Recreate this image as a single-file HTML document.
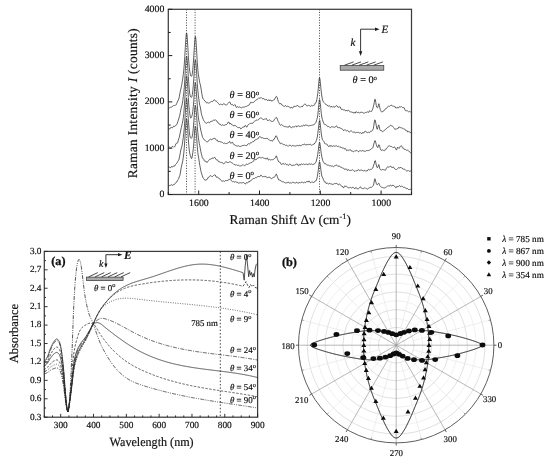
<!DOCTYPE html>
<html lang="en">
<head>
<meta charset="utf-8">
<title>Figure</title>
<style>
html,body{margin:0;padding:0;background:#fff;}
body{width:550px;height:463px;overflow:hidden;font-family:"Liberation Serif", "DejaVu Serif", serif;}
svg{display:block;}
</style>
</head>
<body>
<svg width="550" height="463" viewBox="0 0 550 463" font-family='"Liberation Serif", "DejaVu Serif", serif' fill="#111" text-rendering="geometricPrecision">
<g id="raman">
<rect x="168.3" y="9.3" width="243.2" height="185.2" fill="none" stroke="#3d3d3d" stroke-width="1.25"/>
<path d="M168.3 194.5h4M168.3 171.35h2.4M168.3 148.2h4M168.3 125.05h2.4M168.3 101.9h4M168.3 78.75h2.4M168.3 55.6h4M168.3 32.45h2.4M168.3 9.3h4M168.3 194.5v-2.4M198.7 194.5v-4M229.1 194.5v-2.4M259.5 194.5v-4M289.9 194.5v-2.4M320.3 194.5v-4M350.7 194.5v-2.4M381.1 194.5v-4M411.5 194.5v-2.4" fill="none" stroke="#1e1e1e" stroke-width="1.0" />
<text transform="translate(164.3 196.8) scale(1.0 1)" font-size="9.8" text-anchor="end" stroke="#111" stroke-width="0.18" >0</text>
<text transform="translate(164.3 150.5) scale(1.0 1)" font-size="9.8" text-anchor="end" stroke="#111" stroke-width="0.18" >1000</text>
<text transform="translate(164.3 104.2) scale(1.0 1)" font-size="9.8" text-anchor="end" stroke="#111" stroke-width="0.18" >2000</text>
<text transform="translate(164.3 57.9) scale(1.0 1)" font-size="9.8" text-anchor="end" stroke="#111" stroke-width="0.18" >3000</text>
<text transform="translate(164.3 11.6) scale(1.0 1)" font-size="9.8" text-anchor="end" stroke="#111" stroke-width="0.18" >4000</text>
<text transform="translate(198.9 206.1) scale(1.0 1)" font-size="9.8" text-anchor="middle" stroke="#111" stroke-width="0.18" >1600</text>
<text transform="translate(259.7 206.1) scale(1.0 1)" font-size="9.8" text-anchor="middle" stroke="#111" stroke-width="0.18" >1400</text>
<text transform="translate(320.5 206.1) scale(1.0 1)" font-size="9.8" text-anchor="middle" stroke="#111" stroke-width="0.18" >1200</text>
<text transform="translate(381.3 206.1) scale(1.0 1)" font-size="9.8" text-anchor="middle" stroke="#111" stroke-width="0.18" >1000</text>
<path d="M186.5 9.3V194.5" fill="none" stroke="#3c3c3c" stroke-width="0.9" stroke-dasharray="1.1 1.5" />
<path d="M195.1 9.3V194.5" fill="none" stroke="#3c3c3c" stroke-width="0.9" stroke-dasharray="1.1 1.5" />
<path d="M319.5 9.3V194.5" fill="none" stroke="#3c3c3c" stroke-width="0.9" stroke-dasharray="1.1 1.5" />
<path d="M168.3 186.18 L168.8 185.73 L169.3 185.54 L169.8 185.51 L170.3 185.21 L170.8 185.22 L171.3 184.95 L171.8 184.71 L172.3 185.29 L172.8 185.32 L173.3 184.71 L173.8 184.64 L174.3 184.58 L174.8 184.04 L175.3 183.17 L175.8 182.53 L176.3 182.37 L176.8 181.94 L177.3 180.82 L177.8 179.87 L178.3 179.43 L178.8 178.15 L179.3 176.76 L179.8 175.7 L180.3 173.13 L180.8 170.01 L181.3 167.23 L181.8 164.8 L182.3 163.07 L182.8 160.54 L183.3 157.21 L183.8 153.1 L184.3 147.35 L184.8 140.28 L185.3 131.89 L185.8 123.75 L186.3 118.72 L186.8 119.1 L187.3 123.97 L187.8 131.04 L188.3 138.82 L188.8 145.57 L189.3 150.58 L189.8 153.7 L190.3 155.43 L190.8 156.92 L191.3 158.41 L191.8 158.43 L192.3 156 L192.8 152.7 L193.3 148.74 L193.8 142.73 L194.3 135.71 L194.8 129.61 L195.3 126.34 L195.8 127.4 L196.3 132.58 L196.8 139.85 L197.3 146.82 L197.8 152.38 L198.3 156.03 L198.8 158.82 L199.3 162.22 L199.8 165.29 L200.3 167.91 L200.8 170.47 L201.3 172.63 L201.8 174.24 L202.3 175.65 L202.8 177.01 L203.3 178.36 L203.8 178.82 L204.3 179.24 L204.8 180.12 L205.3 180.25 L205.8 179.8 L206.3 179.82 L206.8 179.84 L207.3 178.82 L207.8 177.82 L208.3 177.76 L208.8 177.53 L209.3 176.61 L209.8 175.91 L210.3 175.72 L210.8 175.67 L211.3 175.93 L211.8 176.57 L212.3 176.64 L212.8 176.09 L213.3 175.65 L213.8 175.35 L214.3 175.02 L214.8 174.85 L215.3 175.04 L215.8 176.06 L216.3 177.27 L216.8 177.36 L217.3 177.05 L217.8 177.19 L218.3 177.74 L218.8 178.56 L219.3 178.8 L219.8 178.8 L220.3 179.34 L220.8 180.03 L221.3 180.67 L221.8 181.15 L222.3 181.31 L222.8 180.96 L223.3 180.82 L223.8 181.28 L224.3 181.59 L224.8 181.15 L225.3 180.56 L225.8 180.65 L226.3 180.69 L226.8 180.33 L227.3 180.5 L227.8 180.74 L228.3 179.96 L228.8 179.33 L229.3 179.48 L229.8 179.41 L230.3 179.52 L230.8 180.14 L231.3 180.68 L231.8 181.16 L232.3 181.6 L232.8 181.6 L233.3 181.47 L233.8 181.63 L234.3 181.97 L234.8 182.13 L235.3 181.77 L235.8 181.74 L236.3 182.21 L236.8 182.02 L237.3 182.07 L237.8 182.76 L238.3 183.12 L238.8 183.24 L239.3 183 L239.8 182.56 L240.3 182.54 L240.8 182.86 L241.3 182.99 L241.8 182.92 L242.3 182.76 L242.8 182.67 L243.3 182.66 L243.8 182.55 L244.3 182.98 L244.8 183.66 L245.3 184.01 L245.8 183.54 L246.3 182.64 L246.8 182.8 L247.3 183.17 L247.8 182.55 L248.3 181.77 L248.8 181.96 L249.3 181.88 L249.8 180.98 L250.3 180.99 L250.8 181 L251.3 180.36 L251.8 179.86 L252.3 179.17 L252.8 178.61 L253.3 178.54 L253.8 178.57 L254.3 178.58 L254.8 178.3 L255.3 177.68 L255.8 177.6 L256.3 177.87 L256.8 177.3 L257.3 176.63 L257.8 176.6 L258.3 176.52 L258.8 176.46 L259.3 176.66 L259.8 176.71 L260.3 176.04 L260.8 175.14 L261.3 175.4 L261.8 176.19 L262.3 176.56 L262.8 176.83 L263.3 176.64 L263.8 176.52 L264.3 176.76 L264.8 176.22 L265.3 176.26 L265.8 176.97 L266.3 176.84 L266.8 177.26 L267.3 177.88 L267.8 177.4 L268.3 177.2 L268.8 177.56 L269.3 177.27 L269.8 177.12 L270.3 177.85 L270.8 178.47 L271.3 178.65 L271.8 178.5 L272.3 178.13 L272.8 177.7 L273.3 177.38 L273.8 177.43 L274.3 177.34 L274.8 176.66 L275.3 175.68 L275.8 174.48 L276.3 174.06 L276.8 174.96 L277.3 176.44 L277.8 177.88 L278.3 179.17 L278.8 180.05 L279.3 180.12 L279.8 179.98 L280.3 180.2 L280.8 180.88 L281.3 181.32 L281.8 181.23 L282.3 181.56 L282.8 182 L283.3 181.88 L283.8 181.97 L284.3 182.42 L284.8 182.52 L285.3 182.72 L285.8 183.17 L286.3 183.1 L286.8 182.54 L287.3 182.41 L287.8 182.68 L288.3 182.38 L288.8 182.27 L289.3 182.98 L289.8 183.28 L290.3 182.96 L290.8 182.84 L291.3 183.06 L291.8 182.89 L292.3 182.44 L292.8 182.25 L293.3 182.46 L293.8 182.67 L294.3 182.78 L294.8 182.93 L295.3 183.06 L295.8 183.03 L296.3 182.5 L296.8 182.17 L297.3 182.55 L297.8 183.09 L298.3 183.35 L298.8 182.76 L299.3 182.03 L299.8 182.56 L300.3 183.12 L300.8 182.62 L301.3 182.24 L301.8 182.25 L302.3 182.28 L302.8 182.41 L303.3 182.62 L303.8 182.85 L304.3 182.5 L304.8 182.08 L305.3 182.43 L305.8 182.54 L306.3 182.05 L306.8 181.45 L307.3 181.41 L307.8 182.05 L308.3 181.83 L308.8 181.03 L309.3 181.2 L309.8 182.11 L310.3 182.66 L310.8 182.62 L311.3 182.35 L311.8 181.77 L312.3 181.78 L312.8 182.49 L313.3 182.6 L313.8 182.44 L314.3 182.2 L314.8 181.35 L315.3 180.94 L315.8 181.11 L316.3 180.4 L316.8 178.83 L317.3 176.79 L317.8 173.74 L318.3 169.98 L318.8 165.46 L319.3 161.77 L319.8 161.97 L320.3 165.31 L320.8 169.21 L321.3 173.05 L321.8 175.92 L322.3 177.11 L322.8 178.07 L323.3 179.26 L323.8 180.47 L324.3 181.74 L324.8 182.05 L325.3 181.8 L325.8 182.68 L326.3 183.7 L326.8 183.22 L327.3 182.9 L327.8 183.55 L328.3 183.98 L328.8 183.79 L329.3 183.32 L329.8 183.43 L330.3 184.01 L330.8 183.83 L331.3 183.66 L331.8 184.43 L332.3 184.66 L332.8 184.2 L333.3 184.12 L333.8 184.14 L334.3 183.7 L334.8 183.52 L335.3 183.62 L335.8 183.55 L336.3 183.52 L336.8 183.43 L337.3 183.7 L337.8 184.5 L338.3 184.91 L338.8 184.33 L339.3 184.01 L339.8 184.37 L340.3 184.61 L340.8 185.1 L341.3 185.85 L341.8 186.54 L342.3 186.65 L342.8 186.71 L343.3 187.61 L343.8 187.74 L344.3 186.47 L344.8 185.78 L345.3 186.41 L345.8 186.57 L346.3 186.24 L346.8 186.76 L347.3 187.1 L347.8 187.18 L348.3 187.79 L348.8 188.01 L349.3 187.71 L349.8 187.6 L350.3 187.43 L350.8 187.45 L351.3 187.92 L351.8 188.11 L352.3 187.49 L352.8 187.22 L353.3 187.61 L353.8 187.68 L354.3 188.29 L354.8 188.96 L355.3 188.37 L355.8 187.51 L356.3 187.72 L356.8 188.51 L357.3 188.69 L357.8 188.78 L358.3 188.87 L358.8 188.52 L359.3 188.1 L359.8 187.38 L360.3 186.72 L360.8 187.21 L361.3 188.08 L361.8 188.45 L362.3 188.54 L362.8 188.5 L363.3 188.62 L363.8 188.58 L364.3 188.14 L364.8 187.76 L365.3 187.84 L365.8 188.4 L366.3 188.6 L366.8 188.77 L367.3 189.15 L367.8 188.9 L368.3 188.47 L368.8 188.07 L369.3 187.64 L369.8 187.77 L370.3 187.53 L370.8 187.18 L371.3 187.37 L371.8 187.1 L372.3 186.59 L372.8 186.06 L373.3 185.48 L373.8 183.94 L374.3 180.92 L374.8 178.7 L375.3 179.53 L375.8 181.89 L376.3 183.45 L376.8 184.56 L377.3 184.89 L377.8 184.22 L378.3 183.55 L378.8 183.17 L379.3 184.29 L379.8 185.57 L380.3 186.27 L380.8 186.78 L381.3 187.07 L381.8 187.44 L382.3 187.59 L382.8 187.51 L383.3 187.73 L383.8 188.04 L384.3 187.99 L384.8 187.91 L385.3 187.55 L385.8 187.01 L386.3 186.94 L386.8 186.81 L387.3 186.34 L387.8 185.83 L388.3 185.7 L388.8 186.25 L389.3 186.27 L389.8 185.48 L390.3 185.17 L390.8 185.33 L391.3 185.67 L391.8 186.08 L392.3 185.73 L392.8 185 L393.3 185.25 L393.8 185.89 L394.3 186.25 L394.8 186.4 L395.3 186.76 L395.8 187.69 L396.3 187.56 L396.8 186.38 L397.3 186.43 L397.8 186.94 L398.3 186.69 L398.8 186.15 L399.3 185.61 L399.8 185.77 L400.3 186.49 L400.8 186.75 L401.3 186.32 L401.8 186.1 L402.3 186.43 L402.8 186.88 L403.3 187.27 L403.8 187.3 L404.3 187.29 L404.8 187.41 L405.3 187.63 L405.8 188.44 L406.3 188.71 L406.8 188.34 L407.3 188.39 L407.8 188.72 L408.3 189.38 L408.8 189.64 L409.3 189.54 L409.8 189.65 L410.3 189.41 L410.8 189.17 L411.3 189.37" fill="none" stroke="#2a2a2a" stroke-width="0.75" stroke-linejoin="round"/>
<path d="M168.3 167.36 L168.8 167.31 L169.3 167.25 L169.8 167.24 L170.3 167.6 L170.8 167.58 L171.3 166.73 L171.8 166.36 L172.3 166.98 L172.8 167.17 L173.3 166.35 L173.8 165.77 L174.3 166.15 L174.8 165.91 L175.3 164.81 L175.8 164.37 L176.3 163.81 L176.8 163.04 L177.3 162.39 L177.8 161.34 L178.3 160.67 L178.8 159.82 L179.3 157.87 L179.8 155.35 L180.3 152.7 L180.8 150.11 L181.3 148.16 L181.8 146.68 L182.3 144.14 L182.8 140.8 L183.3 137.27 L183.8 133.15 L184.3 127.72 L184.8 121.04 L185.3 113.3 L185.8 104.65 L186.3 98.61 L186.8 98.63 L187.3 104.04 L187.8 111.67 L188.3 119.2 L188.8 126.04 L189.3 131.53 L189.8 135.37 L190.3 137.52 L190.8 138.2 L191.3 138.33 L191.8 137.72 L192.3 135.98 L192.8 133.2 L193.3 128.28 L193.8 121.6 L194.3 114.61 L194.8 108.37 L195.3 105.42 L195.8 106.99 L196.3 111.74 L196.8 118.77 L197.3 126.4 L197.8 132.5 L198.3 137.15 L198.8 140.74 L199.3 143.49 L199.8 145.85 L200.3 148.48 L200.8 151.4 L201.3 153.63 L201.8 155.46 L202.3 157.55 L202.8 158.54 L203.3 158.61 L203.8 159.38 L204.3 160.75 L204.8 161.38 L205.3 161.24 L205.8 161.05 L206.3 161.58 L206.8 162.5 L207.3 162.25 L207.8 161.44 L208.3 160.86 L208.8 160.28 L209.3 159.58 L209.8 159.14 L210.3 159.08 L210.8 159.13 L211.3 158.94 L211.8 158.27 L212.3 158.01 L212.8 158.42 L213.3 158.44 L213.8 157.76 L214.3 157.24 L214.8 157.34 L215.3 158.09 L215.8 159.18 L216.3 159.76 L216.8 159.92 L217.3 159.9 L217.8 160.21 L218.3 161.29 L218.8 161.99 L219.3 161.85 L219.8 161.93 L220.3 162.27 L220.8 162.44 L221.3 162.58 L221.8 162.4 L222.3 162.51 L222.8 163.19 L223.3 163.81 L223.8 164 L224.3 163.48 L224.8 162.87 L225.3 162.23 L225.8 161.6 L226.3 161.8 L226.8 162.25 L227.3 162.33 L227.8 162.69 L228.3 162.57 L228.8 162 L229.3 161.91 L229.8 161.85 L230.3 161.84 L230.8 162.15 L231.3 162.5 L231.8 162.75 L232.3 163.13 L232.8 163.42 L233.3 163.81 L233.8 164.37 L234.3 164.5 L234.8 164.64 L235.3 165.1 L235.8 165.01 L236.3 164.7 L236.8 165.2 L237.3 165.48 L237.8 165.27 L238.3 165.2 L238.8 165.37 L239.3 165.85 L239.8 165.79 L240.3 165.78 L240.8 166.04 L241.3 165.89 L241.8 165.57 L242.3 165.12 L242.8 164.77 L243.3 164.73 L243.8 165.25 L244.3 165.76 L244.8 165.73 L245.3 165.31 L245.8 164.55 L246.3 164.11 L246.8 164.3 L247.3 164.52 L247.8 164.32 L248.3 164 L248.8 163.77 L249.3 163.36 L249.8 163.27 L250.3 163.19 L250.8 162.58 L251.3 162.49 L251.8 162.6 L252.3 162.08 L252.8 161.43 L253.3 161.21 L253.8 160.82 L254.3 159.58 L254.8 158.94 L255.3 159.48 L255.8 160.06 L256.3 159.7 L256.8 158.73 L257.3 158.28 L257.8 158.44 L258.3 158.29 L258.8 157.58 L259.3 157.03 L259.8 157.2 L260.3 157.79 L260.8 158.05 L261.3 157.97 L261.8 157.56 L262.3 157.31 L262.8 157.59 L263.3 157.84 L263.8 158.25 L264.3 158.51 L264.8 158.18 L265.3 158.32 L265.8 159.04 L266.3 159.12 L266.8 158.26 L267.3 157.86 L267.8 158.85 L268.3 159.95 L268.8 160.07 L269.3 159.58 L269.8 159.39 L270.3 159.83 L270.8 160.05 L271.3 159.76 L271.8 159.63 L272.3 159.73 L272.8 159.6 L273.3 159.33 L273.8 159.29 L274.3 158.92 L274.8 158.3 L275.3 157.8 L275.8 156.64 L276.3 155.81 L276.8 156.96 L277.3 158.52 L277.8 159.77 L278.3 161.08 L278.8 161.93 L279.3 162.33 L279.8 162.19 L280.3 162.49 L280.8 163.76 L281.3 164.51 L281.8 164.36 L282.3 164.09 L282.8 163.6 L283.3 163.36 L283.8 164.12 L284.3 164.47 L284.8 163.86 L285.3 163.56 L285.8 163.78 L286.3 164.56 L286.8 164.94 L287.3 164.51 L287.8 164.84 L288.3 165.49 L288.8 165.11 L289.3 164.4 L289.8 164.03 L290.3 164.32 L290.8 165 L291.3 165.31 L291.8 165.68 L292.3 165.64 L292.8 165 L293.3 164.99 L293.8 165.38 L294.3 165.38 L294.8 164.88 L295.3 164.61 L295.8 164.85 L296.3 164.33 L296.8 163.7 L297.3 164.24 L297.8 165.28 L298.3 165.62 L298.8 164.72 L299.3 164.49 L299.8 165.25 L300.3 165.02 L300.8 164.24 L301.3 163.79 L301.8 164.09 L302.3 164.68 L302.8 164.37 L303.3 163.86 L303.8 164.19 L304.3 164.56 L304.8 164.33 L305.3 164.31 L305.8 164.41 L306.3 164.12 L306.8 164.01 L307.3 164.62 L307.8 165.02 L308.3 164.41 L308.8 163.7 L309.3 163.7 L309.8 164.15 L310.3 164.31 L310.8 164.3 L311.3 164.06 L311.8 163.92 L312.3 164.38 L312.8 164.5 L313.3 164.23 L313.8 164.28 L314.3 164.21 L314.8 163.47 L315.3 162.82 L315.8 162.4 L316.3 161.07 L316.8 159.01 L317.3 156.89 L317.8 154.26 L318.3 150.38 L318.8 146.01 L319.3 142.74 L319.8 142.53 L320.3 145.85 L320.8 150.13 L321.3 153.75 L321.8 156.63 L322.3 158.96 L322.8 160.79 L323.3 161.78 L323.8 162.54 L324.3 163.42 L324.8 163.74 L325.3 163.56 L325.8 163.76 L326.3 164.58 L326.8 165.1 L327.3 165.11 L327.8 165 L328.3 165.03 L328.8 165.43 L329.3 165.77 L329.8 165.8 L330.3 165.72 L330.8 165.8 L331.3 166.07 L331.8 166.03 L332.3 165.94 L332.8 166.38 L333.3 166.71 L333.8 166.55 L334.3 166.12 L334.8 165.63 L335.3 165.53 L335.8 165.45 L336.3 164.98 L336.8 165.12 L337.3 165.83 L337.8 166.33 L338.3 166.26 L338.8 165.86 L339.3 165.87 L339.8 166.45 L340.3 167.09 L340.8 167.37 L341.3 167.35 L341.8 167.39 L342.3 167.91 L342.8 168.25 L343.3 168.06 L343.8 168.59 L344.3 169.4 L344.8 169.25 L345.3 169.01 L345.8 169.12 L346.3 169.05 L346.8 169.5 L347.3 170.44 L347.8 170.27 L348.3 169.47 L348.8 170.06 L349.3 170.63 L349.8 170.13 L350.3 170.29 L350.8 170.62 L351.3 170.33 L351.8 170.27 L352.3 169.95 L352.8 169.6 L353.3 170.08 L353.8 170.58 L354.3 171.19 L354.8 171.62 L355.3 171.11 L355.8 170.6 L356.3 170.7 L356.8 170.95 L357.3 170.76 L357.8 170.02 L358.3 169.48 L358.8 169.73 L359.3 170.5 L359.8 170.67 L360.3 170.29 L360.8 170.17 L361.3 170.14 L361.8 170.15 L362.3 170.28 L362.8 170.7 L363.3 171.19 L363.8 170.89 L364.3 170.25 L364.8 170.45 L365.3 171.03 L365.8 171.03 L366.3 170.87 L366.8 171.14 L367.3 170.97 L367.8 170.06 L368.3 169.43 L368.8 169.5 L369.3 169.92 L369.8 169.83 L370.3 169.36 L370.8 169.35 L371.3 169.48 L371.8 169.01 L372.3 168.55 L372.8 168.01 L373.3 166.31 L373.8 164.85 L374.3 163.44 L374.8 161 L375.3 160.53 L375.8 162.66 L376.3 165.14 L376.8 166.97 L377.3 167.72 L377.8 167.4 L378.3 165.92 L378.8 164.6 L379.3 166.23 L379.8 168.67 L380.3 169.55 L380.8 169.75 L381.3 169.98 L381.8 169.93 L382.3 169.63 L382.8 169.38 L383.3 169.53 L383.8 169.72 L384.3 169.74 L384.8 170.1 L385.3 170.33 L385.8 169.63 L386.3 168.38 L386.8 167.51 L387.3 167.06 L387.8 166.9 L388.3 167.06 L388.8 167.12 L389.3 166.88 L389.8 166.67 L390.3 166.51 L390.8 166.29 L391.3 166.62 L391.8 167.57 L392.3 167.67 L392.8 167.02 L393.3 166.94 L393.8 167.39 L394.3 168.17 L394.8 168.96 L395.3 169.32 L395.8 169.44 L396.3 169.54 L396.8 169.44 L397.3 169.09 L397.8 168.59 L398.3 167.79 L398.8 167.2 L399.3 167.75 L399.8 168.23 L400.3 167.57 L400.8 167.37 L401.3 167.91 L401.8 167.94 L402.3 168.18 L402.8 168.97 L403.3 169.29 L403.8 169.11 L404.3 169.06 L404.8 169.45 L405.3 169.95 L405.8 170.4 L406.3 170.86 L406.8 170.94 L407.3 170.85 L407.8 170.67 L408.3 170.57 L408.8 171.1 L409.3 171.41 L409.8 171.06 L410.3 170.97 L410.8 171.08 L411.3 171.11" fill="none" stroke="#2a2a2a" stroke-width="0.75" stroke-linejoin="round"/>
<path d="M168.3 147.79 L168.8 147.51 L169.3 147.11 L169.8 147.36 L170.3 147.85 L170.8 147.91 L171.3 147.51 L171.8 146.83 L172.3 146.34 L172.8 146.29 L173.3 146.83 L173.8 147.33 L174.3 147.05 L174.8 146.52 L175.3 145.43 L175.8 143.97 L176.3 143.32 L176.8 143.2 L177.3 143.2 L177.8 142.28 L178.3 140.31 L178.8 138.74 L179.3 137.24 L179.8 135 L180.3 132.29 L180.8 129.89 L181.3 127.67 L181.8 125.5 L182.3 123.47 L182.8 120.95 L183.3 117.78 L183.8 113.39 L184.3 106.93 L184.8 99.47 L185.3 91.18 L185.8 82.44 L186.3 76.5 L186.8 76.21 L187.3 81.06 L187.8 88.75 L188.3 97.36 L188.8 105.18 L189.3 110.46 L189.8 113.78 L190.3 116.81 L190.8 118.16 L191.3 117.37 L191.8 116.26 L192.3 114.64 L192.8 111.32 L193.3 106.55 L193.8 100.23 L194.3 92.56 L194.8 85.84 L195.3 82.71 L195.8 84.75 L196.3 91.08 L196.8 98.61 L197.3 105.27 L197.8 111.44 L198.3 116.87 L198.8 120.38 L199.3 122.54 L199.8 124.72 L200.3 127.47 L200.8 130.13 L201.3 132.36 L201.8 134.35 L202.3 136.32 L202.8 137.7 L203.3 138.36 L203.8 139.23 L204.3 140.06 L204.8 140.28 L205.3 140.55 L205.8 140.94 L206.3 141.42 L206.8 141.86 L207.3 141.79 L207.8 141.83 L208.3 141.36 L208.8 140.35 L209.3 139.98 L209.8 139.67 L210.3 139.26 L210.8 139.27 L211.3 139.47 L211.8 139.75 L212.3 139.46 L212.8 138.58 L213.3 138.38 L213.8 138.85 L214.3 138.51 L214.8 138.05 L215.3 138.82 L215.8 139.7 L216.3 140.11 L216.8 139.97 L217.3 140.04 L217.8 141.01 L218.3 141.85 L218.8 141.49 L219.3 141.2 L219.8 141.76 L220.3 141.86 L220.8 141.87 L221.3 142.03 L221.8 142.05 L222.3 142.37 L222.8 142.8 L223.3 143.21 L223.8 143.48 L224.3 143.22 L224.8 142.88 L225.3 143.27 L225.8 143.82 L226.3 143.7 L226.8 143.28 L227.3 143.15 L227.8 143.11 L228.3 143.01 L228.8 142.48 L229.3 141.52 L229.8 141.5 L230.3 142.5 L230.8 143.37 L231.3 143.14 L231.8 142.45 L232.3 142.28 L232.8 142.64 L233.3 143.81 L233.8 144.62 L234.3 144.67 L234.8 145.08 L235.3 145.48 L235.8 145.58 L236.3 145.86 L236.8 146.06 L237.3 146.05 L237.8 146.11 L238.3 145.86 L238.8 145.76 L239.3 146.3 L239.8 146.52 L240.3 146.36 L240.8 146.55 L241.3 146.32 L241.8 145.66 L242.3 145.56 L242.8 145.51 L243.3 145.43 L243.8 145.52 L244.3 145.3 L244.8 145.25 L245.3 145.47 L245.8 145.46 L246.3 145.64 L246.8 145.62 L247.3 144.81 L247.8 144.02 L248.3 143.66 L248.8 143.91 L249.3 144.26 L249.8 143.79 L250.3 142.87 L250.8 142.67 L251.3 142.79 L251.8 142.45 L252.3 141.89 L252.8 141.48 L253.3 141.64 L253.8 141.55 L254.3 140.71 L254.8 139.95 L255.3 139.76 L255.8 139.76 L256.3 139.52 L256.8 139.08 L257.3 138.77 L257.8 138.89 L258.3 138.53 L258.8 137.34 L259.3 136.71 L259.8 136.83 L260.3 136.87 L260.8 137.08 L261.3 137.74 L261.8 138.01 L262.3 137.78 L262.8 137.82 L263.3 138.19 L263.8 138.52 L264.3 138.5 L264.8 138.5 L265.3 138.53 L265.8 138.63 L266.3 138.56 L266.8 138.01 L267.3 138.16 L267.8 138.96 L268.3 139.33 L268.8 139.62 L269.3 139.94 L269.8 140.09 L270.3 140.63 L270.8 140.71 L271.3 140.36 L271.8 140.82 L272.3 141.32 L272.8 140.45 L273.3 139.47 L273.8 139.73 L274.3 139.17 L274.8 137.96 L275.3 137.1 L275.8 136 L276.3 135.78 L276.8 136.68 L277.3 138.06 L277.8 139.48 L278.3 140.43 L278.8 141.26 L279.3 141.9 L279.8 142.8 L280.3 143.74 L280.8 143.52 L281.3 143.16 L281.8 143.42 L282.3 143.73 L282.8 144.14 L283.3 144.52 L283.8 144.67 L284.3 144.66 L284.8 144.74 L285.3 145.26 L285.8 145.49 L286.3 145.18 L286.8 145.21 L287.3 145.71 L287.8 146.28 L288.3 146.17 L288.8 145.65 L289.3 145.35 L289.8 145.04 L290.3 145.16 L290.8 145.79 L291.3 146.29 L291.8 146.28 L292.3 145.61 L292.8 145.27 L293.3 145.61 L293.8 145.81 L294.3 145.84 L294.8 145.92 L295.3 146.03 L295.8 146.09 L296.3 145.84 L296.8 145.59 L297.3 145.55 L297.8 145.3 L298.3 145.52 L298.8 145.99 L299.3 145.38 L299.8 144.94 L300.3 145.54 L300.8 145.82 L301.3 145.51 L301.8 145.1 L302.3 144.76 L302.8 144.38 L303.3 144.45 L303.8 144.8 L304.3 144.42 L304.8 143.98 L305.3 144.43 L305.8 145.17 L306.3 145.01 L306.8 144.41 L307.3 144.44 L307.8 144.84 L308.3 144.64 L308.8 144.26 L309.3 144.58 L309.8 144.56 L310.3 144.22 L310.8 144.47 L311.3 145.17 L311.8 145.44 L312.3 145.03 L312.8 144.53 L313.3 144.22 L313.8 144.36 L314.3 144.03 L314.8 142.98 L315.3 142.61 L315.8 142.03 L316.3 140.42 L316.8 139.09 L317.3 137.08 L317.8 133.5 L318.3 129.44 L318.8 125.1 L319.3 121.09 L319.8 120.4 L320.3 124.16 L320.8 129.38 L321.3 133.92 L321.8 137.19 L322.3 139.22 L322.8 140.32 L323.3 140.72 L323.8 141.37 L324.3 142.38 L324.8 143.49 L325.3 144.01 L325.8 143.83 L326.3 143.98 L326.8 144.09 L327.3 144.63 L327.8 145.72 L328.3 146.25 L328.8 146.64 L329.3 146.47 L329.8 145.44 L330.3 145.49 L330.8 146.43 L331.3 146.11 L331.8 145.72 L332.3 146.21 L332.8 146.21 L333.3 145.85 L333.8 145.92 L334.3 146.11 L334.8 146.23 L335.3 146.17 L335.8 145.78 L336.3 145.71 L336.8 146.04 L337.3 146.38 L337.8 146.55 L338.3 146.43 L338.8 146.27 L339.3 146.67 L339.8 147.18 L340.3 147.07 L340.8 147.11 L341.3 147.44 L341.8 148 L342.3 148.14 L342.8 147.76 L343.3 147.74 L343.8 148.24 L344.3 149.02 L344.8 148.87 L345.3 148.39 L345.8 149.08 L346.3 150.24 L346.8 150.8 L347.3 150.45 L347.8 149.82 L348.3 150.13 L348.8 150.61 L349.3 150.2 L349.8 149.86 L350.3 149.74 L350.8 150.09 L351.3 150.96 L351.8 151.25 L352.3 151.15 L352.8 151.32 L353.3 151.67 L353.8 151.69 L354.3 151.15 L354.8 150.61 L355.3 150.72 L355.8 151.14 L356.3 150.76 L356.8 150.32 L357.3 150.7 L357.8 151.25 L358.3 151.68 L358.8 151.58 L359.3 150.93 L359.8 150.66 L360.3 150.66 L360.8 150.63 L361.3 151.01 L361.8 151.37 L362.3 150.98 L362.8 150.31 L363.3 150.62 L363.8 151.22 L364.3 151.12 L364.8 151.32 L365.3 151.4 L365.8 150.83 L366.3 150.57 L366.8 150.66 L367.3 150.55 L367.8 150.61 L368.3 150.63 L368.8 150.37 L369.3 150.28 L369.8 150.01 L370.3 149.65 L370.8 149.56 L371.3 149.06 L371.8 148.4 L372.3 148.22 L372.8 147.68 L373.3 146.06 L373.8 144.11 L374.3 142.37 L374.8 140.68 L375.3 140.83 L375.8 142.72 L376.3 144.6 L376.8 146.1 L377.3 147.24 L377.8 147.61 L378.3 146.34 L378.8 144.62 L379.3 145.09 L379.8 146.87 L380.3 148.68 L380.8 149.95 L381.3 150.46 L381.8 150.07 L382.3 149.79 L382.8 150.09 L383.3 150.25 L383.8 150.74 L384.3 150.95 L384.8 150.38 L385.3 149.42 L385.8 148.86 L386.3 148.98 L386.8 148.49 L387.3 147.56 L387.8 146.83 L388.3 146.24 L388.8 145.85 L389.3 145.8 L389.8 145.95 L390.3 146.23 L390.8 146.57 L391.3 146.54 L391.8 146.46 L392.3 147.02 L392.8 147.55 L393.3 147.53 L393.8 147.31 L394.3 146.86 L394.8 147.17 L395.3 148 L395.8 148.82 L396.3 149.97 L396.8 149.57 L397.3 147.77 L397.8 147.1 L398.3 147.74 L398.8 148.4 L399.3 148.21 L399.8 147.27 L400.3 146.42 L400.8 145.9 L401.3 145.61 L401.8 146.31 L402.3 147.67 L402.8 148.1 L403.3 147.91 L403.8 148.62 L404.3 149.5 L404.8 149.41 L405.3 149.41 L405.8 149.95 L406.3 150.28 L406.8 150.2 L407.3 150.1 L407.8 150.33 L408.3 150.62 L408.8 151.03 L409.3 151.74 L409.8 152.15 L410.3 152.48 L410.8 152.94 L411.3 152.75" fill="none" stroke="#2a2a2a" stroke-width="0.75" stroke-linejoin="round"/>
<path d="M168.3 129.27 L168.8 128.92 L169.3 128.86 L169.8 129.01 L170.3 128.18 L170.8 127.39 L171.3 127.34 L171.8 127.57 L172.3 127.78 L172.8 127.59 L173.3 126.68 L173.8 125.98 L174.3 126.33 L174.8 126.46 L175.3 125.76 L175.8 125.16 L176.3 125.03 L176.8 124.6 L177.3 123.2 L177.8 121.54 L178.3 120.33 L178.8 118.71 L179.3 116.86 L179.8 115.16 L180.3 112.63 L180.8 109.95 L181.3 107.55 L181.8 105.68 L182.3 103.69 L182.8 100.5 L183.3 96.76 L183.8 92.75 L184.3 87.16 L184.8 79.37 L185.3 70.49 L185.8 62.29 L186.3 56.85 L186.8 56.31 L187.3 60.8 L187.8 68.59 L188.3 76.73 L188.8 83.81 L189.3 89.97 L189.8 94.14 L190.3 96.11 L190.8 97.03 L191.3 97.51 L191.8 96.98 L192.3 94.67 L192.8 90.81 L193.3 85.42 L193.8 78.56 L194.3 70.31 L194.8 62.88 L195.3 59.97 L195.8 61.86 L196.3 67.52 L196.8 75.79 L197.3 83.68 L197.8 89.99 L198.3 94.93 L198.8 98.78 L199.3 102.54 L199.8 105.33 L200.3 107.11 L200.8 110.04 L201.3 113.33 L201.8 115.4 L202.3 116.73 L202.8 118.1 L203.3 119.56 L203.8 120.69 L204.3 121.26 L204.8 121.73 L205.3 122.59 L205.8 123.16 L206.3 123.31 L206.8 123 L207.3 122.57 L207.8 122.45 L208.3 122.25 L208.8 122.29 L209.3 122.65 L209.8 122.64 L210.3 121.99 L210.8 121.29 L211.3 121.15 L211.8 121.48 L212.3 121.41 L212.8 120.74 L213.3 120.18 L213.8 119.99 L214.3 120.35 L214.8 120.18 L215.3 119.69 L215.8 120.38 L216.3 120.72 L216.8 120.74 L217.3 121.8 L217.8 122.71 L218.3 122.89 L218.8 123.31 L219.3 124.22 L219.8 124.26 L220.3 124.29 L220.8 124.99 L221.3 125.26 L221.8 125.4 L222.3 125.07 L222.8 124.7 L223.3 125.23 L223.8 125.32 L224.3 125.26 L224.8 125.2 L225.3 124.72 L225.8 124.69 L226.3 124.69 L226.8 124.33 L227.3 123.71 L227.8 122.66 L228.3 121.97 L228.8 121.99 L229.3 123.07 L229.8 124.1 L230.3 123.67 L230.8 123.37 L231.3 124.08 L231.8 124.88 L232.3 124.99 L232.8 124.97 L233.3 125.59 L233.8 126.06 L234.3 125.86 L234.8 125.2 L235.3 125.44 L235.8 126.11 L236.3 126.21 L236.8 126.77 L237.3 127.32 L237.8 127.41 L238.3 127.56 L238.8 127.7 L239.3 127.65 L239.8 127.46 L240.3 128.04 L240.8 128.91 L241.3 128.63 L241.8 127.94 L242.3 127.44 L242.8 127.04 L243.3 127 L243.8 127.14 L244.3 127.04 L244.8 126.1 L245.3 125.33 L245.8 125.81 L246.3 126.8 L246.8 127.23 L247.3 126.35 L247.8 125.15 L248.3 124.63 L248.8 124.36 L249.3 124.1 L249.8 123.55 L250.3 123.26 L250.8 123.62 L251.3 123.56 L251.8 123.16 L252.3 123.31 L252.8 123.39 L253.3 122.54 L253.8 121.9 L254.3 121.51 L254.8 120.95 L255.3 120.84 L255.8 120.42 L256.3 119.98 L256.8 120.35 L257.3 120.38 L257.8 119.78 L258.3 119.61 L258.8 119.14 L259.3 118.59 L259.8 118.68 L260.3 118.25 L260.8 117.77 L261.3 117.97 L261.8 118.46 L262.3 118.84 L262.8 119.14 L263.3 119.65 L263.8 119.54 L264.3 119.02 L264.8 119.13 L265.3 119.21 L265.8 118.62 L266.3 118.51 L266.8 119.44 L267.3 120.36 L267.8 120.6 L268.3 120.54 L268.8 120.17 L269.3 119.84 L269.8 120.02 L270.3 120.44 L270.8 121.11 L271.3 121.34 L271.8 121.27 L272.3 121.43 L272.8 121.4 L273.3 121.21 L273.8 120.75 L274.3 119.73 L274.8 118.78 L275.3 118.42 L275.8 117.97 L276.3 117.35 L276.8 117.76 L277.3 119.17 L277.8 120.57 L278.3 121.67 L278.8 122.46 L279.3 123.59 L279.8 124.75 L280.3 125.19 L280.8 125.13 L281.3 124.69 L281.8 124.66 L282.3 125.3 L282.8 125.72 L283.3 125.97 L283.8 126.16 L284.3 126.31 L284.8 126.84 L285.3 126.79 L285.8 126.36 L286.3 126.6 L286.8 127 L287.3 127.15 L287.8 127.06 L288.3 127.24 L288.8 126.93 L289.3 125.9 L289.8 126.04 L290.3 127 L290.8 127.54 L291.3 127.79 L291.8 127.38 L292.3 126.92 L292.8 127.02 L293.3 126.97 L293.8 126.86 L294.3 126.97 L294.8 126.84 L295.3 126.3 L295.8 125.78 L296.3 126.2 L296.8 127.03 L297.3 126.59 L297.8 125.88 L298.3 125.82 L298.8 125.93 L299.3 126.25 L299.8 126.55 L300.3 126.53 L300.8 126.23 L301.3 125.89 L301.8 126.05 L302.3 126.31 L302.8 126.02 L303.3 125.34 L303.8 124.9 L304.3 125.35 L304.8 125.93 L305.3 125.48 L305.8 124.63 L306.3 124.92 L306.8 125.49 L307.3 125.44 L307.8 125.4 L308.3 125.74 L308.8 126.01 L309.3 125.81 L309.8 125.58 L310.3 125.52 L310.8 125.54 L311.3 125.49 L311.8 124.98 L312.3 124.94 L312.8 125.33 L313.3 124.95 L313.8 124.56 L314.3 124.32 L314.8 123.94 L315.3 123.46 L315.8 122.68 L316.3 121.24 L316.8 119.53 L317.3 117.91 L317.8 115.09 L318.3 110.33 L318.8 104.49 L319.3 99.88 L319.8 99.63 L320.3 103.46 L320.8 108.66 L321.3 113.54 L321.8 117.06 L322.3 119.36 L322.8 120.86 L323.3 122.11 L323.8 123.36 L324.3 124.26 L324.8 124.57 L325.3 124.52 L325.8 124.88 L326.3 125.17 L326.8 125.42 L327.3 126.31 L327.8 126.74 L328.3 126.51 L328.8 126.61 L329.3 126.97 L329.8 127.37 L330.3 127.78 L330.8 127.29 L331.3 126.71 L331.8 127 L332.3 126.96 L332.8 126.77 L333.3 126.91 L333.8 127.07 L334.3 127.28 L334.8 127.41 L335.3 127.05 L335.8 126.3 L336.3 125.87 L336.8 126.21 L337.3 127 L337.8 127.81 L338.3 127.89 L338.8 127.38 L339.3 127.53 L339.8 127.9 L340.3 128.09 L340.8 128.41 L341.3 128.58 L341.8 128.64 L342.3 128.92 L342.8 129.62 L343.3 130.43 L343.8 130.58 L344.3 129.93 L344.8 129.65 L345.3 129.94 L345.8 130.42 L346.3 130.84 L346.8 130.8 L347.3 130.63 L347.8 130.56 L348.3 130.91 L348.8 131.71 L349.3 132.02 L349.8 131.72 L350.3 131.31 L350.8 130.82 L351.3 130.84 L351.8 131.32 L352.3 131.78 L352.8 132.32 L353.3 132.2 L353.8 131.82 L354.3 131.93 L354.8 132.33 L355.3 132.91 L355.8 132.89 L356.3 132.49 L356.8 132.38 L357.3 132.41 L357.8 132.34 L358.3 132.38 L358.8 132.74 L359.3 132.95 L359.8 132.89 L360.3 132.82 L360.8 132.67 L361.3 133.11 L361.8 133.69 L362.3 132.89 L362.8 132.41 L363.3 133.07 L363.8 133.03 L364.3 132.07 L364.8 131.34 L365.3 131.32 L365.8 131.54 L366.3 131.79 L366.8 132.26 L367.3 132.82 L367.8 132.67 L368.3 132.16 L368.8 132.25 L369.3 132.6 L369.8 132.41 L370.3 131.56 L370.8 131.06 L371.3 131.37 L371.8 131.13 L372.3 130.36 L372.8 130.03 L373.3 128.71 L373.8 125.57 L374.3 122.04 L374.8 119.8 L375.3 120.53 L375.8 123.04 L376.3 125.66 L376.8 128.43 L377.3 129.3 L377.8 127.66 L378.3 125.71 L378.8 124.88 L379.3 126.82 L379.8 129.38 L380.3 130.51 L380.8 130.43 L381.3 130.46 L381.8 131.35 L382.3 131.77 L382.8 131.4 L383.3 131.22 L383.8 131.01 L384.3 130.39 L384.8 129.94 L385.3 129.57 L385.8 129.18 L386.3 128.92 L386.8 128.28 L387.3 127.67 L387.8 127.33 L388.3 127.06 L388.8 126.86 L389.3 126.49 L389.8 125.72 L390.3 125.28 L390.8 125.66 L391.3 125.84 L391.8 125.8 L392.3 126.02 L392.8 126.47 L393.3 127.18 L393.8 127.66 L394.3 128.49 L394.8 129.38 L395.3 129.19 L395.8 129.01 L396.3 129.08 L396.8 128.69 L397.3 128.48 L397.8 128.77 L398.3 128.12 L398.8 126.96 L399.3 127.07 L399.8 127.35 L400.3 127.47 L400.8 127.77 L401.3 127.81 L401.8 127.97 L402.3 128.02 L402.8 128.36 L403.3 128.88 L403.8 128.93 L404.3 128.99 L404.8 129.1 L405.3 129.65 L405.8 130.64 L406.3 130.86 L406.8 130.41 L407.3 131.02 L407.8 132.09 L408.3 131.73 L408.8 131.49 L409.3 131.93 L409.8 131.95 L410.3 132.28 L410.8 133.03 L411.3 133.27" fill="none" stroke="#2a2a2a" stroke-width="0.75" stroke-linejoin="round"/>
<path d="M168.3 108.34 L168.8 108.46 L169.3 108 L169.8 107.54 L170.3 107.37 L170.8 107.26 L171.3 107.27 L171.8 106.89 L172.3 106.36 L172.8 106.13 L173.3 105.75 L173.8 105.39 L174.3 105.48 L174.8 105.53 L175.3 105.27 L175.8 105.12 L176.3 104.6 L176.8 103.3 L177.3 102.02 L177.8 101.03 L178.3 100.07 L178.8 98.88 L179.3 96.77 L179.8 93.9 L180.3 91.29 L180.8 89.09 L181.3 86.81 L181.8 84.36 L182.3 81.36 L182.8 78.14 L183.3 74.56 L183.8 70.01 L184.3 64.05 L184.8 56.45 L185.3 47.64 L185.8 39.31 L186.3 33.69 L186.8 33.1 L187.3 38.24 L187.8 46.98 L188.3 55.48 L188.8 62.17 L189.3 67.65 L189.8 71.57 L190.3 74.25 L190.8 75.95 L191.3 76.43 L191.8 75.99 L192.3 73.8 L192.8 69.27 L193.3 63.18 L193.8 55.93 L194.3 47.88 L194.8 40.43 L195.3 36.49 L195.8 38.43 L196.3 45.21 L196.8 54.15 L197.3 62.77 L197.8 69.41 L198.3 73.84 L198.8 77.04 L199.3 80.12 L199.8 82.88 L200.3 84.68 L200.8 87.05 L201.3 90.24 L201.8 93.35 L202.3 96.31 L202.8 98.29 L203.3 99.08 L203.8 99.49 L204.3 100.09 L204.8 101.04 L205.3 101.64 L205.8 101.7 L206.3 102.4 L206.8 103.2 L207.3 102.74 L207.8 102.44 L208.3 102.93 L208.8 103.11 L209.3 102.96 L209.8 102.48 L210.3 102.11 L210.8 102.16 L211.3 101.65 L211.8 101.23 L212.3 101.52 L212.8 101.38 L213.3 100.8 L213.8 99.99 L214.3 99.69 L214.8 100.08 L215.3 100.76 L215.8 101.23 L216.3 101.23 L216.8 101.53 L217.3 102.14 L217.8 102.9 L218.3 103.33 L218.8 103.81 L219.3 104.54 L219.8 104.62 L220.3 104.34 L220.8 104.03 L221.3 104.23 L221.8 104.72 L222.3 104.8 L222.8 104.62 L223.3 103.94 L223.8 103.47 L224.3 103.9 L224.8 104.26 L225.3 104.47 L225.8 105.08 L226.3 105.23 L226.8 104.65 L227.3 104.13 L227.8 103.65 L228.3 103.09 L228.8 102.48 L229.3 101.9 L229.8 101.98 L230.3 102.98 L230.8 104.09 L231.3 104.71 L231.8 104.67 L232.3 104.36 L232.8 104.79 L233.3 105.52 L233.8 105.51 L234.3 104.93 L234.8 104.53 L235.3 104.89 L235.8 106.29 L236.3 107.51 L236.8 107.12 L237.3 106.62 L237.8 106.98 L238.3 107.27 L238.8 107.31 L239.3 107.06 L239.8 106.8 L240.3 107.18 L240.8 107.72 L241.3 107.92 L241.8 107.65 L242.3 107.23 L242.8 107.3 L243.3 107.22 L243.8 107.15 L244.3 107.18 L244.8 106.75 L245.3 106.51 L245.8 106.52 L246.3 106.4 L246.8 106.3 L247.3 106.11 L247.8 105.43 L248.3 105.18 L248.8 105.36 L249.3 104.74 L249.8 103.91 L250.3 102.98 L250.8 102.17 L251.3 102.32 L251.8 102.72 L252.3 102.66 L252.8 102.4 L253.3 102.33 L253.8 102.26 L254.3 101.8 L254.8 101.14 L255.3 100.64 L255.8 100.11 L256.3 99.93 L256.8 99.87 L257.3 99.17 L257.8 98.86 L258.3 98.46 L258.8 97.9 L259.3 98.16 L259.8 98.26 L260.3 98.08 L260.8 97.72 L261.3 97.51 L261.8 98.02 L262.3 98.62 L262.8 98.99 L263.3 98.68 L263.8 98.43 L264.3 99.21 L264.8 99.79 L265.3 99.79 L265.8 99.57 L266.3 99.43 L266.8 99.65 L267.3 100.34 L267.8 100.98 L268.3 100.36 L268.8 99.68 L269.3 100.3 L269.8 100.89 L270.3 100.18 L270.8 99.91 L271.3 100.95 L271.8 101.15 L272.3 100.84 L272.8 100.76 L273.3 100.13 L273.8 99.81 L274.3 99.78 L274.8 98.97 L275.3 97.81 L275.8 96.77 L276.3 96.39 L276.8 96.7 L277.3 97.86 L277.8 99.87 L278.3 101.47 L278.8 102.56 L279.3 103.48 L279.8 104.05 L280.3 103.71 L280.8 103.38 L281.3 104.22 L281.8 105.01 L282.3 105.07 L282.8 105.46 L283.3 106.1 L283.8 106.26 L284.3 106.41 L284.8 106.14 L285.3 105.58 L285.8 105.76 L286.3 106.39 L286.8 106.69 L287.3 106.39 L287.8 106.14 L288.3 106.39 L288.8 106.69 L289.3 106.79 L289.8 107.39 L290.3 108.15 L290.8 107.8 L291.3 107.2 L291.8 107.6 L292.3 108.18 L292.8 107.94 L293.3 107.15 L293.8 106.37 L294.3 106.19 L294.8 106.64 L295.3 106.63 L295.8 106.04 L296.3 106.03 L296.8 106.08 L297.3 105.48 L297.8 105.48 L298.3 106.28 L298.8 106.71 L299.3 106.78 L299.8 107.03 L300.3 107.17 L300.8 106.66 L301.3 106.4 L301.8 106.9 L302.3 106.91 L302.8 106.03 L303.3 105.31 L303.8 104.84 L304.3 104.37 L304.8 104.12 L305.3 104.01 L305.8 104.71 L306.3 105.52 L306.8 105.76 L307.3 105.92 L307.8 105.66 L308.3 105.34 L308.8 105.41 L309.3 105.58 L309.8 105.79 L310.3 106.27 L310.8 106.42 L311.3 105.67 L311.8 105.12 L312.3 105.59 L312.8 106.02 L313.3 105.68 L313.8 105.32 L314.3 105.27 L314.8 104.31 L315.3 102.99 L315.8 102.79 L316.3 101.97 L316.8 99.68 L317.3 96.8 L317.8 93.39 L318.3 88.42 L318.8 82.39 L319.3 78.12 L319.8 78.02 L320.3 82.19 L320.8 87.59 L321.3 92.14 L321.8 95.94 L322.3 98.79 L322.8 100.69 L323.3 101.85 L323.8 102.32 L324.3 102.75 L324.8 103.34 L325.3 103.74 L325.8 104.45 L326.3 104.96 L326.8 104.76 L327.3 105.15 L327.8 105.97 L328.3 106.14 L328.8 106 L329.3 105.78 L329.8 105.86 L330.3 106.65 L330.8 107.39 L331.3 106.91 L331.8 106.27 L332.3 106.8 L332.8 107.36 L333.3 106.97 L333.8 106.37 L334.3 106.81 L334.8 107.21 L335.3 106.57 L335.8 106.15 L336.3 105.81 L336.8 105.57 L337.3 106.21 L337.8 107.18 L338.3 107.36 L338.8 106.94 L339.3 106.89 L339.8 106.83 L340.3 107.03 L340.8 108.29 L341.3 109.44 L341.8 109.45 L342.3 109.26 L342.8 109.79 L343.3 110.01 L343.8 109.7 L344.3 109.7 L344.8 109.97 L345.3 110.67 L345.8 111.07 L346.3 110.41 L346.8 110.33 L347.3 111.08 L347.8 110.92 L348.3 110.29 L348.8 110.41 L349.3 110.83 L349.8 111.26 L350.3 111.93 L350.8 112.26 L351.3 112.09 L351.8 111.9 L352.3 112.04 L352.8 112.7 L353.3 112.92 L353.8 112.3 L354.3 112.39 L354.8 113.23 L355.3 113.01 L355.8 111.93 L356.3 111.56 L356.8 112.29 L357.3 112.85 L357.8 112.54 L358.3 112.28 L358.8 112.49 L359.3 113.07 L359.8 113.08 L360.3 112.37 L360.8 112.25 L361.3 112.39 L361.8 112.12 L362.3 112.2 L362.8 112.75 L363.3 112.98 L363.8 113.21 L364.3 113.24 L364.8 112.79 L365.3 112.55 L365.8 112.37 L366.3 112.35 L366.8 112.42 L367.3 111.98 L367.8 111.87 L368.3 112.45 L368.8 112.15 L369.3 111.01 L369.8 110.58 L370.3 111.15 L370.8 111.65 L371.3 111.59 L371.8 110.93 L372.3 109.9 L372.8 108.62 L373.3 106.85 L373.8 105.01 L374.3 102.29 L374.8 99.28 L375.3 99.49 L375.8 102.46 L376.3 105.52 L376.8 107.27 L377.3 107.73 L377.8 107.44 L378.3 105.6 L378.8 103.7 L379.3 105.23 L379.8 107.87 L380.3 109.6 L380.8 110.67 L381.3 111.59 L381.8 112.21 L382.3 111.8 L382.8 111.18 L383.3 111.14 L383.8 110.93 L384.3 110.17 L384.8 109.36 L385.3 108.97 L385.8 108.92 L386.3 108.64 L386.8 107.87 L387.3 107.17 L387.8 106.7 L388.3 106.16 L388.8 106.1 L389.3 106.33 L389.8 106.24 L390.3 105.81 L390.8 105.31 L391.3 105.13 L391.8 105.44 L392.3 106.05 L392.8 106.08 L393.3 105.93 L393.8 106.49 L394.3 106.74 L394.8 106.34 L395.3 106.89 L395.8 108.01 L396.3 108.2 L396.8 107.6 L397.3 107.4 L397.8 108.01 L398.3 108.13 L398.8 107.35 L399.3 106.72 L399.8 106.98 L400.3 107.14 L400.8 106.65 L401.3 106.46 L401.8 106.86 L402.3 107.43 L402.8 107.67 L403.3 107.61 L403.8 107.42 L404.3 107.98 L404.8 109.48 L405.3 110.49 L405.8 110.81 L406.3 110.83 L406.8 110.56 L407.3 110.71 L407.8 111.12 L408.3 111.59 L408.8 111.85 L409.3 111.38 L409.8 111.32 L410.3 111.67 L410.8 112.04 L411.3 112.55" fill="none" stroke="#2a2a2a" stroke-width="0.75" stroke-linejoin="round"/>
<text transform="translate(229.6 178.6) scale(1.0 1)" font-size="10.2" text-anchor="start" stroke="#111" stroke-width="0.18" ><tspan font-style="italic">θ</tspan> = 0<tspan dy="-3.6" font-size="6.8">o</tspan></text>
<text transform="translate(229.6 158.5) scale(1.0 1)" font-size="10.2" text-anchor="start" stroke="#111" stroke-width="0.18" ><tspan font-style="italic">θ</tspan> = 20<tspan dy="-3.6" font-size="6.8">o</tspan></text>
<text transform="translate(229.6 138.4) scale(1.0 1)" font-size="10.2" text-anchor="start" stroke="#111" stroke-width="0.18" ><tspan font-style="italic">θ</tspan> = 40<tspan dy="-3.6" font-size="6.8">o</tspan></text>
<text transform="translate(229.6 118.3) scale(1.0 1)" font-size="10.2" text-anchor="start" stroke="#111" stroke-width="0.18" ><tspan font-style="italic">θ</tspan> = 60<tspan dy="-3.6" font-size="6.8">o</tspan></text>
<text transform="translate(229.6 98.2) scale(1.0 1)" font-size="10.2" text-anchor="start" stroke="#111" stroke-width="0.18" ><tspan font-style="italic">θ</tspan> = 80<tspan dy="-3.6" font-size="6.8">o</tspan></text>
<path d="M360.6 54V29.2H377" fill="none" stroke="#1e1e1e" stroke-width="0.9" />
<path d="M379.6 29.2l-4.6 -1.7v3.4z M360.6 56l-1.7 -4.8h3.4z" fill="#1e1e1e"/>
<text transform="translate(381.4 32.8) scale(1.0 1)" font-size="11" text-anchor="start" stroke="#111" stroke-width="0.18" font-style="italic">E</text>
<text transform="translate(350.6 46.2) scale(1.0 1)" font-size="11" text-anchor="start" stroke="#111" stroke-width="0.18" font-style="italic">k</text>
<rect x="340.2" y="65.6" width="43.6" height="4.6" fill="#a9a9a9" stroke="#333" stroke-width="0.7"/>
<path d="M344.5 65.2l9.2 -3.3M351.8 65.2l9.2 -3.3M359.1 65.2l9.2 -3.3M366.4 65.2l9.2 -3.3M373.7 65.2l9.2 -3.3" fill="none" stroke="#1e1e1e" stroke-width="0.8" />
<text transform="translate(352.6 83.3) scale(1.0 1)" font-size="10.2" text-anchor="start" stroke="#111" stroke-width="0.18" ><tspan font-style="italic">θ</tspan> = 0<tspan dy="-3.6" font-size="6.8">o</tspan></text>
<text transform="translate(290.2 224.1) scale(1.0 1)" font-size="13.3" text-anchor="middle" stroke="#111" stroke-width="0.18" textLength="121.3" lengthAdjust="spacing">Raman Shift Δν (cm<tspan dy="-5.2" font-size="8.2">-1</tspan><tspan dy="5.2">)</tspan></text>
<text transform="translate(136.8 103.2) rotate(-90)" font-size="13.3" text-anchor="middle" textLength="150" lengthAdjust="spacing" stroke="#111" stroke-width="0.18">Raman Intensity <tspan font-style="italic">I</tspan> (counts)</text>
</g>
<g id="absorb">
<rect x="44.3" y="251.4" width="213.3" height="165.8" fill="none" stroke="#3d3d3d" stroke-width="1.25"/>
<path d="M44.3 417.2h3.3M44.3 407.99h1.7M44.3 398.78h3.3M44.3 389.57h1.7M44.3 380.36h3.3M44.3 371.14h1.7M44.3 361.93h3.3M44.3 352.72h1.7M44.3 343.51h3.3M44.3 334.3h1.7M44.3 325.09h3.3M44.3 315.88h1.7M44.3 306.67h3.3M44.3 297.46h1.7M44.3 288.24h3.3M44.3 279.03h1.7M44.3 269.82h3.3M44.3 260.61h1.7M44.3 251.4h3.3M44.3 417.2v-1.8M52.5 417.2v-1.8M60.71 417.2v-3.4M68.91 417.2v-1.8M77.12 417.2v-1.8M85.32 417.2v-1.8M93.52 417.2v-3.4M101.73 417.2v-1.8M109.93 417.2v-1.8M118.13 417.2v-1.8M126.34 417.2v-3.4M134.54 417.2v-1.8M142.75 417.2v-1.8M150.95 417.2v-1.8M159.15 417.2v-3.4M167.36 417.2v-1.8M175.56 417.2v-1.8M183.77 417.2v-1.8M191.97 417.2v-3.4M200.17 417.2v-1.8M208.38 417.2v-1.8M216.58 417.2v-1.8M224.78 417.2v-3.4M232.99 417.2v-1.8M241.19 417.2v-1.8M249.4 417.2v-1.8M257.6 417.2v-3.4" fill="none" stroke="#1e1e1e" stroke-width="0.9" />
<text transform="translate(41.5 419.5) scale(1.0 1)" font-size="9.3" text-anchor="end" stroke="#111" stroke-width="0.18" >0.3</text>
<text transform="translate(41.5 401.08) scale(1.0 1)" font-size="9.3" text-anchor="end" stroke="#111" stroke-width="0.18" >0.6</text>
<text transform="translate(41.5 382.66) scale(1.0 1)" font-size="9.3" text-anchor="end" stroke="#111" stroke-width="0.18" >0.9</text>
<text transform="translate(41.5 364.23) scale(1.0 1)" font-size="9.3" text-anchor="end" stroke="#111" stroke-width="0.18" >1.2</text>
<text transform="translate(41.5 345.81) scale(1.0 1)" font-size="9.3" text-anchor="end" stroke="#111" stroke-width="0.18" >1.5</text>
<text transform="translate(41.5 327.39) scale(1.0 1)" font-size="9.3" text-anchor="end" stroke="#111" stroke-width="0.18" >1.8</text>
<text transform="translate(41.5 308.97) scale(1.0 1)" font-size="9.3" text-anchor="end" stroke="#111" stroke-width="0.18" >2.1</text>
<text transform="translate(41.5 290.54) scale(1.0 1)" font-size="9.3" text-anchor="end" stroke="#111" stroke-width="0.18" >2.4</text>
<text transform="translate(41.5 272.12) scale(1.0 1)" font-size="9.3" text-anchor="end" stroke="#111" stroke-width="0.18" >2.7</text>
<text transform="translate(41.5 253.7) scale(1.0 1)" font-size="9.3" text-anchor="end" stroke="#111" stroke-width="0.18" >3.0</text>
<text transform="translate(60.71 428) scale(1.0 1)" font-size="9.3" text-anchor="middle" stroke="#111" stroke-width="0.18" >300</text>
<text transform="translate(93.52 428) scale(1.0 1)" font-size="9.3" text-anchor="middle" stroke="#111" stroke-width="0.18" >400</text>
<text transform="translate(126.34 428) scale(1.0 1)" font-size="9.3" text-anchor="middle" stroke="#111" stroke-width="0.18" >500</text>
<text transform="translate(159.15 428) scale(1.0 1)" font-size="9.3" text-anchor="middle" stroke="#111" stroke-width="0.18" >600</text>
<text transform="translate(191.97 428) scale(1.0 1)" font-size="9.3" text-anchor="middle" stroke="#111" stroke-width="0.18" >700</text>
<text transform="translate(224.78 428) scale(1.0 1)" font-size="9.3" text-anchor="middle" stroke="#111" stroke-width="0.18" >800</text>
<text transform="translate(257.6 428) scale(1.0 1)" font-size="9.3" text-anchor="middle" stroke="#111" stroke-width="0.18" >900</text>
<path d="M220.3 251.4V417.2" fill="none" stroke="#333" stroke-width="0.9" stroke-dasharray="1.5 1.9" />
<path d="M43.8 366.4 L44.08 366.24 L44.37 366.05 L44.65 365.85 L44.94 365.63 L45.22 365.39 L45.51 365.14 L45.79 364.87 L46.08 364.58 L46.36 364.29 L46.65 363.98 L46.93 363.66 L47.22 363.33 L47.5 363 L47.79 362.62 L48.07 362.19 L48.36 361.73 L48.64 361.24 L48.93 360.73 L49.21 360.21 L49.5 359.7 L49.78 359.2 L50.07 358.72 L50.35 358.27 L50.64 357.86 L50.92 357.47 L51.21 357.07 L51.49 356.69 L51.78 356.3 L52.06 355.93 L52.35 355.57 L52.63 355.23 L52.92 354.9 L53.2 354.6 L53.49 354.33 L53.77 354.08 L54.06 353.86 L54.34 353.64 L54.63 353.41 L54.91 353.2 L55.2 352.99 L55.48 352.81 L55.77 352.65 L56.05 352.53 L56.34 352.44 L56.62 352.4 L56.91 352.42 L57.19 352.5 L57.48 352.64 L57.76 352.83 L58.05 353.07 L58.33 353.35 L58.62 353.67 L58.9 354.02 L59.19 354.39 L59.47 354.81 L59.76 355.44 L60.04 356.25 L60.33 357.2 L60.61 358.27 L60.9 359.4 L61.18 360.62 L61.47 362.08 L61.75 363.75 L62.04 365.56 L62.32 367.45 L62.61 369.4 L62.89 371.48 L63.18 373.72 L63.46 376.11 L63.75 378.67 L64.03 381.54 L64.32 384.61 L64.6 387.76 L64.89 390.85 L65.17 393.77 L65.46 396.46 L65.74 399.19 L66.03 401.85 L66.31 404.29 L66.6 406.37 L66.88 407.98 L67.17 409.47 L67.45 410.75 L67.74 411.56 L68.02 411.61 L68.31 410.76 L68.59 409.26 L68.88 407.37 L69.16 405.36 L69.45 403.5 L69.73 401.62 L70.02 399.58 L70.3 397.43 L70.59 395.2 L70.87 392.97 L71.16 390.75 L71.44 388.43 L71.73 385.97 L72.01 383.41 L72.3 380.8 L72.58 378.19 L72.87 375.62 L73.15 373.14 L73.44 370.8 L73.72 368.63 L74.01 366.7 L74.29 365.04 L74.58 363.66 L74.86 362.38 L75.15 361.18 L75.43 360.06 L75.72 359.01 L76 358.02 L76.29 357.09 L76.57 356.22 L76.86 355.39 L77.14 354.6 L77.43 353.84 L77.71 353.12 L78 352.43 L78.28 351.77 L78.57 351.14 L78.85 350.54 L79.14 349.96 L79.42 349.41 L79.71 348.87 L79.99 348.35 L80.28 347.83 L80.56 347.33 L80.85 346.83 L81.13 346.34 L81.42 345.84 L81.7 345.35 L81.99 344.88 L82.27 344.42 L82.56 343.98 L82.84 343.55 L83.13 343.12 L83.41 342.7 L83.7 342.28 L83.98 341.85 L84.27 341.41 L84.55 340.97 L84.84 340.51 L85.12 340.03 L85.41 339.54 L85.69 339.03 L85.98 338.51 L86.26 337.99 L86.55 337.45 L86.83 336.9 L87.12 336.35 L87.4 335.79 L87.69 335.23 L87.97 334.66 L88.26 334.09 L88.54 333.52 L88.83 332.95 L89.11 332.38 L89.4 331.81 L89.68 331.24 L89.97 330.67 L90.25 330.1 L90.54 329.53 L90.82 328.95 L91.11 328.38 L91.39 327.8 L91.68 327.21 L91.96 326.63 L92.25 326.03 L92.53 325.44 L92.82 324.84 L93.1 324.23 L93.39 323.61 L93.67 322.98 L93.96 322.33 L94.24 321.66 L94.53 320.99 L94.81 320.31 L95.1 319.63 L95.38 318.97 L95.67 318.31 L95.95 317.67 L96.24 317.05 L96.52 316.46 L96.81 315.89 L97.09 315.34 L97.38 314.8 L97.66 314.26 L97.95 313.74 L98.23 313.22 L98.52 312.72 L98.8 312.22 L99.09 311.74 L99.37 311.26 L99.66 310.8 L99.94 310.34 L100.23 309.89 L100.51 309.45 L100.8 309.02 L101.08 308.59 L101.37 308.17 L101.65 307.76 L101.94 307.35 L102.22 306.96 L102.51 306.57 L102.79 306.18 L103.08 305.8 L103.36 305.42 L103.65 305.05 L103.93 304.69 L104.22 304.32 L104.5 303.97 L104.79 303.61 L105.07 303.26 L105.36 302.91 L105.64 302.57 L105.93 302.22 L106.21 301.88 L106.5 301.55 L106.78 301.21 L107.07 300.88 L107.35 300.55 L107.64 300.22 L107.92 299.89 L108.21 299.57 L108.49 299.24 L108.78 298.92 L109.06 298.61 L109.35 298.3 L109.63 297.99 L109.92 297.69 L110.2 297.39 L110.48 297.09 L110.77 296.8 L111.05 296.51 L111.34 296.23 L111.62 295.95 L111.91 295.67 L112.19 295.39 L112.48 295.12 L112.76 294.86 L113.05 294.59 L113.33 294.33 L113.62 294.07 L113.9 293.82 L114.19 293.57 L114.47 293.32 L114.76 293.08 L115.04 292.84 L115.33 292.6 L115.61 292.36 L115.9 292.13 L116.18 291.9 L116.47 291.68 L116.75 291.46 L117.04 291.24 L117.32 291.02 L117.61 290.81 L117.89 290.59 L118.18 290.39 L118.46 290.18 L118.75 289.98 L119.03 289.78 L119.32 289.58 L119.6 289.39 L119.89 289.2 L120.17 289.01 L120.46 288.82 L120.74 288.64 L121.03 288.46 L121.31 288.28 L121.6 288.1 L121.88 287.93 L122.17 287.76 L122.45 287.59 L122.74 287.42 L123.02 287.26 L123.31 287.1 L123.59 286.94 L123.88 286.78 L124.16 286.62 L124.45 286.47 L124.73 286.32 L125.02 286.17 L125.3 286.02 L125.59 285.88 L125.87 285.73 L126.16 285.59 L126.44 285.45 L126.73 285.32 L127.01 285.18 L127.3 285.05 L127.58 284.92 L127.87 284.79 L128.15 284.66 L128.44 284.53 L128.72 284.41 L129.01 284.28 L129.29 284.16 L129.58 284.04 L129.86 283.92 L130.15 283.81 L130.43 283.69 L130.72 283.58 L131 283.46 L131.29 283.35 L131.57 283.24 L131.86 283.14 L132.14 283.03 L132.43 282.92 L132.71 282.82 L133 282.71 L133.28 282.61 L133.57 282.51 L133.85 282.41 L134.14 282.31 L134.42 282.21 L134.71 282.12 L134.99 282.02 L135.28 281.93 L135.56 281.83 L135.85 281.74 L136.13 281.65 L136.42 281.56 L136.7 281.46 L136.99 281.37 L137.27 281.29 L137.56 281.2 L137.84 281.11 L138.13 281.02 L138.41 280.94 L138.7 280.85 L138.98 280.76 L139.27 280.68 L139.55 280.59 L139.84 280.51 L140.12 280.43 L140.41 280.34 L140.69 280.26 L140.98 280.18 L141.26 280.1 L141.55 280.01 L141.83 279.93 L142.12 279.85 L142.4 279.77 L142.69 279.69 L142.97 279.61 L143.26 279.52 L143.54 279.44 L143.83 279.36 L144.11 279.28 L144.4 279.2 L144.68 279.12 L144.97 279.04 L145.25 278.96 L145.54 278.87 L145.82 278.79 L146.11 278.71 L146.39 278.63 L146.68 278.54 L146.96 278.46 L147.25 278.38 L147.53 278.29 L147.82 278.21 L148.1 278.12 L148.39 278.04 L148.67 277.95 L148.96 277.86 L149.24 277.78 L149.53 277.69 L149.81 277.6 L150.1 277.51 L150.38 277.42 L150.67 277.33 L150.95 277.24 L151.24 277.15 L151.52 277.06 L151.81 276.97 L152.09 276.88 L152.38 276.79 L152.66 276.69 L152.95 276.6 L153.23 276.51 L153.52 276.41 L153.8 276.32 L154.09 276.23 L154.37 276.13 L154.66 276.04 L154.94 275.94 L155.23 275.84 L155.51 275.75 L155.8 275.65 L156.08 275.56 L156.37 275.46 L156.65 275.36 L156.94 275.26 L157.22 275.17 L157.51 275.07 L157.79 274.97 L158.08 274.87 L158.36 274.77 L158.65 274.68 L158.93 274.58 L159.22 274.48 L159.5 274.38 L159.79 274.28 L160.07 274.18 L160.36 274.08 L160.64 273.98 L160.93 273.88 L161.21 273.78 L161.5 273.68 L161.78 273.58 L162.07 273.48 L162.35 273.38 L162.64 273.28 L162.92 273.18 L163.21 273.08 L163.49 272.98 L163.78 272.88 L164.06 272.78 L164.35 272.68 L164.63 272.58 L164.92 272.48 L165.2 272.38 L165.49 272.28 L165.77 272.18 L166.06 272.09 L166.34 271.99 L166.63 271.89 L166.91 271.79 L167.2 271.69 L167.48 271.59 L167.77 271.49 L168.05 271.39 L168.34 271.3 L168.62 271.2 L168.91 271.1 L169.19 271 L169.48 270.9 L169.76 270.81 L170.05 270.71 L170.33 270.61 L170.62 270.52 L170.9 270.42 L171.19 270.33 L171.47 270.23 L171.76 270.14 L172.04 270.04 L172.33 269.95 L172.61 269.85 L172.9 269.76 L173.18 269.67 L173.47 269.57 L173.75 269.48 L174.04 269.39 L174.32 269.3 L174.61 269.21 L174.89 269.12 L175.18 269.03 L175.46 268.94 L175.75 268.85 L176.03 268.76 L176.32 268.67 L176.6 268.58 L176.88 268.49 L177.17 268.41 L177.45 268.32 L177.74 268.24 L178.02 268.15 L178.31 268.07 L178.59 267.98 L178.88 267.9 L179.16 267.82 L179.45 267.73 L179.73 267.65 L180.02 267.57 L180.3 267.49 L180.59 267.41 L180.87 267.33 L181.16 267.25 L181.44 267.18 L181.73 267.1 L182.01 267.02 L182.3 266.95 L182.58 266.87 L182.87 266.8 L183.15 266.73 L183.44 266.65 L183.72 266.58 L184.01 266.51 L184.29 266.44 L184.58 266.37 L184.86 266.3 L185.15 266.24 L185.43 266.17 L185.72 266.1 L186 266.04 L186.29 265.97 L186.57 265.91 L186.86 265.85 L187.14 265.79 L187.43 265.73 L187.71 265.67 L188 265.61 L188.28 265.55 L188.57 265.49 L188.85 265.44 L189.14 265.38 L189.42 265.33 L189.71 265.28 L189.99 265.22 L190.28 265.17 L190.56 265.12 L190.85 265.07 L191.13 265.03 L191.42 264.98 L191.7 264.93 L191.99 264.89 L192.27 264.85 L192.56 264.8 L192.84 264.76 L193.13 264.72 L193.41 264.68 L193.7 264.65 L193.98 264.61 L194.27 264.58 L194.55 264.54 L194.84 264.51 L195.12 264.48 L195.41 264.45 L195.69 264.42 L195.98 264.39 L196.26 264.36 L196.55 264.34 L196.83 264.31 L197.12 264.29 L197.4 264.27 L197.69 264.25 L197.97 264.23 L198.26 264.21 L198.54 264.19 L198.83 264.18 L199.11 264.17 L199.4 264.15 L199.68 264.14 L199.97 264.13 L200.25 264.12 L200.54 264.12 L200.82 264.11 L201.11 264.11 L201.39 264.1 L201.68 264.1 L201.96 264.1 L202.25 264.1 L202.53 264.1 L202.82 264.11 L203.1 264.11 L203.39 264.12 L203.67 264.12 L203.96 264.13 L204.24 264.14 L204.53 264.15 L204.81 264.16 L205.1 264.17 L205.38 264.19 L205.67 264.2 L205.95 264.22 L206.24 264.23 L206.52 264.25 L206.81 264.27 L207.09 264.29 L207.38 264.31 L207.66 264.33 L207.95 264.36 L208.23 264.38 L208.52 264.41 L208.8 264.43 L209.09 264.46 L209.37 264.49 L209.66 264.52 L209.94 264.55 L210.23 264.58 L210.51 264.61 L210.8 264.65 L211.08 264.68 L211.37 264.72 L211.65 264.75 L211.94 264.79 L212.22 264.83 L212.51 264.87 L212.79 264.91 L213.08 264.95 L213.36 264.99 L213.65 265.04 L213.93 265.08 L214.22 265.13 L214.5 265.17 L214.79 265.22 L215.07 265.26 L215.36 265.31 L215.64 265.36 L215.93 265.41 L216.21 265.46 L216.5 265.51 L216.78 265.57 L217.07 265.62 L217.35 265.67 L217.64 265.73 L217.92 265.78 L218.21 265.84 L218.49 265.9 L218.78 265.95 L219.06 266.01 L219.35 266.07 L219.63 266.13 L219.92 266.19 L220.2 266.25 L220.49 266.31 L220.77 266.38 L221.06 266.44 L221.34 266.5 L221.63 266.57 L221.91 266.63 L222.2 266.7 L222.48 266.77 L222.77 266.83 L223.05 266.9 L223.34 266.97 L223.62 267.04 L223.91 267.11 L224.19 267.18 L224.48 267.25 L224.76 267.32 L225.05 267.39 L225.33 267.46 L225.62 267.54 L225.9 267.61 L226.19 267.68 L226.47 267.76 L226.76 267.83 L227.04 267.91 L227.33 267.99 L227.61 268.06 L227.9 268.14 L228.18 268.22 L228.47 268.29 L228.75 268.37 L229.04 268.45 L229.32 268.53 L229.61 268.61 L229.89 268.69 L230.18 268.77 L230.46 268.85 L230.75 268.93 L231.03 269.01 L231.32 269.09 L231.6 269.18 L231.89 269.26 L232.17 269.34 L232.46 269.43 L232.74 269.51 L233.03 269.59 L233.31 269.68 L233.6 269.76 L233.88 269.85 L234.17 269.93 L234.45 270.02 L234.74 270.1 L235.02 270.19 L235.31 270.27 L235.59 270.36 L235.88 270.45 L236.16 270.53 L236.45 270.62 L236.73 270.71 L237.02 270.79 L237.3 270.88 L237.59 270.97 L237.87 271.06 L238.16 271.15 L238.44 271.23 L238.73 271.32 L239.01 271.41 L239.3 271.5 L239.58 271.59 L239.87 271.68 L240.15 271.77 L240.44 271.85 L240.72 271.94 L241.01 272.03 L241.29 272.12 L241.58 272.21 L241.86 272.3 L242.15 272.39 L242.43 272.48 L242.72 272.57 L243 272.66 L244.2 280.2 L245.2 266 L246.5 255.2 L247.7 266 L248.7 276.8 L249.6 270.5 L250.5 275.2 L251.5 272.4 L252.4 277.2 L253.3 273.6 L254.2 277 L255.2 269 L256.2 264.6 L257 263.6" fill="none" stroke="#262626" stroke-width="0.8" stroke-linejoin="round"/>
<path d="M43.8 369.6 L44.08 369.49 L44.37 369.36 L44.65 369.22 L44.94 369.07 L45.22 368.9 L45.51 368.72 L45.79 368.54 L46.08 368.34 L46.36 368.13 L46.65 367.92 L46.93 367.7 L47.22 367.48 L47.5 367.24 L47.79 366.98 L48.07 366.68 L48.36 366.36 L48.64 366.02 L48.93 365.67 L49.21 365.31 L49.5 364.96 L49.78 364.61 L50.07 364.28 L50.35 363.97 L50.64 363.68 L50.92 363.41 L51.21 363.14 L51.49 362.87 L51.78 362.6 L52.06 362.35 L52.35 362.1 L52.63 361.86 L52.92 361.63 L53.2 361.43 L53.49 361.24 L53.77 361.06 L54.06 360.91 L54.34 360.76 L54.63 360.6 L54.91 360.45 L55.2 360.31 L55.48 360.18 L55.77 360.07 L56.05 359.99 L56.34 359.93 L56.62 359.9 L56.91 359.92 L57.19 359.99 L57.48 360.11 L57.76 360.28 L58.05 360.49 L58.33 360.73 L58.62 361.01 L58.9 361.31 L59.19 361.63 L59.47 362.01 L59.76 362.56 L60.04 363.26 L60.33 364.1 L60.61 365.02 L60.9 366.01 L61.18 367.08 L61.47 368.36 L61.75 369.81 L62.04 371.39 L62.32 373.05 L62.61 374.75 L62.89 376.57 L63.18 378.52 L63.46 380.61 L63.75 382.85 L64.03 385.35 L64.32 388.03 L64.6 390.78 L64.89 393.49 L65.17 396.04 L65.46 398.39 L65.74 400.77 L66.03 403.09 L66.31 405.23 L66.6 407.05 L66.88 408.45 L67.17 409.75 L67.45 410.87 L67.74 411.58 L68.02 411.61 L68.31 410.78 L68.59 409.31 L68.88 407.47 L69.16 405.52 L69.45 403.71 L69.73 401.89 L70.02 399.91 L70.3 397.82 L70.59 395.67 L70.87 393.51 L71.16 391.36 L71.44 389.12 L71.73 386.75 L72.01 384.29 L72.3 381.79 L72.58 379.27 L72.87 376.8 L73.15 374.41 L73.44 372.15 L73.72 370.06 L74.01 368.17 L74.29 366.54 L74.58 365.16 L74.86 363.88 L75.15 362.68 L75.43 361.56 L75.72 360.5 L76 359.5 L76.29 358.57 L76.57 357.68 L76.86 356.83 L77.14 356.03 L77.43 355.25 L77.71 354.51 L78 353.8 L78.28 353.12 L78.57 352.47 L78.85 351.85 L79.14 351.25 L79.42 350.68 L79.71 350.12 L79.99 349.57 L80.28 349.04 L80.56 348.51 L80.85 347.99 L81.13 347.47 L81.42 346.95 L81.7 346.43 L81.99 345.94 L82.27 345.45 L82.56 344.98 L82.84 344.52 L83.13 344.07 L83.41 343.62 L83.7 343.17 L83.98 342.71 L84.27 342.25 L84.55 341.78 L84.84 341.29 L85.12 340.79 L85.41 340.27 L85.69 339.74 L85.98 339.19 L86.26 338.64 L86.55 338.07 L86.83 337.5 L87.12 336.92 L87.4 336.33 L87.69 335.74 L87.97 335.15 L88.26 334.56 L88.54 333.96 L88.83 333.36 L89.11 332.76 L89.4 332.17 L89.68 331.57 L89.97 330.97 L90.25 330.37 L90.54 329.77 L90.82 329.16 L91.11 328.56 L91.39 327.95 L91.68 327.33 L91.96 326.72 L92.25 326.1 L92.53 325.48 L92.82 324.86 L93.1 324.24 L93.39 323.61 L93.67 322.97 L93.96 322.32 L94.24 321.66 L94.53 321 L94.81 320.33 L95.1 319.67 L95.38 319.02 L95.67 318.38 L95.95 317.75 L96.24 317.14 L96.52 316.56 L96.81 316 L97.09 315.44 L97.38 314.9 L97.66 314.37 L97.95 313.84 L98.23 313.32 L98.52 312.82 L98.8 312.32 L99.09 311.83 L99.37 311.35 L99.66 310.88 L99.94 310.42 L100.23 309.96 L100.51 309.52 L100.8 309.08 L101.08 308.65 L101.37 308.23 L101.65 307.82 L101.94 307.42 L102.22 307.02 L102.51 306.63 L102.79 306.25 L103.08 305.87 L103.36 305.5 L103.65 305.14 L103.93 304.78 L104.22 304.42 L104.5 304.07 L104.79 303.73 L105.07 303.39 L105.36 303.05 L105.64 302.72 L105.93 302.39 L106.21 302.07 L106.5 301.75 L106.78 301.43 L107.07 301.12 L107.35 300.8 L107.64 300.49 L107.92 300.19 L108.21 299.88 L108.49 299.58 L108.78 299.28 L109.06 298.99 L109.35 298.7 L109.63 298.42 L109.92 298.13 L110.2 297.86 L110.48 297.59 L110.77 297.32 L111.05 297.05 L111.34 296.79 L111.62 296.54 L111.91 296.28 L112.19 296.04 L112.48 295.79 L112.76 295.55 L113.05 295.31 L113.33 295.08 L113.62 294.85 L113.9 294.62 L114.19 294.4 L114.47 294.18 L114.76 293.96 L115.04 293.75 L115.33 293.54 L115.61 293.34 L115.9 293.13 L116.18 292.94 L116.47 292.74 L116.75 292.55 L117.04 292.36 L117.32 292.17 L117.61 291.99 L117.89 291.81 L118.18 291.63 L118.46 291.46 L118.75 291.29 L119.03 291.12 L119.32 290.96 L119.6 290.8 L119.89 290.64 L120.17 290.48 L120.46 290.33 L120.74 290.18 L121.03 290.03 L121.31 289.88 L121.6 289.74 L121.88 289.6 L122.17 289.46 L122.45 289.33 L122.74 289.2 L123.02 289.07 L123.31 288.94 L123.59 288.82 L123.88 288.69 L124.16 288.57 L124.45 288.45 L124.73 288.34 L125.02 288.22 L125.3 288.11 L125.59 288 L125.87 287.9 L126.16 287.79 L126.44 287.69 L126.73 287.59 L127.01 287.49 L127.3 287.39 L127.58 287.29 L127.87 287.2 L128.15 287.11 L128.44 287.02 L128.72 286.93 L129.01 286.84 L129.29 286.76 L129.58 286.67 L129.86 286.59 L130.15 286.51 L130.43 286.43 L130.72 286.35 L131 286.28 L131.29 286.2 L131.57 286.13 L131.86 286.06 L132.14 285.99 L132.43 285.92 L132.71 285.85 L133 285.78 L133.28 285.71 L133.57 285.65 L133.85 285.58 L134.14 285.52 L134.42 285.46 L134.71 285.4 L134.99 285.34 L135.28 285.28 L135.56 285.22 L135.85 285.16 L136.13 285.11 L136.42 285.05 L136.7 284.99 L136.99 284.94 L137.27 284.89 L137.56 284.83 L137.84 284.78 L138.13 284.73 L138.41 284.67 L138.7 284.62 L138.98 284.57 L139.27 284.52 L139.55 284.47 L139.84 284.42 L140.12 284.37 L140.41 284.32 L140.69 284.27 L140.98 284.22 L141.26 284.17 L141.55 284.12 L141.83 284.07 L142.12 284.03 L142.4 283.98 L142.69 283.93 L142.97 283.88 L143.26 283.84 L143.54 283.79 L143.83 283.74 L144.11 283.7 L144.4 283.65 L144.68 283.6 L144.97 283.56 L145.25 283.51 L145.54 283.47 L145.82 283.42 L146.11 283.38 L146.39 283.33 L146.68 283.29 L146.96 283.24 L147.25 283.2 L147.53 283.16 L147.82 283.11 L148.1 283.07 L148.39 283.03 L148.67 282.99 L148.96 282.94 L149.24 282.9 L149.53 282.86 L149.81 282.82 L150.1 282.78 L150.38 282.74 L150.67 282.7 L150.95 282.66 L151.24 282.62 L151.52 282.58 L151.81 282.54 L152.09 282.5 L152.38 282.46 L152.66 282.42 L152.95 282.38 L153.23 282.35 L153.52 282.31 L153.8 282.27 L154.09 282.23 L154.37 282.2 L154.66 282.16 L154.94 282.12 L155.23 282.09 L155.51 282.05 L155.8 282.02 L156.08 281.98 L156.37 281.95 L156.65 281.91 L156.94 281.88 L157.22 281.84 L157.51 281.81 L157.79 281.78 L158.08 281.74 L158.36 281.71 L158.65 281.68 L158.93 281.64 L159.22 281.61 L159.5 281.58 L159.79 281.55 L160.07 281.52 L160.36 281.49 L160.64 281.46 L160.93 281.42 L161.21 281.39 L161.5 281.36 L161.78 281.33 L162.07 281.31 L162.35 281.28 L162.64 281.25 L162.92 281.22 L163.21 281.19 L163.49 281.16 L163.78 281.14 L164.06 281.11 L164.35 281.08 L164.63 281.05 L164.92 281.03 L165.2 281 L165.49 280.98 L165.77 280.95 L166.06 280.93 L166.34 280.9 L166.63 280.88 L166.91 280.85 L167.2 280.83 L167.48 280.8 L167.77 280.78 L168.05 280.76 L168.34 280.73 L168.62 280.71 L168.91 280.69 L169.19 280.67 L169.48 280.64 L169.76 280.62 L170.05 280.6 L170.33 280.58 L170.62 280.56 L170.9 280.54 L171.19 280.52 L171.47 280.5 L171.76 280.48 L172.04 280.46 L172.33 280.44 L172.61 280.42 L172.9 280.41 L173.18 280.39 L173.47 280.37 L173.75 280.35 L174.04 280.34 L174.32 280.32 L174.61 280.3 L174.89 280.29 L175.18 280.27 L175.46 280.26 L175.75 280.24 L176.03 280.23 L176.32 280.21 L176.6 280.2 L176.88 280.18 L177.17 280.17 L177.45 280.16 L177.74 280.14 L178.02 280.13 L178.31 280.12 L178.59 280.11 L178.88 280.1 L179.16 280.08 L179.45 280.07 L179.73 280.06 L180.02 280.05 L180.3 280.04 L180.59 280.03 L180.87 280.02 L181.16 280.01 L181.44 280 L181.73 280 L182.01 279.99 L182.3 279.98 L182.58 279.97 L182.87 279.97 L183.15 279.96 L183.44 279.95 L183.72 279.95 L184.01 279.94 L184.29 279.93 L184.58 279.93 L184.86 279.92 L185.15 279.92 L185.43 279.91 L185.72 279.91 L186 279.91 L186.29 279.9 L186.57 279.9 L186.86 279.9 L187.14 279.89 L187.43 279.89 L187.71 279.89 L188 279.89 L188.28 279.89 L188.57 279.89 L188.85 279.89 L189.14 279.89 L189.42 279.89 L189.71 279.89 L189.99 279.89 L190.28 279.89 L190.56 279.89 L190.85 279.89 L191.13 279.89 L191.42 279.9 L191.7 279.9 L191.99 279.9 L192.27 279.91 L192.56 279.91 L192.84 279.91 L193.13 279.92 L193.41 279.92 L193.7 279.93 L193.98 279.93 L194.27 279.94 L194.55 279.95 L194.84 279.95 L195.12 279.96 L195.41 279.97 L195.69 279.97 L195.98 279.98 L196.26 279.99 L196.55 280 L196.83 280.01 L197.12 280.02 L197.4 280.03 L197.69 280.04 L197.97 280.05 L198.26 280.06 L198.54 280.07 L198.83 280.08 L199.11 280.09 L199.4 280.1 L199.68 280.11 L199.97 280.13 L200.25 280.14 L200.54 280.15 L200.82 280.17 L201.11 280.18 L201.39 280.2 L201.68 280.21 L201.96 280.22 L202.25 280.24 L202.53 280.26 L202.82 280.27 L203.1 280.29 L203.39 280.31 L203.67 280.32 L203.96 280.34 L204.24 280.36 L204.53 280.38 L204.81 280.39 L205.1 280.41 L205.38 280.43 L205.67 280.45 L205.95 280.47 L206.24 280.49 L206.52 280.51 L206.81 280.53 L207.09 280.56 L207.38 280.58 L207.66 280.6 L207.95 280.62 L208.23 280.64 L208.52 280.67 L208.8 280.69 L209.09 280.71 L209.37 280.74 L209.66 280.76 L209.94 280.79 L210.23 280.81 L210.51 280.84 L210.8 280.87 L211.08 280.89 L211.37 280.92 L211.65 280.95 L211.94 280.97 L212.22 281 L212.51 281.03 L212.79 281.06 L213.08 281.09 L213.36 281.12 L213.65 281.15 L213.93 281.18 L214.22 281.21 L214.5 281.24 L214.79 281.27 L215.07 281.3 L215.36 281.33 L215.64 281.36 L215.93 281.4 L216.21 281.43 L216.5 281.46 L216.78 281.5 L217.07 281.53 L217.35 281.56 L217.64 281.6 L217.92 281.63 L218.21 281.67 L218.49 281.71 L218.78 281.74 L219.06 281.78 L219.35 281.82 L219.63 281.85 L219.92 281.89 L220.2 281.93 L220.49 281.97 L220.77 282.01 L221.06 282.05 L221.34 282.09 L221.63 282.13 L221.91 282.17 L222.2 282.21 L222.48 282.25 L222.77 282.29 L223.05 282.33 L223.34 282.37 L223.62 282.42 L223.91 282.46 L224.19 282.5 L224.48 282.55 L224.76 282.59 L225.05 282.64 L225.33 282.68 L225.62 282.73 L225.9 282.77 L226.19 282.82 L226.47 282.87 L226.76 282.91 L227.04 282.96 L227.33 283.01 L227.61 283.06 L227.9 283.1 L228.18 283.15 L228.47 283.2 L228.75 283.25 L229.04 283.3 L229.32 283.35 L229.61 283.4 L229.89 283.45 L230.18 283.51 L230.46 283.56 L230.75 283.61 L231.03 283.66 L231.32 283.72 L231.6 283.77 L231.89 283.82 L232.17 283.88 L232.46 283.93 L232.74 283.99 L233.03 284.04 L233.31 284.1 L233.6 284.16 L233.88 284.21 L234.17 284.27 L234.45 284.33 L234.74 284.39 L235.02 284.44 L235.31 284.5 L235.59 284.56 L235.88 284.62 L236.16 284.68 L236.45 284.74 L236.73 284.8 L237.02 284.86 L237.3 284.93 L237.59 284.99 L237.87 285.05 L238.16 285.11 L238.44 285.18 L238.73 285.24 L239.01 285.3 L239.3 285.37 L239.58 285.43 L239.87 285.5 L240.15 285.56 L240.44 285.63 L240.72 285.7 L241.01 285.76 L241.29 285.83 L241.58 285.9 L241.86 285.96 L242.15 286.03 L242.43 286.1 L242.72 286.17 L243 286.24 L244.5 284 L246 281.6 L247.5 285 L249 287.6 L250.5 284.4 L252 286.8 L253.5 285 L255 287.4 L257.2 288.2" fill="none" stroke="#262626" stroke-width="0.8" stroke-dasharray="2.4 1.5" stroke-linejoin="round"/>
<path d="M43.8 371.8 L44.11 371.71 L44.41 371.6 L44.72 371.48 L45.02 371.35 L45.33 371.2 L45.63 371.05 L45.94 370.89 L46.24 370.72 L46.55 370.54 L46.86 370.36 L47.16 370.17 L47.47 369.98 L47.77 369.76 L48.08 369.51 L48.38 369.24 L48.69 368.95 L48.99 368.66 L49.3 368.36 L49.61 368.06 L49.91 367.77 L50.22 367.5 L50.52 367.25 L50.83 367.02 L51.13 366.79 L51.44 366.57 L51.75 366.34 L52.05 366.13 L52.36 365.92 L52.66 365.72 L52.97 365.53 L53.27 365.36 L53.58 365.2 L53.88 365.07 L54.19 364.94 L54.5 364.81 L54.8 364.68 L55.11 364.56 L55.41 364.45 L55.72 364.35 L56.02 364.28 L56.33 364.22 L56.63 364.2 L56.94 364.22 L57.25 364.3 L57.55 364.43 L57.86 364.6 L58.16 364.82 L58.47 365.08 L58.77 365.36 L59.08 365.67 L59.38 366.01 L59.69 366.5 L60 367.17 L60.3 367.97 L60.61 368.88 L60.91 369.85 L61.22 370.92 L61.52 372.2 L61.83 373.66 L62.13 375.24 L62.44 376.89 L62.75 378.6 L63.05 380.46 L63.36 382.46 L63.66 384.6 L63.97 387 L64.27 389.61 L64.58 392.31 L64.88 394.97 L65.19 397.47 L65.5 399.78 L65.8 402.12 L66.11 404.37 L66.41 406.39 L66.72 408.02 L67.02 409.31 L67.33 410.53 L67.64 411.41 L67.94 411.69 L68.25 411.04 L68.55 409.61 L68.86 407.71 L69.16 405.68 L69.47 403.8 L69.77 401.88 L70.08 399.8 L70.39 397.62 L70.69 395.39 L71 393.15 L71.3 390.9 L71.61 388.51 L71.91 386.01 L72.22 383.44 L72.52 380.85 L72.83 378.3 L73.14 375.82 L73.44 373.48 L73.75 371.31 L74.05 369.37 L74.36 367.71 L74.66 366.27 L74.97 364.93 L75.27 363.68 L75.58 362.5 L75.89 361.4 L76.19 360.36 L76.5 359.37 L76.8 358.44 L77.11 357.55 L77.41 356.7 L77.72 355.88 L78.02 355.1 L78.33 354.36 L78.64 353.65 L78.94 352.97 L79.25 352.31 L79.55 351.68 L79.86 351.06 L80.16 350.46 L80.47 349.87 L80.78 349.28 L81.08 348.7 L81.39 348.12 L81.69 347.54 L82 346.97 L82.3 346.43 L82.61 345.9 L82.91 345.38 L83.22 344.86 L83.53 344.35 L83.83 343.84 L84.14 343.32 L84.44 342.79 L84.75 342.24 L85.05 341.68 L85.36 341.09 L85.66 340.49 L85.97 339.88 L86.28 339.26 L86.58 338.62 L86.89 337.98 L87.19 337.33 L87.5 336.67 L87.8 336.01 L88.11 335.34 L88.41 334.67 L88.72 334 L89.03 333.34 L89.33 332.67 L89.64 332 L89.94 331.33 L90.25 330.65 L90.55 329.96 L90.86 329.27 L91.16 328.58 L91.47 327.89 L91.78 327.2 L92.08 326.51 L92.39 325.82 L92.69 325.14 L93 324.46 L93.3 323.79 L93.61 323.13 L93.92 322.46 L94.22 321.79 L94.53 321.12 L94.83 320.46 L95.14 319.81 L95.44 319.16 L95.75 318.52 L96.05 317.89 L96.36 317.27 L96.67 316.67 L96.97 316.07 L97.28 315.47 L97.58 314.87 L97.89 314.27 L98.19 313.68 L98.5 313.09 L98.8 312.52 L99.11 311.96 L99.42 311.42 L99.72 310.91 L100.03 310.42 L100.33 309.96 L100.64 309.53 L100.94 309.12 L101.25 308.75 L101.55 308.38 L101.86 308.03 L102.17 307.7 L102.47 307.38 L102.78 307.07 L103.08 306.78 L103.39 306.5 L103.69 306.23 L104 305.98 L104.3 305.73 L104.61 305.49 L104.92 305.27 L105.22 305.05 L105.53 304.83 L105.83 304.62 L106.14 304.41 L106.44 304.2 L106.75 304 L107.05 303.79 L107.36 303.59 L107.67 303.39 L107.97 303.2 L108.28 303 L108.58 302.81 L108.89 302.63 L109.19 302.45 L109.5 302.27 L109.81 302.1 L110.11 301.94 L110.42 301.77 L110.72 301.62 L111.03 301.46 L111.33 301.31 L111.64 301.17 L111.94 301.03 L112.25 300.89 L112.56 300.76 L112.86 300.63 L113.17 300.51 L113.47 300.38 L113.78 300.27 L114.08 300.15 L114.39 300.04 L114.69 299.94 L115 299.84 L115.31 299.74 L115.61 299.64 L115.92 299.55 L116.22 299.46 L116.53 299.38 L116.83 299.29 L117.14 299.22 L117.44 299.14 L117.75 299.07 L118.06 299 L118.36 298.94 L118.67 298.87 L118.97 298.81 L119.28 298.76 L119.58 298.7 L119.89 298.65 L120.19 298.61 L120.5 298.56 L120.81 298.52 L121.11 298.48 L121.42 298.44 L121.72 298.41 L122.03 298.38 L122.33 298.35 L122.64 298.32 L122.95 298.3 L123.25 298.27 L123.56 298.26 L123.86 298.24 L124.17 298.22 L124.47 298.21 L124.78 298.2 L125.08 298.19 L125.39 298.19 L125.7 298.18 L126 298.18 L126.31 298.18 L126.61 298.18 L126.92 298.18 L127.22 298.19 L127.53 298.19 L127.83 298.2 L128.14 298.21 L128.45 298.22 L128.75 298.24 L129.06 298.25 L129.36 298.27 L129.67 298.29 L129.97 298.31 L130.28 298.33 L130.58 298.35 L130.89 298.37 L131.2 298.39 L131.5 298.42 L131.81 298.45 L132.11 298.47 L132.42 298.5 L132.72 298.53 L133.03 298.56 L133.33 298.59 L133.64 298.62 L133.95 298.66 L134.25 298.69 L134.56 298.72 L134.86 298.76 L135.17 298.79 L135.47 298.83 L135.78 298.86 L136.08 298.9 L136.39 298.94 L136.7 298.98 L137 299.01 L137.31 299.05 L137.61 299.09 L137.92 299.13 L138.22 299.17 L138.53 299.2 L138.84 299.24 L139.14 299.28 L139.45 299.32 L139.75 299.36 L140.06 299.4 L140.36 299.43 L140.67 299.47 L140.97 299.51 L141.28 299.55 L141.59 299.59 L141.89 299.62 L142.2 299.66 L142.5 299.7 L142.81 299.73 L143.11 299.77 L143.42 299.81 L143.72 299.84 L144.03 299.88 L144.34 299.92 L144.64 299.95 L144.95 299.99 L145.25 300.02 L145.56 300.06 L145.86 300.09 L146.17 300.13 L146.47 300.16 L146.78 300.2 L147.09 300.23 L147.39 300.27 L147.7 300.3 L148 300.34 L148.31 300.37 L148.61 300.41 L148.92 300.44 L149.22 300.47 L149.53 300.51 L149.84 300.54 L150.14 300.58 L150.45 300.61 L150.75 300.64 L151.06 300.68 L151.36 300.71 L151.67 300.74 L151.98 300.78 L152.28 300.81 L152.59 300.84 L152.89 300.87 L153.2 300.91 L153.5 300.94 L153.81 300.97 L154.11 301 L154.42 301.03 L154.73 301.07 L155.03 301.1 L155.34 301.13 L155.64 301.16 L155.95 301.19 L156.25 301.23 L156.56 301.26 L156.86 301.29 L157.17 301.32 L157.48 301.35 L157.78 301.38 L158.09 301.41 L158.39 301.44 L158.7 301.47 L159 301.51 L159.31 301.54 L159.61 301.57 L159.92 301.6 L160.23 301.63 L160.53 301.66 L160.84 301.69 L161.14 301.72 L161.45 301.75 L161.75 301.78 L162.06 301.81 L162.36 301.84 L162.67 301.87 L162.98 301.9 L163.28 301.93 L163.59 301.96 L163.89 301.99 L164.2 302.02 L164.5 302.05 L164.81 302.08 L165.12 302.11 L165.42 302.14 L165.73 302.16 L166.03 302.19 L166.34 302.22 L166.64 302.25 L166.95 302.28 L167.25 302.31 L167.56 302.34 L167.87 302.37 L168.17 302.4 L168.48 302.43 L168.78 302.46 L169.09 302.48 L169.39 302.51 L169.7 302.54 L170 302.57 L170.31 302.6 L170.62 302.63 L170.92 302.66 L171.23 302.69 L171.53 302.71 L171.84 302.74 L172.14 302.77 L172.45 302.8 L172.75 302.83 L173.06 302.86 L173.37 302.89 L173.67 302.91 L173.98 302.94 L174.28 302.97 L174.59 303 L174.89 303.03 L175.2 303.06 L175.5 303.09 L175.81 303.11 L176.12 303.14 L176.42 303.17 L176.73 303.2 L177.03 303.23 L177.34 303.26 L177.64 303.28 L177.95 303.31 L178.25 303.34 L178.56 303.37 L178.87 303.4 L179.17 303.43 L179.48 303.46 L179.78 303.48 L180.09 303.51 L180.39 303.54 L180.7 303.57 L181.01 303.6 L181.31 303.63 L181.62 303.66 L181.92 303.68 L182.23 303.71 L182.53 303.74 L182.84 303.77 L183.14 303.8 L183.45 303.83 L183.76 303.86 L184.06 303.89 L184.37 303.91 L184.67 303.94 L184.98 303.97 L185.28 304 L185.59 304.03 L185.89 304.06 L186.2 304.09 L186.51 304.12 L186.81 304.15 L187.12 304.18 L187.42 304.21 L187.73 304.23 L188.03 304.26 L188.34 304.29 L188.64 304.32 L188.95 304.35 L189.26 304.38 L189.56 304.41 L189.87 304.44 L190.17 304.47 L190.48 304.5 L190.78 304.53 L191.09 304.56 L191.39 304.59 L191.7 304.62 L192.01 304.65 L192.31 304.68 L192.62 304.71 L192.92 304.74 L193.23 304.77 L193.53 304.8 L193.84 304.83 L194.15 304.86 L194.45 304.89 L194.76 304.92 L195.06 304.96 L195.37 304.99 L195.67 305.02 L195.98 305.05 L196.28 305.08 L196.59 305.11 L196.9 305.14 L197.2 305.17 L197.51 305.21 L197.81 305.24 L198.12 305.27 L198.42 305.3 L198.73 305.33 L199.03 305.36 L199.34 305.4 L199.65 305.43 L199.95 305.46 L200.26 305.49 L200.56 305.53 L200.87 305.56 L201.17 305.59 L201.48 305.62 L201.78 305.66 L202.09 305.69 L202.4 305.72 L202.7 305.76 L203.01 305.79 L203.31 305.82 L203.62 305.86 L203.92 305.89 L204.23 305.93 L204.53 305.96 L204.84 305.99 L205.15 306.03 L205.45 306.06 L205.76 306.1 L206.06 306.13 L206.37 306.17 L206.67 306.2 L206.98 306.24 L207.28 306.27 L207.59 306.31 L207.9 306.34 L208.2 306.38 L208.51 306.41 L208.81 306.45 L209.12 306.48 L209.42 306.52 L209.73 306.56 L210.04 306.59 L210.34 306.63 L210.65 306.67 L210.95 306.7 L211.26 306.74 L211.56 306.78 L211.87 306.81 L212.17 306.85 L212.48 306.89 L212.79 306.93 L213.09 306.97 L213.4 307 L213.7 307.04 L214.01 307.08 L214.31 307.12 L214.62 307.16 L214.92 307.2 L215.23 307.24 L215.54 307.28 L215.84 307.31 L216.15 307.35 L216.45 307.39 L216.76 307.43 L217.06 307.47 L217.37 307.51 L217.67 307.55 L217.98 307.6 L218.29 307.64 L218.59 307.68 L218.9 307.72 L219.2 307.76 L219.51 307.8 L219.81 307.84 L220.12 307.89 L220.42 307.93 L220.73 307.97 L221.04 308.01 L221.34 308.06 L221.65 308.1 L221.95 308.14 L222.26 308.18 L222.56 308.23 L222.87 308.27 L223.18 308.32 L223.48 308.36 L223.79 308.4 L224.09 308.45 L224.4 308.49 L224.7 308.54 L225.01 308.58 L225.31 308.63 L225.62 308.68 L225.93 308.72 L226.23 308.77 L226.54 308.81 L226.84 308.86 L227.15 308.91 L227.45 308.95 L227.76 309 L228.06 309.05 L228.37 309.1 L228.68 309.14 L228.98 309.19 L229.29 309.24 L229.59 309.29 L229.9 309.34 L230.2 309.39 L230.51 309.44 L230.81 309.48 L231.12 309.53 L231.43 309.58 L231.73 309.63 L232.04 309.69 L232.34 309.74 L232.65 309.79 L232.95 309.84 L233.26 309.89 L233.56 309.94 L233.87 309.99 L234.18 310.05 L234.48 310.1 L234.79 310.15 L235.09 310.2 L235.4 310.26 L235.7 310.31 L236.01 310.36 L236.32 310.42 L236.62 310.47 L236.93 310.53 L237.23 310.58 L237.54 310.64 L237.84 310.69 L238.15 310.75 L238.45 310.8 L238.76 310.86 L239.07 310.92 L239.37 310.97 L239.68 311.03 L239.98 311.09 L240.29 311.14 L240.59 311.2 L240.9 311.26 L241.2 311.32 L241.51 311.38 L241.82 311.44 L242.12 311.5 L242.43 311.55 L242.73 311.61 L243.04 311.67 L243.34 311.73 L243.65 311.8 L243.95 311.86 L244.26 311.92 L244.57 311.98 L244.87 312.04 L245.18 312.1 L245.48 312.17 L245.79 312.23 L246.09 312.29 L246.4 312.36 L246.7 312.42 L247.01 312.48 L247.32 312.55 L247.62 312.61 L247.93 312.68 L248.23 312.74 L248.54 312.81 L248.84 312.87 L249.15 312.94 L249.45 313.01 L249.76 313.07 L250.07 313.14 L250.37 313.21 L250.68 313.28 L250.98 313.34 L251.29 313.41 L251.59 313.48 L251.9 313.55 L252.21 313.62 L252.51 313.69 L252.82 313.76 L253.12 313.83 L253.43 313.9 L253.73 313.97 L254.04 314.04 L254.34 314.11 L254.65 314.19 L254.96 314.26 L255.26 314.33 L255.57 314.41 L255.87 314.48 L256.18 314.55 L256.48 314.63 L256.79 314.7 L257.09 314.78 L257.4 314.85" fill="none" stroke="#262626" stroke-width="0.8" stroke-dasharray="0.9 1.5" stroke-linejoin="round"/>
<path d="M43.8 364.2 L44.11 363.9 L44.41 363.57 L44.72 363.19 L45.02 362.78 L45.33 362.34 L45.63 361.86 L45.94 361.36 L46.24 360.83 L46.55 360.28 L46.86 359.71 L47.16 359.12 L47.47 358.52 L47.77 357.83 L48.08 357.06 L48.38 356.22 L48.69 355.32 L48.99 354.4 L49.3 353.46 L49.61 352.54 L49.91 351.64 L50.22 350.8 L50.52 350.02 L50.83 349.3 L51.13 348.59 L51.44 347.88 L51.75 347.18 L52.05 346.51 L52.36 345.85 L52.66 345.23 L52.97 344.65 L53.27 344.11 L53.58 343.63 L53.88 343.2 L54.19 342.8 L54.5 342.39 L54.8 341.99 L55.11 341.61 L55.41 341.27 L55.72 340.97 L56.02 340.73 L56.33 340.57 L56.63 340.5 L56.94 340.53 L57.25 340.64 L57.55 340.84 L57.86 341.11 L58.16 341.44 L58.47 341.82 L58.77 342.25 L59.08 342.71 L59.38 343.21 L59.69 343.95 L60 344.95 L60.3 346.15 L60.61 347.51 L60.91 348.97 L61.22 350.57 L61.52 352.5 L61.83 354.69 L62.13 357.06 L62.44 359.52 L62.75 362.09 L63.05 364.88 L63.36 367.88 L63.66 371.08 L63.97 374.67 L64.27 378.58 L64.58 382.63 L64.88 386.62 L65.19 390.37 L65.5 393.84 L65.8 397.34 L66.11 400.72 L66.41 403.74 L66.72 406.19 L67.02 408.12 L67.33 409.94 L67.64 411.27 L67.94 411.69 L68.25 410.98 L68.55 409.4 L68.86 407.3 L69.16 405.04 L69.47 402.95 L69.77 400.79 L70.08 398.44 L70.39 395.95 L70.69 393.4 L71 390.85 L71.3 388.29 L71.61 385.52 L71.91 382.61 L72.22 379.61 L72.52 376.58 L72.83 373.61 L73.14 370.74 L73.44 368.05 L73.75 365.61 L74.05 363.47 L74.36 361.71 L74.66 360.26 L74.97 358.91 L75.27 357.67 L75.58 356.51 L75.89 355.44 L76.19 354.44 L76.5 353.51 L76.8 352.64 L77.11 351.83 L77.41 351.05 L77.72 350.32 L78.02 349.62 L78.33 348.96 L78.64 348.34 L78.94 347.75 L79.25 347.18 L79.55 346.64 L79.86 346.12 L80.16 345.61 L80.47 345.12 L80.78 344.63 L81.08 344.16 L81.39 343.68 L81.69 343.2 L82 342.75 L82.3 342.32 L82.61 341.91 L82.91 341.5 L83.22 341.1 L83.53 340.71 L83.83 340.31 L84.14 339.91 L84.44 339.5 L84.75 339.07 L85.05 338.62 L85.36 338.15 L85.66 337.67 L85.97 337.17 L86.28 336.66 L86.58 336.14 L86.89 335.61 L87.19 335.08 L87.5 334.53 L87.8 333.98 L88.11 333.43 L88.41 332.87 L88.72 332.32 L89.03 331.76 L89.33 331.21 L89.64 330.65 L89.94 330.07 L90.25 329.46 L90.55 328.83 L90.86 328.2 L91.16 327.57 L91.47 326.94 L91.78 326.33 L92.08 325.74 L92.39 325.19 L92.69 324.67 L93 324.2 L93.3 323.8 L93.61 323.43 L93.92 323.08 L94.22 322.75 L94.53 322.45 L94.83 322.15 L95.14 321.88 L95.44 321.61 L95.75 321.36 L96.05 321.12 L96.36 320.88 L96.67 320.65 L96.97 320.43 L97.28 320.2 L97.58 319.99 L97.89 319.78 L98.19 319.58 L98.5 319.39 L98.8 319.22 L99.11 319.06 L99.42 318.93 L99.72 318.81 L100.03 318.69 L100.33 318.58 L100.64 318.48 L100.94 318.39 L101.25 318.31 L101.55 318.26 L101.86 318.23 L102.17 318.22 L102.47 318.23 L102.78 318.26 L103.08 318.3 L103.39 318.36 L103.69 318.42 L104 318.5 L104.3 318.57 L104.61 318.66 L104.92 318.75 L105.22 318.84 L105.53 318.94 L105.83 319.04 L106.14 319.14 L106.44 319.25 L106.75 319.35 L107.05 319.45 L107.36 319.56 L107.67 319.66 L107.97 319.76 L108.28 319.86 L108.58 319.96 L108.89 320.06 L109.19 320.17 L109.5 320.28 L109.81 320.39 L110.11 320.5 L110.42 320.61 L110.72 320.73 L111.03 320.85 L111.33 320.97 L111.64 321.09 L111.94 321.22 L112.25 321.34 L112.56 321.47 L112.86 321.6 L113.17 321.73 L113.47 321.87 L113.78 322 L114.08 322.14 L114.39 322.28 L114.69 322.42 L115 322.56 L115.31 322.7 L115.61 322.85 L115.92 322.99 L116.22 323.14 L116.53 323.29 L116.83 323.44 L117.14 323.59 L117.44 323.74 L117.75 323.9 L118.06 324.05 L118.36 324.21 L118.67 324.36 L118.97 324.52 L119.28 324.68 L119.58 324.84 L119.89 325 L120.19 325.16 L120.5 325.32 L120.81 325.49 L121.11 325.65 L121.42 325.82 L121.72 325.98 L122.03 326.15 L122.33 326.31 L122.64 326.48 L122.95 326.65 L123.25 326.82 L123.56 326.98 L123.86 327.15 L124.17 327.32 L124.47 327.49 L124.78 327.66 L125.08 327.83 L125.39 328 L125.7 328.17 L126 328.34 L126.31 328.51 L126.61 328.68 L126.92 328.85 L127.22 329.02 L127.53 329.19 L127.83 329.36 L128.14 329.53 L128.45 329.7 L128.75 329.87 L129.06 330.04 L129.36 330.21 L129.67 330.38 L129.97 330.55 L130.28 330.71 L130.58 330.88 L130.89 331.05 L131.2 331.21 L131.5 331.38 L131.81 331.55 L132.11 331.71 L132.42 331.87 L132.72 332.04 L133.03 332.2 L133.33 332.36 L133.64 332.52 L133.95 332.68 L134.25 332.84 L134.56 333 L134.86 333.15 L135.17 333.31 L135.47 333.46 L135.78 333.62 L136.08 333.77 L136.39 333.92 L136.7 334.08 L137 334.23 L137.31 334.38 L137.61 334.53 L137.92 334.68 L138.22 334.82 L138.53 334.97 L138.84 335.12 L139.14 335.26 L139.45 335.41 L139.75 335.55 L140.06 335.69 L140.36 335.84 L140.67 335.98 L140.97 336.12 L141.28 336.26 L141.59 336.4 L141.89 336.53 L142.2 336.67 L142.5 336.81 L142.81 336.94 L143.11 337.08 L143.42 337.21 L143.72 337.35 L144.03 337.48 L144.34 337.61 L144.64 337.74 L144.95 337.87 L145.25 338 L145.56 338.13 L145.86 338.26 L146.17 338.39 L146.47 338.52 L146.78 338.64 L147.09 338.77 L147.39 338.89 L147.7 339.02 L148 339.14 L148.31 339.26 L148.61 339.38 L148.92 339.5 L149.22 339.62 L149.53 339.74 L149.84 339.86 L150.14 339.98 L150.45 340.1 L150.75 340.21 L151.06 340.33 L151.36 340.45 L151.67 340.56 L151.98 340.68 L152.28 340.79 L152.59 340.9 L152.89 341.01 L153.2 341.12 L153.5 341.24 L153.81 341.35 L154.11 341.45 L154.42 341.56 L154.73 341.67 L155.03 341.78 L155.34 341.89 L155.64 341.99 L155.95 342.1 L156.25 342.2 L156.56 342.31 L156.86 342.41 L157.17 342.51 L157.48 342.62 L157.78 342.72 L158.09 342.82 L158.39 342.92 L158.7 343.02 L159 343.12 L159.31 343.22 L159.61 343.31 L159.92 343.41 L160.23 343.51 L160.53 343.6 L160.84 343.7 L161.14 343.79 L161.45 343.89 L161.75 343.98 L162.06 344.08 L162.36 344.17 L162.67 344.26 L162.98 344.35 L163.28 344.44 L163.59 344.53 L163.89 344.62 L164.2 344.71 L164.5 344.8 L164.81 344.89 L165.12 344.98 L165.42 345.06 L165.73 345.15 L166.03 345.24 L166.34 345.32 L166.64 345.41 L166.95 345.49 L167.25 345.57 L167.56 345.66 L167.87 345.74 L168.17 345.82 L168.48 345.9 L168.78 345.98 L169.09 346.07 L169.39 346.15 L169.7 346.23 L170 346.3 L170.31 346.38 L170.62 346.46 L170.92 346.54 L171.23 346.62 L171.53 346.69 L171.84 346.77 L172.14 346.84 L172.45 346.92 L172.75 346.99 L173.06 347.07 L173.37 347.14 L173.67 347.22 L173.98 347.29 L174.28 347.36 L174.59 347.43 L174.89 347.5 L175.2 347.57 L175.5 347.64 L175.81 347.71 L176.12 347.78 L176.42 347.85 L176.73 347.92 L177.03 347.99 L177.34 348.06 L177.64 348.13 L177.95 348.19 L178.25 348.26 L178.56 348.33 L178.87 348.39 L179.17 348.46 L179.48 348.52 L179.78 348.59 L180.09 348.65 L180.39 348.71 L180.7 348.78 L181.01 348.84 L181.31 348.9 L181.62 348.96 L181.92 349.03 L182.23 349.09 L182.53 349.15 L182.84 349.21 L183.14 349.27 L183.45 349.33 L183.76 349.39 L184.06 349.45 L184.37 349.51 L184.67 349.56 L184.98 349.62 L185.28 349.68 L185.59 349.74 L185.89 349.79 L186.2 349.85 L186.51 349.91 L186.81 349.96 L187.12 350.02 L187.42 350.07 L187.73 350.13 L188.03 350.18 L188.34 350.24 L188.64 350.29 L188.95 350.35 L189.26 350.4 L189.56 350.45 L189.87 350.5 L190.17 350.56 L190.48 350.61 L190.78 350.66 L191.09 350.71 L191.39 350.76 L191.7 350.81 L192.01 350.86 L192.31 350.91 L192.62 350.96 L192.92 351.01 L193.23 351.06 L193.53 351.11 L193.84 351.16 L194.15 351.21 L194.45 351.26 L194.76 351.31 L195.06 351.36 L195.37 351.4 L195.67 351.45 L195.98 351.5 L196.28 351.54 L196.59 351.59 L196.9 351.64 L197.2 351.68 L197.51 351.73 L197.81 351.77 L198.12 351.82 L198.42 351.87 L198.73 351.91 L199.03 351.96 L199.34 352 L199.65 352.04 L199.95 352.09 L200.26 352.13 L200.56 352.18 L200.87 352.22 L201.17 352.26 L201.48 352.31 L201.78 352.35 L202.09 352.39 L202.4 352.43 L202.7 352.48 L203.01 352.52 L203.31 352.56 L203.62 352.6 L203.92 352.64 L204.23 352.69 L204.53 352.73 L204.84 352.77 L205.15 352.81 L205.45 352.85 L205.76 352.89 L206.06 352.93 L206.37 352.97 L206.67 353.01 L206.98 353.05 L207.28 353.09 L207.59 353.13 L207.9 353.17 L208.2 353.21 L208.51 353.25 L208.81 353.29 L209.12 353.33 L209.42 353.37 L209.73 353.41 L210.04 353.45 L210.34 353.48 L210.65 353.52 L210.95 353.56 L211.26 353.6 L211.56 353.64 L211.87 353.68 L212.17 353.71 L212.48 353.75 L212.79 353.79 L213.09 353.83 L213.4 353.87 L213.7 353.9 L214.01 353.94 L214.31 353.98 L214.62 354.02 L214.92 354.05 L215.23 354.09 L215.54 354.13 L215.84 354.17 L216.15 354.2 L216.45 354.24 L216.76 354.28 L217.06 354.31 L217.37 354.35 L217.67 354.39 L217.98 354.43 L218.29 354.46 L218.59 354.5 L218.9 354.54 L219.2 354.57 L219.51 354.61 L219.81 354.65 L220.12 354.68 L220.42 354.72 L220.73 354.76 L221.04 354.79 L221.34 354.83 L221.65 354.87 L221.95 354.9 L222.26 354.94 L222.56 354.98 L222.87 355.01 L223.18 355.05 L223.48 355.09 L223.79 355.13 L224.09 355.16 L224.4 355.2 L224.7 355.24 L225.01 355.27 L225.31 355.31 L225.62 355.35 L225.93 355.38 L226.23 355.42 L226.54 355.46 L226.84 355.5 L227.15 355.53 L227.45 355.57 L227.76 355.61 L228.06 355.65 L228.37 355.68 L228.68 355.72 L228.98 355.76 L229.29 355.8 L229.59 355.84 L229.9 355.87 L230.2 355.91 L230.51 355.95 L230.81 355.99 L231.12 356.03 L231.43 356.06 L231.73 356.1 L232.04 356.14 L232.34 356.18 L232.65 356.22 L232.95 356.26 L233.26 356.3 L233.56 356.34 L233.87 356.38 L234.18 356.42 L234.48 356.46 L234.79 356.5 L235.09 356.53 L235.4 356.57 L235.7 356.62 L236.01 356.66 L236.32 356.7 L236.62 356.74 L236.93 356.78 L237.23 356.82 L237.54 356.86 L237.84 356.9 L238.15 356.94 L238.45 356.98 L238.76 357.03 L239.07 357.07 L239.37 357.11 L239.68 357.15 L239.98 357.19 L240.29 357.24 L240.59 357.28 L240.9 357.32 L241.2 357.37 L241.51 357.41 L241.82 357.45 L242.12 357.5 L242.43 357.54 L242.73 357.58 L243.04 357.63 L243.34 357.67 L243.65 357.72 L243.95 357.76 L244.26 357.81 L244.57 357.85 L244.87 357.9 L245.18 357.95 L245.48 357.99 L245.79 358.04 L246.09 358.09 L246.4 358.13 L246.7 358.18 L247.01 358.23 L247.32 358.28 L247.62 358.32 L247.93 358.37 L248.23 358.42 L248.54 358.47 L248.84 358.52 L249.15 358.57 L249.45 358.62 L249.76 358.67 L250.07 358.72 L250.37 358.77 L250.68 358.82 L250.98 358.87 L251.29 358.92 L251.59 358.97 L251.9 359.02 L252.21 359.08 L252.51 359.13 L252.82 359.18 L253.12 359.23 L253.43 359.29 L253.73 359.34 L254.04 359.4 L254.34 359.45 L254.65 359.5 L254.96 359.56 L255.26 359.62 L255.57 359.67 L255.87 359.73 L256.18 359.78 L256.48 359.84 L256.79 359.9 L257.09 359.95 L257.4 360.01" fill="none" stroke="#262626" stroke-width="0.8" stroke-dasharray="4 1.3 1 1.3" stroke-linejoin="round"/>
<path d="M43.8 362.1 L44.11 361.81 L44.41 361.48 L44.72 361.12 L45.02 360.72 L45.33 360.29 L45.63 359.82 L45.94 359.33 L46.24 358.82 L46.55 358.28 L46.86 357.73 L47.16 357.15 L47.47 356.56 L47.77 355.9 L48.08 355.14 L48.38 354.32 L48.69 353.45 L48.99 352.55 L49.3 351.64 L49.61 350.73 L49.91 349.86 L50.22 349.04 L50.52 348.28 L50.83 347.58 L51.13 346.88 L51.44 346.19 L51.75 345.51 L52.05 344.85 L52.36 344.22 L52.66 343.61 L52.97 343.04 L53.27 342.52 L53.58 342.05 L53.88 341.63 L54.19 341.24 L54.5 340.84 L54.8 340.45 L55.11 340.08 L55.41 339.75 L55.72 339.46 L56.02 339.23 L56.33 339.07 L56.63 339 L56.94 339.03 L57.25 339.15 L57.55 339.35 L57.86 339.62 L58.16 339.96 L58.47 340.35 L58.77 340.78 L59.08 341.26 L59.38 341.77 L59.69 342.52 L60 343.54 L60.3 344.77 L60.61 346.16 L60.91 347.65 L61.22 349.28 L61.52 351.25 L61.83 353.48 L62.13 355.9 L62.44 358.42 L62.75 361.04 L63.05 363.89 L63.36 366.95 L63.66 370.23 L63.97 373.89 L64.27 377.89 L64.58 382.02 L64.88 386.1 L65.19 389.92 L65.5 393.46 L65.8 397.04 L66.11 400.48 L66.41 403.57 L66.72 406.07 L67.02 408.05 L67.33 409.91 L67.64 411.26 L67.94 411.69 L68.25 410.96 L68.55 409.33 L68.86 407.18 L69.16 404.85 L69.47 402.69 L69.77 400.46 L70.08 398.03 L70.39 395.45 L70.69 392.81 L71 390.16 L71.3 387.5 L71.61 384.63 L71.91 381.59 L72.22 378.45 L72.52 375.3 L72.83 372.19 L73.14 369.21 L73.44 366.42 L73.75 363.89 L74.05 361.7 L74.36 359.91 L74.66 358.45 L74.97 357.11 L75.27 355.87 L75.58 354.72 L75.89 353.66 L76.19 352.67 L76.5 351.76 L76.8 350.9 L77.11 350.11 L77.41 349.36 L77.72 348.65 L78.02 347.98 L78.33 347.35 L78.64 346.75 L78.94 346.18 L79.25 345.65 L79.55 345.13 L79.86 344.64 L80.16 344.16 L80.47 343.69 L80.78 343.24 L81.08 342.79 L81.39 342.35 L81.69 341.91 L82 341.49 L82.3 341.09 L82.61 340.71 L82.91 340.34 L83.22 339.98 L83.53 339.62 L83.83 339.25 L84.14 338.89 L84.44 338.51 L84.75 338.12 L85.05 337.71 L85.36 337.27 L85.66 336.82 L85.97 336.36 L86.28 335.88 L86.58 335.4 L86.89 334.9 L87.19 334.4 L87.5 333.89 L87.8 333.37 L88.11 332.85 L88.41 332.33 L88.72 331.81 L89.03 331.29 L89.33 330.77 L89.64 330.24 L89.94 329.67 L90.25 329.06 L90.55 328.43 L90.86 327.78 L91.16 327.13 L91.47 326.49 L91.78 325.89 L92.08 325.33 L92.39 324.82 L92.69 324.39 L93 324.04 L93.3 323.8 L93.61 323.62 L93.92 323.46 L94.22 323.33 L94.53 323.21 L94.83 323.11 L95.14 323.02 L95.44 322.93 L95.75 322.85 L96.05 322.77 L96.36 322.7 L96.67 322.64 L96.97 322.61 L97.28 322.6 L97.58 322.63 L97.89 322.68 L98.19 322.75 L98.5 322.85 L98.8 322.95 L99.11 323.07 L99.42 323.19 L99.72 323.32 L100.03 323.46 L100.33 323.63 L100.64 323.82 L100.94 324.02 L101.25 324.24 L101.55 324.46 L101.86 324.7 L102.17 324.94 L102.47 325.19 L102.78 325.44 L103.08 325.7 L103.39 325.95 L103.69 326.21 L104 326.47 L104.3 326.72 L104.61 326.98 L104.92 327.23 L105.22 327.48 L105.53 327.73 L105.83 327.98 L106.14 328.24 L106.44 328.49 L106.75 328.73 L107.05 328.98 L107.36 329.23 L107.67 329.47 L107.97 329.71 L108.28 329.95 L108.58 330.18 L108.89 330.42 L109.19 330.66 L109.5 330.9 L109.81 331.13 L110.11 331.37 L110.42 331.61 L110.72 331.84 L111.03 332.08 L111.33 332.31 L111.64 332.55 L111.94 332.78 L112.25 333.01 L112.56 333.25 L112.86 333.48 L113.17 333.71 L113.47 333.95 L113.78 334.18 L114.08 334.41 L114.39 334.64 L114.69 334.87 L115 335.1 L115.31 335.33 L115.61 335.56 L115.92 335.79 L116.22 336.02 L116.53 336.24 L116.83 336.47 L117.14 336.7 L117.44 336.92 L117.75 337.15 L118.06 337.37 L118.36 337.6 L118.67 337.82 L118.97 338.04 L119.28 338.26 L119.58 338.48 L119.89 338.71 L120.19 338.93 L120.5 339.15 L120.81 339.36 L121.11 339.58 L121.42 339.8 L121.72 340.02 L122.03 340.23 L122.33 340.45 L122.64 340.66 L122.95 340.88 L123.25 341.09 L123.56 341.3 L123.86 341.51 L124.17 341.72 L124.47 341.94 L124.78 342.14 L125.08 342.35 L125.39 342.56 L125.7 342.77 L126 342.97 L126.31 343.18 L126.61 343.38 L126.92 343.59 L127.22 343.79 L127.53 343.99 L127.83 344.19 L128.14 344.39 L128.45 344.59 L128.75 344.79 L129.06 344.98 L129.36 345.18 L129.67 345.38 L129.97 345.57 L130.28 345.76 L130.58 345.95 L130.89 346.15 L131.2 346.34 L131.5 346.53 L131.81 346.71 L132.11 346.9 L132.42 347.09 L132.72 347.27 L133.03 347.46 L133.33 347.64 L133.64 347.82 L133.95 348 L134.25 348.18 L134.56 348.36 L134.86 348.54 L135.17 348.71 L135.47 348.89 L135.78 349.06 L136.08 349.24 L136.39 349.41 L136.7 349.58 L137 349.75 L137.31 349.92 L137.61 350.09 L137.92 350.25 L138.22 350.42 L138.53 350.58 L138.84 350.75 L139.14 350.91 L139.45 351.07 L139.75 351.23 L140.06 351.39 L140.36 351.55 L140.67 351.71 L140.97 351.87 L141.28 352.02 L141.59 352.18 L141.89 352.33 L142.2 352.48 L142.5 352.64 L142.81 352.79 L143.11 352.94 L143.42 353.09 L143.72 353.23 L144.03 353.38 L144.34 353.53 L144.64 353.67 L144.95 353.82 L145.25 353.96 L145.56 354.1 L145.86 354.24 L146.17 354.38 L146.47 354.52 L146.78 354.66 L147.09 354.8 L147.39 354.94 L147.7 355.07 L148 355.21 L148.31 355.34 L148.61 355.48 L148.92 355.61 L149.22 355.74 L149.53 355.87 L149.84 356 L150.14 356.13 L150.45 356.26 L150.75 356.39 L151.06 356.51 L151.36 356.64 L151.67 356.76 L151.98 356.89 L152.28 357.01 L152.59 357.13 L152.89 357.25 L153.2 357.37 L153.5 357.49 L153.81 357.61 L154.11 357.73 L154.42 357.85 L154.73 357.97 L155.03 358.08 L155.34 358.2 L155.64 358.31 L155.95 358.42 L156.25 358.54 L156.56 358.65 L156.86 358.76 L157.17 358.87 L157.48 358.98 L157.78 359.09 L158.09 359.2 L158.39 359.3 L158.7 359.41 L159 359.51 L159.31 359.62 L159.61 359.72 L159.92 359.83 L160.23 359.93 L160.53 360.03 L160.84 360.13 L161.14 360.23 L161.45 360.33 L161.75 360.43 L162.06 360.53 L162.36 360.63 L162.67 360.73 L162.98 360.82 L163.28 360.92 L163.59 361.01 L163.89 361.11 L164.2 361.2 L164.5 361.29 L164.81 361.39 L165.12 361.48 L165.42 361.57 L165.73 361.66 L166.03 361.75 L166.34 361.84 L166.64 361.93 L166.95 362.01 L167.25 362.1 L167.56 362.19 L167.87 362.27 L168.17 362.36 L168.48 362.44 L168.78 362.53 L169.09 362.61 L169.39 362.69 L169.7 362.77 L170 362.85 L170.31 362.94 L170.62 363.02 L170.92 363.1 L171.23 363.17 L171.53 363.25 L171.84 363.33 L172.14 363.41 L172.45 363.48 L172.75 363.56 L173.06 363.64 L173.37 363.71 L173.67 363.79 L173.98 363.86 L174.28 363.93 L174.59 364.01 L174.89 364.08 L175.2 364.15 L175.5 364.22 L175.81 364.29 L176.12 364.36 L176.42 364.43 L176.73 364.5 L177.03 364.57 L177.34 364.64 L177.64 364.71 L177.95 364.77 L178.25 364.84 L178.56 364.91 L178.87 364.97 L179.17 365.04 L179.48 365.1 L179.78 365.17 L180.09 365.23 L180.39 365.29 L180.7 365.36 L181.01 365.42 L181.31 365.48 L181.62 365.54 L181.92 365.6 L182.23 365.66 L182.53 365.72 L182.84 365.78 L183.14 365.84 L183.45 365.9 L183.76 365.96 L184.06 366.02 L184.37 366.08 L184.67 366.13 L184.98 366.19 L185.28 366.25 L185.59 366.3 L185.89 366.36 L186.2 366.42 L186.51 366.47 L186.81 366.52 L187.12 366.58 L187.42 366.63 L187.73 366.69 L188.03 366.74 L188.34 366.79 L188.64 366.84 L188.95 366.9 L189.26 366.95 L189.56 367 L189.87 367.05 L190.17 367.1 L190.48 367.15 L190.78 367.2 L191.09 367.25 L191.39 367.3 L191.7 367.35 L192.01 367.4 L192.31 367.45 L192.62 367.5 L192.92 367.54 L193.23 367.59 L193.53 367.64 L193.84 367.68 L194.15 367.73 L194.45 367.78 L194.76 367.82 L195.06 367.87 L195.37 367.92 L195.67 367.96 L195.98 368.01 L196.28 368.05 L196.59 368.1 L196.9 368.14 L197.2 368.18 L197.51 368.23 L197.81 368.27 L198.12 368.32 L198.42 368.36 L198.73 368.4 L199.03 368.44 L199.34 368.49 L199.65 368.53 L199.95 368.57 L200.26 368.61 L200.56 368.66 L200.87 368.7 L201.17 368.74 L201.48 368.78 L201.78 368.82 L202.09 368.86 L202.4 368.9 L202.7 368.94 L203.01 368.98 L203.31 369.02 L203.62 369.06 L203.92 369.1 L204.23 369.14 L204.53 369.18 L204.84 369.22 L205.15 369.26 L205.45 369.3 L205.76 369.34 L206.06 369.38 L206.37 369.42 L206.67 369.46 L206.98 369.49 L207.28 369.53 L207.59 369.57 L207.9 369.61 L208.2 369.65 L208.51 369.69 L208.81 369.72 L209.12 369.76 L209.42 369.8 L209.73 369.84 L210.04 369.88 L210.34 369.91 L210.65 369.95 L210.95 369.99 L211.26 370.03 L211.56 370.06 L211.87 370.1 L212.17 370.14 L212.48 370.18 L212.79 370.21 L213.09 370.25 L213.4 370.29 L213.7 370.33 L214.01 370.36 L214.31 370.4 L214.62 370.44 L214.92 370.47 L215.23 370.51 L215.54 370.55 L215.84 370.59 L216.15 370.62 L216.45 370.66 L216.76 370.7 L217.06 370.73 L217.37 370.77 L217.67 370.81 L217.98 370.85 L218.29 370.88 L218.59 370.92 L218.9 370.96 L219.2 371 L219.51 371.03 L219.81 371.07 L220.12 371.11 L220.42 371.15 L220.73 371.19 L221.04 371.22 L221.34 371.26 L221.65 371.3 L221.95 371.34 L222.26 371.38 L222.56 371.42 L222.87 371.45 L223.18 371.49 L223.48 371.53 L223.79 371.57 L224.09 371.61 L224.4 371.65 L224.7 371.69 L225.01 371.73 L225.31 371.77 L225.62 371.81 L225.93 371.85 L226.23 371.89 L226.54 371.93 L226.84 371.97 L227.15 372.01 L227.45 372.05 L227.76 372.09 L228.06 372.13 L228.37 372.17 L228.68 372.21 L228.98 372.25 L229.29 372.29 L229.59 372.34 L229.9 372.38 L230.2 372.42 L230.51 372.46 L230.81 372.51 L231.12 372.55 L231.43 372.59 L231.73 372.64 L232.04 372.68 L232.34 372.72 L232.65 372.77 L232.95 372.81 L233.26 372.86 L233.56 372.9 L233.87 372.95 L234.18 372.99 L234.48 373.04 L234.79 373.08 L235.09 373.13 L235.4 373.17 L235.7 373.22 L236.01 373.27 L236.32 373.31 L236.62 373.36 L236.93 373.41 L237.23 373.46 L237.54 373.51 L237.84 373.55 L238.15 373.6 L238.45 373.65 L238.76 373.7 L239.07 373.75 L239.37 373.8 L239.68 373.85 L239.98 373.9 L240.29 373.95 L240.59 374.01 L240.9 374.06 L241.2 374.11 L241.51 374.16 L241.82 374.22 L242.12 374.27 L242.43 374.32 L242.73 374.38 L243.04 374.43 L243.34 374.49 L243.65 374.54 L243.95 374.6 L244.26 374.65 L244.57 374.71 L244.87 374.77 L245.18 374.82 L245.48 374.88 L245.79 374.94 L246.09 375 L246.4 375.05 L246.7 375.11 L247.01 375.17 L247.32 375.23 L247.62 375.29 L247.93 375.35 L248.23 375.42 L248.54 375.48 L248.84 375.54 L249.15 375.6 L249.45 375.67 L249.76 375.73 L250.07 375.79 L250.37 375.86 L250.68 375.92 L250.98 375.99 L251.29 376.05 L251.59 376.12 L251.9 376.19 L252.21 376.26 L252.51 376.32 L252.82 376.39 L253.12 376.46 L253.43 376.53 L253.73 376.6 L254.04 376.67 L254.34 376.74 L254.65 376.81 L254.96 376.88 L255.26 376.96 L255.57 377.03 L255.87 377.1 L256.18 377.18 L256.48 377.25 L256.79 377.33 L257.09 377.4 L257.4 377.48" fill="none" stroke="#262626" stroke-width="0.8" stroke-linejoin="round"/>
<path d="M43.8 366.4 L44.11 366.16 L44.41 365.88 L44.72 365.58 L45.02 365.24 L45.33 364.88 L45.63 364.49 L45.94 364.08 L46.24 363.64 L46.55 363.19 L46.86 362.73 L47.16 362.25 L47.47 361.75 L47.77 361.19 L48.08 360.56 L48.38 359.87 L48.69 359.13 L48.99 358.38 L49.3 357.61 L49.61 356.86 L49.91 356.12 L50.22 355.43 L50.52 354.79 L50.83 354.21 L51.13 353.62 L51.44 353.04 L51.75 352.47 L52.05 351.92 L52.36 351.38 L52.66 350.87 L52.97 350.4 L53.27 349.96 L53.58 349.56 L53.88 349.21 L54.19 348.88 L54.5 348.55 L54.8 348.22 L55.11 347.91 L55.41 347.63 L55.72 347.38 L56.02 347.19 L56.33 347.06 L56.63 347 L56.94 347.03 L57.25 347.13 L57.55 347.31 L57.86 347.55 L58.16 347.85 L58.47 348.2 L58.77 348.59 L59.08 349.01 L59.38 349.47 L59.69 350.13 L60 351.04 L60.3 352.14 L60.61 353.37 L60.91 354.7 L61.22 356.15 L61.52 357.9 L61.83 359.89 L62.13 362.04 L62.44 364.29 L62.75 366.62 L63.05 369.15 L63.36 371.88 L63.66 374.79 L63.97 378.05 L64.27 381.61 L64.58 385.29 L64.88 388.91 L65.19 392.32 L65.5 395.47 L65.8 398.65 L66.11 401.72 L66.41 404.46 L66.72 406.69 L67.02 408.45 L67.33 410.1 L67.64 411.31 L67.94 411.69 L68.25 410.93 L68.55 409.26 L68.86 407.07 L69.16 404.77 L69.47 402.3 L69.77 399.29 L70.08 395.93 L70.39 392.43 L70.69 388.97 L71 385.23 L71.3 381.18 L71.61 376.96 L71.91 372.72 L72.22 368.59 L72.52 364.72 L72.83 361.24 L73.14 358.31 L73.44 355.99 L73.75 353.9 L74.05 351.97 L74.36 350.17 L74.66 348.5 L74.97 346.95 L75.27 345.51 L75.58 344.16 L75.89 342.9 L76.19 341.72 L76.5 340.61 L76.8 339.54 L77.11 338.49 L77.41 337.47 L77.72 336.49 L78.02 335.54 L78.33 334.62 L78.64 333.76 L78.94 332.93 L79.25 332.16 L79.55 331.44 L79.86 330.78 L80.16 330.18 L80.47 329.64 L80.78 329.17 L81.08 328.77 L81.39 328.39 L81.69 328.03 L82 327.7 L82.3 327.39 L82.61 327.09 L82.91 326.82 L83.22 326.56 L83.53 326.32 L83.83 326.09 L84.14 325.87 L84.44 325.67 L84.75 325.47 L85.05 325.29 L85.36 325.11 L85.66 324.93 L85.97 324.74 L86.28 324.56 L86.58 324.38 L86.89 324.2 L87.19 324.04 L87.5 323.88 L87.8 323.74 L88.11 323.61 L88.41 323.5 L88.72 323.42 L89.03 323.35 L89.33 323.31 L89.64 323.3 L89.94 323.3 L90.25 323.32 L90.55 323.34 L90.86 323.36 L91.16 323.4 L91.47 323.44 L91.78 323.48 L92.08 323.53 L92.39 323.59 L92.69 323.66 L93 323.73 L93.3 323.8 L93.61 323.94 L93.92 324.19 L94.22 324.52 L94.53 324.93 L94.83 325.38 L95.14 325.86 L95.44 326.35 L95.75 326.83 L96.05 327.28 L96.36 327.74 L96.67 328.22 L96.97 328.73 L97.28 329.26 L97.58 329.79 L97.89 330.33 L98.19 330.87 L98.5 331.4 L98.8 331.91 L99.11 332.41 L99.42 332.89 L99.72 333.36 L100.03 333.82 L100.33 334.28 L100.64 334.73 L100.94 335.18 L101.25 335.63 L101.55 336.07 L101.86 336.51 L102.17 336.95 L102.47 337.38 L102.78 337.81 L103.08 338.24 L103.39 338.66 L103.69 339.09 L104 339.5 L104.3 339.92 L104.61 340.33 L104.92 340.74 L105.22 341.15 L105.53 341.55 L105.83 341.94 L106.14 342.34 L106.44 342.72 L106.75 343.11 L107.05 343.49 L107.36 343.86 L107.67 344.23 L107.97 344.6 L108.28 344.96 L108.58 345.31 L108.89 345.67 L109.19 346.02 L109.5 346.37 L109.81 346.71 L110.11 347.06 L110.42 347.4 L110.72 347.73 L111.03 348.07 L111.33 348.4 L111.64 348.72 L111.94 349.05 L112.25 349.37 L112.56 349.69 L112.86 350 L113.17 350.32 L113.47 350.63 L113.78 350.94 L114.08 351.24 L114.39 351.54 L114.69 351.84 L115 352.14 L115.31 352.43 L115.61 352.72 L115.92 353.01 L116.22 353.3 L116.53 353.58 L116.83 353.86 L117.14 354.14 L117.44 354.42 L117.75 354.69 L118.06 354.96 L118.36 355.23 L118.67 355.5 L118.97 355.76 L119.28 356.02 L119.58 356.28 L119.89 356.54 L120.19 356.79 L120.5 357.04 L120.81 357.29 L121.11 357.54 L121.42 357.79 L121.72 358.03 L122.03 358.27 L122.33 358.51 L122.64 358.74 L122.95 358.98 L123.25 359.21 L123.56 359.44 L123.86 359.67 L124.17 359.89 L124.47 360.12 L124.78 360.34 L125.08 360.56 L125.39 360.78 L125.7 360.99 L126 361.21 L126.31 361.42 L126.61 361.63 L126.92 361.84 L127.22 362.04 L127.53 362.25 L127.83 362.45 L128.14 362.65 L128.45 362.85 L128.75 363.05 L129.06 363.24 L129.36 363.44 L129.67 363.63 L129.97 363.82 L130.28 364.01 L130.58 364.19 L130.89 364.38 L131.2 364.56 L131.5 364.75 L131.81 364.93 L132.11 365.11 L132.42 365.28 L132.72 365.46 L133.03 365.64 L133.33 365.81 L133.64 365.98 L133.95 366.15 L134.25 366.32 L134.56 366.49 L134.86 366.65 L135.17 366.82 L135.47 366.98 L135.78 367.15 L136.08 367.31 L136.39 367.47 L136.7 367.63 L137 367.78 L137.31 367.94 L137.61 368.1 L137.92 368.25 L138.22 368.4 L138.53 368.56 L138.84 368.71 L139.14 368.86 L139.45 369.01 L139.75 369.15 L140.06 369.3 L140.36 369.45 L140.67 369.59 L140.97 369.73 L141.28 369.88 L141.59 370.02 L141.89 370.16 L142.2 370.3 L142.5 370.44 L142.81 370.58 L143.11 370.72 L143.42 370.86 L143.72 370.99 L144.03 371.13 L144.34 371.26 L144.64 371.4 L144.95 371.53 L145.25 371.67 L145.56 371.8 L145.86 371.93 L146.17 372.06 L146.47 372.19 L146.78 372.32 L147.09 372.45 L147.39 372.58 L147.7 372.71 L148 372.84 L148.31 372.96 L148.61 373.09 L148.92 373.21 L149.22 373.34 L149.53 373.46 L149.84 373.59 L150.14 373.71 L150.45 373.83 L150.75 373.95 L151.06 374.08 L151.36 374.2 L151.67 374.32 L151.98 374.44 L152.28 374.55 L152.59 374.67 L152.89 374.79 L153.2 374.91 L153.5 375.02 L153.81 375.14 L154.11 375.26 L154.42 375.37 L154.73 375.48 L155.03 375.6 L155.34 375.71 L155.64 375.82 L155.95 375.94 L156.25 376.05 L156.56 376.16 L156.86 376.27 L157.17 376.38 L157.48 376.49 L157.78 376.6 L158.09 376.7 L158.39 376.81 L158.7 376.92 L159 377.02 L159.31 377.13 L159.61 377.24 L159.92 377.34 L160.23 377.44 L160.53 377.55 L160.84 377.65 L161.14 377.75 L161.45 377.86 L161.75 377.96 L162.06 378.06 L162.36 378.16 L162.67 378.26 L162.98 378.36 L163.28 378.46 L163.59 378.56 L163.89 378.65 L164.2 378.75 L164.5 378.85 L164.81 378.95 L165.12 379.04 L165.42 379.14 L165.73 379.23 L166.03 379.33 L166.34 379.42 L166.64 379.51 L166.95 379.61 L167.25 379.7 L167.56 379.79 L167.87 379.88 L168.17 379.98 L168.48 380.07 L168.78 380.16 L169.09 380.25 L169.39 380.34 L169.7 380.42 L170 380.51 L170.31 380.6 L170.62 380.69 L170.92 380.78 L171.23 380.86 L171.53 380.95 L171.84 381.03 L172.14 381.12 L172.45 381.2 L172.75 381.29 L173.06 381.37 L173.37 381.46 L173.67 381.54 L173.98 381.62 L174.28 381.71 L174.59 381.79 L174.89 381.87 L175.2 381.95 L175.5 382.03 L175.81 382.11 L176.12 382.19 L176.42 382.27 L176.73 382.35 L177.03 382.43 L177.34 382.51 L177.64 382.58 L177.95 382.66 L178.25 382.74 L178.56 382.82 L178.87 382.89 L179.17 382.97 L179.48 383.04 L179.78 383.12 L180.09 383.19 L180.39 383.27 L180.7 383.34 L181.01 383.42 L181.31 383.49 L181.62 383.56 L181.92 383.63 L182.23 383.71 L182.53 383.78 L182.84 383.85 L183.14 383.92 L183.45 383.99 L183.76 384.06 L184.06 384.13 L184.37 384.2 L184.67 384.27 L184.98 384.34 L185.28 384.41 L185.59 384.48 L185.89 384.55 L186.2 384.61 L186.51 384.68 L186.81 384.75 L187.12 384.82 L187.42 384.88 L187.73 384.95 L188.03 385.01 L188.34 385.08 L188.64 385.15 L188.95 385.21 L189.26 385.28 L189.56 385.34 L189.87 385.4 L190.17 385.47 L190.48 385.53 L190.78 385.59 L191.09 385.66 L191.39 385.72 L191.7 385.78 L192.01 385.84 L192.31 385.91 L192.62 385.97 L192.92 386.03 L193.23 386.09 L193.53 386.15 L193.84 386.21 L194.15 386.27 L194.45 386.33 L194.76 386.39 L195.06 386.45 L195.37 386.51 L195.67 386.57 L195.98 386.63 L196.28 386.69 L196.59 386.74 L196.9 386.8 L197.2 386.86 L197.51 386.92 L197.81 386.97 L198.12 387.03 L198.42 387.09 L198.73 387.14 L199.03 387.2 L199.34 387.26 L199.65 387.31 L199.95 387.37 L200.26 387.42 L200.56 387.48 L200.87 387.53 L201.17 387.59 L201.48 387.64 L201.78 387.7 L202.09 387.75 L202.4 387.81 L202.7 387.86 L203.01 387.91 L203.31 387.97 L203.62 388.02 L203.92 388.07 L204.23 388.13 L204.53 388.18 L204.84 388.23 L205.15 388.28 L205.45 388.34 L205.76 388.39 L206.06 388.44 L206.37 388.49 L206.67 388.54 L206.98 388.59 L207.28 388.64 L207.59 388.7 L207.9 388.75 L208.2 388.8 L208.51 388.85 L208.81 388.9 L209.12 388.95 L209.42 389 L209.73 389.05 L210.04 389.1 L210.34 389.15 L210.65 389.2 L210.95 389.25 L211.26 389.3 L211.56 389.35 L211.87 389.39 L212.17 389.44 L212.48 389.49 L212.79 389.54 L213.09 389.59 L213.4 389.64 L213.7 389.69 L214.01 389.73 L214.31 389.78 L214.62 389.83 L214.92 389.88 L215.23 389.93 L215.54 389.97 L215.84 390.02 L216.15 390.07 L216.45 390.12 L216.76 390.17 L217.06 390.21 L217.37 390.26 L217.67 390.31 L217.98 390.35 L218.29 390.4 L218.59 390.45 L218.9 390.5 L219.2 390.54 L219.51 390.59 L219.81 390.64 L220.12 390.68 L220.42 390.73 L220.73 390.78 L221.04 390.82 L221.34 390.87 L221.65 390.91 L221.95 390.96 L222.26 391.01 L222.56 391.05 L222.87 391.1 L223.18 391.15 L223.48 391.19 L223.79 391.24 L224.09 391.28 L224.4 391.33 L224.7 391.38 L225.01 391.42 L225.31 391.47 L225.62 391.52 L225.93 391.56 L226.23 391.61 L226.54 391.65 L226.84 391.7 L227.15 391.75 L227.45 391.79 L227.76 391.84 L228.06 391.88 L228.37 391.93 L228.68 391.98 L228.98 392.02 L229.29 392.07 L229.59 392.11 L229.9 392.16 L230.2 392.21 L230.51 392.25 L230.81 392.3 L231.12 392.35 L231.43 392.39 L231.73 392.44 L232.04 392.48 L232.34 392.53 L232.65 392.58 L232.95 392.62 L233.26 392.67 L233.56 392.72 L233.87 392.76 L234.18 392.81 L234.48 392.86 L234.79 392.9 L235.09 392.95 L235.4 393 L235.7 393.04 L236.01 393.09 L236.32 393.14 L236.62 393.19 L236.93 393.23 L237.23 393.28 L237.54 393.33 L237.84 393.38 L238.15 393.42 L238.45 393.47 L238.76 393.52 L239.07 393.57 L239.37 393.61 L239.68 393.66 L239.98 393.71 L240.29 393.76 L240.59 393.81 L240.9 393.86 L241.2 393.9 L241.51 393.95 L241.82 394 L242.12 394.05 L242.43 394.1 L242.73 394.15 L243.04 394.2 L243.34 394.25 L243.65 394.3 L243.95 394.35 L244.26 394.4 L244.57 394.45 L244.87 394.5 L245.18 394.55 L245.48 394.6 L245.79 394.65 L246.09 394.7 L246.4 394.75 L246.7 394.8 L247.01 394.85 L247.32 394.9 L247.62 394.95 L247.93 395.01 L248.23 395.06 L248.54 395.11 L248.84 395.16 L249.15 395.21 L249.45 395.27 L249.76 395.32 L250.07 395.37 L250.37 395.43 L250.68 395.48 L250.98 395.53 L251.29 395.59 L251.59 395.64 L251.9 395.69 L252.21 395.75 L252.51 395.8 L252.82 395.86 L253.12 395.91 L253.43 395.97 L253.73 396.02 L254.04 396.08 L254.34 396.13 L254.65 396.19 L254.96 396.25 L255.26 396.3 L255.57 396.36 L255.87 396.41 L256.18 396.47 L256.48 396.53 L256.79 396.59 L257.09 396.64 L257.4 396.7" fill="none" stroke="#262626" stroke-width="0.8" stroke-dasharray="2.4 1.5" stroke-linejoin="round"/>
<path d="M43.8 374 L44.11 373.92 L44.41 373.84 L44.72 373.74 L45.02 373.64 L45.33 373.52 L45.63 373.4 L45.94 373.27 L46.24 373.13 L46.55 372.99 L46.86 372.85 L47.16 372.69 L47.47 372.54 L47.77 372.36 L48.08 372.16 L48.38 371.95 L48.69 371.72 L48.99 371.48 L49.3 371.24 L49.61 371 L49.91 370.77 L50.22 370.55 L50.52 370.35 L50.83 370.17 L51.13 369.98 L51.44 369.8 L51.75 369.62 L52.05 369.45 L52.36 369.28 L52.66 369.12 L52.97 368.97 L53.27 368.83 L53.58 368.7 L53.88 368.59 L54.19 368.49 L54.5 368.39 L54.8 368.28 L55.11 368.19 L55.41 368.1 L55.72 368.02 L56.02 367.96 L56.33 367.92 L56.63 367.9 L56.94 367.92 L57.25 367.99 L57.55 368.11 L57.86 368.27 L58.16 368.48 L58.47 368.71 L58.77 368.97 L59.08 369.26 L59.38 369.57 L59.69 370.02 L60 370.64 L60.3 371.38 L60.61 372.21 L60.91 373.11 L61.22 374.09 L61.52 375.28 L61.83 376.63 L62.13 378.08 L62.44 379.6 L62.75 381.18 L63.05 382.9 L63.36 384.74 L63.66 386.71 L63.97 388.92 L64.27 391.33 L64.58 393.82 L64.88 396.27 L65.19 398.58 L65.5 400.71 L65.8 402.87 L66.11 404.94 L66.41 406.8 L66.72 408.31 L67.02 409.5 L67.33 410.62 L67.64 411.44 L67.94 411.69 L68.25 410.94 L68.55 409.32 L68.86 407.29 L69.16 404.63 L69.47 400.79 L69.77 396.38 L70.08 391.62 L70.39 386.28 L70.69 380.45 L71 374.21 L71.3 367.66 L71.61 360.88 L71.91 353.97 L72.22 346.7 L72.52 338.47 L72.83 329.77 L73.14 321.12 L73.44 313.04 L73.75 306.06 L74.05 300.18 L74.36 294.64 L74.66 289.51 L74.97 284.84 L75.27 280.72 L75.58 277.2 L75.89 274.13 L76.19 271.24 L76.5 268.62 L76.8 266.35 L77.11 264.5 L77.41 263.15 L77.72 262.07 L78.02 261.08 L78.33 260.25 L78.64 259.67 L78.94 259.41 L79.25 259.51 L79.55 259.93 L79.86 260.6 L80.16 261.43 L80.47 262.38 L80.78 263.48 L81.08 265.17 L81.39 267.32 L81.69 269.76 L82 272.3 L82.3 274.76 L82.61 277.09 L82.91 279.57 L83.22 282.15 L83.53 284.77 L83.83 287.38 L84.14 289.9 L84.44 292.27 L84.75 294.42 L85.05 296.31 L85.36 298.05 L85.66 299.72 L85.97 301.34 L86.28 302.89 L86.58 304.37 L86.89 305.79 L87.19 307.15 L87.5 308.44 L87.8 309.66 L88.11 310.82 L88.41 311.91 L88.72 312.93 L89.03 313.88 L89.33 314.76 L89.64 315.58 L89.94 316.35 L90.25 317.07 L90.55 317.75 L90.86 318.41 L91.16 319.05 L91.47 319.69 L91.78 320.32 L92.08 320.96 L92.39 321.62 L92.69 322.31 L93 323.04 L93.3 323.81 L93.61 324.63 L93.92 325.48 L94.22 326.36 L94.53 327.26 L94.83 328.18 L95.14 329.11 L95.44 330.04 L95.75 330.97 L96.05 331.89 L96.36 332.8 L96.67 333.69 L96.97 334.55 L97.28 335.38 L97.58 336.21 L97.89 337.03 L98.19 337.85 L98.5 338.66 L98.8 339.46 L99.11 340.25 L99.42 341.02 L99.72 341.78 L100.03 342.53 L100.33 343.26 L100.64 343.97 L100.94 344.66 L101.25 345.33 L101.55 345.99 L101.86 346.63 L102.17 347.25 L102.47 347.87 L102.78 348.47 L103.08 349.06 L103.39 349.64 L103.69 350.22 L104 350.78 L104.3 351.33 L104.61 351.87 L104.92 352.41 L105.22 352.93 L105.53 353.46 L105.83 353.98 L106.14 354.49 L106.44 355 L106.75 355.51 L107.05 356.02 L107.36 356.53 L107.67 357.04 L107.97 357.54 L108.28 358.04 L108.58 358.53 L108.89 359.02 L109.19 359.5 L109.5 359.97 L109.81 360.44 L110.11 360.9 L110.42 361.36 L110.72 361.81 L111.03 362.25 L111.33 362.69 L111.64 363.12 L111.94 363.55 L112.25 363.97 L112.56 364.39 L112.86 364.79 L113.17 365.2 L113.47 365.59 L113.78 365.99 L114.08 366.37 L114.39 366.75 L114.69 367.13 L115 367.5 L115.31 367.87 L115.61 368.23 L115.92 368.58 L116.22 368.93 L116.53 369.27 L116.83 369.61 L117.14 369.95 L117.44 370.28 L117.75 370.6 L118.06 370.92 L118.36 371.24 L118.67 371.55 L118.97 371.85 L119.28 372.15 L119.58 372.45 L119.89 372.74 L120.19 373.03 L120.5 373.31 L120.81 373.59 L121.11 373.87 L121.42 374.14 L121.72 374.4 L122.03 374.66 L122.33 374.92 L122.64 375.17 L122.95 375.42 L123.25 375.67 L123.56 375.91 L123.86 376.15 L124.17 376.38 L124.47 376.61 L124.78 376.84 L125.08 377.06 L125.39 377.28 L125.7 377.5 L126 377.71 L126.31 377.92 L126.61 378.12 L126.92 378.32 L127.22 378.52 L127.53 378.72 L127.83 378.91 L128.14 379.1 L128.45 379.29 L128.75 379.47 L129.06 379.65 L129.36 379.83 L129.67 380 L129.97 380.17 L130.28 380.34 L130.58 380.5 L130.89 380.67 L131.2 380.83 L131.5 380.99 L131.81 381.14 L132.11 381.29 L132.42 381.44 L132.72 381.59 L133.03 381.74 L133.33 381.88 L133.64 382.02 L133.95 382.16 L134.25 382.3 L134.56 382.43 L134.86 382.57 L135.17 382.7 L135.47 382.83 L135.78 382.95 L136.08 383.08 L136.39 383.2 L136.7 383.32 L137 383.44 L137.31 383.56 L137.61 383.68 L137.92 383.79 L138.22 383.91 L138.53 384.02 L138.84 384.13 L139.14 384.24 L139.45 384.35 L139.75 384.46 L140.06 384.56 L140.36 384.67 L140.67 384.77 L140.97 384.88 L141.28 384.98 L141.59 385.08 L141.89 385.18 L142.2 385.28 L142.5 385.38 L142.81 385.48 L143.11 385.57 L143.42 385.67 L143.72 385.77 L144.03 385.86 L144.34 385.96 L144.64 386.06 L144.95 386.15 L145.25 386.24 L145.56 386.34 L145.86 386.43 L146.17 386.53 L146.47 386.62 L146.78 386.71 L147.09 386.8 L147.39 386.9 L147.7 386.99 L148 387.08 L148.31 387.17 L148.61 387.26 L148.92 387.35 L149.22 387.44 L149.53 387.53 L149.84 387.62 L150.14 387.71 L150.45 387.8 L150.75 387.89 L151.06 387.98 L151.36 388.07 L151.67 388.16 L151.98 388.24 L152.28 388.33 L152.59 388.42 L152.89 388.5 L153.2 388.59 L153.5 388.68 L153.81 388.76 L154.11 388.85 L154.42 388.93 L154.73 389.02 L155.03 389.1 L155.34 389.19 L155.64 389.27 L155.95 389.36 L156.25 389.44 L156.56 389.52 L156.86 389.61 L157.17 389.69 L157.48 389.77 L157.78 389.85 L158.09 389.94 L158.39 390.02 L158.7 390.1 L159 390.18 L159.31 390.26 L159.61 390.34 L159.92 390.42 L160.23 390.5 L160.53 390.58 L160.84 390.66 L161.14 390.74 L161.45 390.82 L161.75 390.9 L162.06 390.98 L162.36 391.05 L162.67 391.13 L162.98 391.21 L163.28 391.29 L163.59 391.36 L163.89 391.44 L164.2 391.52 L164.5 391.59 L164.81 391.67 L165.12 391.74 L165.42 391.82 L165.73 391.9 L166.03 391.97 L166.34 392.05 L166.64 392.12 L166.95 392.19 L167.25 392.27 L167.56 392.34 L167.87 392.42 L168.17 392.49 L168.48 392.56 L168.78 392.63 L169.09 392.71 L169.39 392.78 L169.7 392.85 L170 392.92 L170.31 393 L170.62 393.07 L170.92 393.14 L171.23 393.21 L171.53 393.28 L171.84 393.35 L172.14 393.42 L172.45 393.49 L172.75 393.56 L173.06 393.63 L173.37 393.7 L173.67 393.77 L173.98 393.84 L174.28 393.91 L174.59 393.97 L174.89 394.04 L175.2 394.11 L175.5 394.18 L175.81 394.25 L176.12 394.31 L176.42 394.38 L176.73 394.45 L177.03 394.51 L177.34 394.58 L177.64 394.65 L177.95 394.71 L178.25 394.78 L178.56 394.84 L178.87 394.91 L179.17 394.98 L179.48 395.04 L179.78 395.11 L180.09 395.17 L180.39 395.23 L180.7 395.3 L181.01 395.36 L181.31 395.43 L181.62 395.49 L181.92 395.55 L182.23 395.62 L182.53 395.68 L182.84 395.74 L183.14 395.81 L183.45 395.87 L183.76 395.93 L184.06 395.99 L184.37 396.05 L184.67 396.12 L184.98 396.18 L185.28 396.24 L185.59 396.3 L185.89 396.36 L186.2 396.42 L186.51 396.48 L186.81 396.54 L187.12 396.6 L187.42 396.66 L187.73 396.72 L188.03 396.78 L188.34 396.84 L188.64 396.9 L188.95 396.96 L189.26 397.02 L189.56 397.08 L189.87 397.14 L190.17 397.2 L190.48 397.26 L190.78 397.31 L191.09 397.37 L191.39 397.43 L191.7 397.49 L192.01 397.54 L192.31 397.6 L192.62 397.66 L192.92 397.72 L193.23 397.77 L193.53 397.83 L193.84 397.89 L194.15 397.94 L194.45 398 L194.76 398.06 L195.06 398.11 L195.37 398.17 L195.67 398.22 L195.98 398.28 L196.28 398.34 L196.59 398.39 L196.9 398.45 L197.2 398.5 L197.51 398.56 L197.81 398.61 L198.12 398.66 L198.42 398.72 L198.73 398.77 L199.03 398.83 L199.34 398.88 L199.65 398.94 L199.95 398.99 L200.26 399.04 L200.56 399.1 L200.87 399.15 L201.17 399.2 L201.48 399.26 L201.78 399.31 L202.09 399.36 L202.4 399.42 L202.7 399.47 L203.01 399.52 L203.31 399.57 L203.62 399.63 L203.92 399.68 L204.23 399.73 L204.53 399.78 L204.84 399.83 L205.15 399.89 L205.45 399.94 L205.76 399.99 L206.06 400.04 L206.37 400.09 L206.67 400.14 L206.98 400.19 L207.28 400.24 L207.59 400.29 L207.9 400.35 L208.2 400.4 L208.51 400.45 L208.81 400.5 L209.12 400.55 L209.42 400.6 L209.73 400.65 L210.04 400.7 L210.34 400.75 L210.65 400.8 L210.95 400.85 L211.26 400.9 L211.56 400.95 L211.87 401 L212.17 401.04 L212.48 401.09 L212.79 401.14 L213.09 401.19 L213.4 401.24 L213.7 401.29 L214.01 401.34 L214.31 401.39 L214.62 401.44 L214.92 401.48 L215.23 401.53 L215.54 401.58 L215.84 401.63 L216.15 401.68 L216.45 401.73 L216.76 401.77 L217.06 401.82 L217.37 401.87 L217.67 401.92 L217.98 401.97 L218.29 402.01 L218.59 402.06 L218.9 402.11 L219.2 402.16 L219.51 402.2 L219.81 402.25 L220.12 402.3 L220.42 402.35 L220.73 402.39 L221.04 402.44 L221.34 402.49 L221.65 402.54 L221.95 402.58 L222.26 402.63 L222.56 402.68 L222.87 402.72 L223.18 402.77 L223.48 402.82 L223.79 402.86 L224.09 402.91 L224.4 402.96 L224.7 403 L225.01 403.05 L225.31 403.1 L225.62 403.14 L225.93 403.19 L226.23 403.23 L226.54 403.28 L226.84 403.33 L227.15 403.37 L227.45 403.42 L227.76 403.47 L228.06 403.51 L228.37 403.56 L228.68 403.6 L228.98 403.65 L229.29 403.7 L229.59 403.74 L229.9 403.79 L230.2 403.83 L230.51 403.88 L230.81 403.93 L231.12 403.97 L231.43 404.02 L231.73 404.06 L232.04 404.11 L232.34 404.15 L232.65 404.2 L232.95 404.25 L233.26 404.29 L233.56 404.34 L233.87 404.38 L234.18 404.43 L234.48 404.47 L234.79 404.52 L235.09 404.56 L235.4 404.61 L235.7 404.66 L236.01 404.7 L236.32 404.75 L236.62 404.79 L236.93 404.84 L237.23 404.88 L237.54 404.93 L237.84 404.97 L238.15 405.02 L238.45 405.07 L238.76 405.11 L239.07 405.16 L239.37 405.2 L239.68 405.25 L239.98 405.29 L240.29 405.34 L240.59 405.38 L240.9 405.43 L241.2 405.48 L241.51 405.52 L241.82 405.57 L242.12 405.61 L242.43 405.66 L242.73 405.7 L243.04 405.75 L243.34 405.79 L243.65 405.84 L243.95 405.89 L244.26 405.93 L244.57 405.98 L244.87 406.02 L245.18 406.07 L245.48 406.11 L245.79 406.16 L246.09 406.21 L246.4 406.25 L246.7 406.3 L247.01 406.34 L247.32 406.39 L247.62 406.44 L247.93 406.48 L248.23 406.53 L248.54 406.57 L248.84 406.62 L249.15 406.67 L249.45 406.71 L249.76 406.76 L250.07 406.81 L250.37 406.85 L250.68 406.9 L250.98 406.94 L251.29 406.99 L251.59 407.04 L251.9 407.08 L252.21 407.13 L252.51 407.18 L252.82 407.22 L253.12 407.27 L253.43 407.32 L253.73 407.36 L254.04 407.41 L254.34 407.46 L254.65 407.51 L254.96 407.55 L255.26 407.6 L255.57 407.65 L255.87 407.69 L256.18 407.74 L256.48 407.79 L256.79 407.84 L257.09 407.88 L257.4 407.93" fill="none" stroke="#262626" stroke-width="0.8" stroke-dasharray="4 1.2 1 1.2 1 1.2" stroke-linejoin="round"/>
<text transform="translate(230 260) scale(1.0 1)" font-size="8.9" text-anchor="start" stroke="#111" stroke-width="0.18" ><tspan font-style="italic">θ</tspan> = 0<tspan dy="-3.3" font-size="6.3">o</tspan></text>
<text transform="translate(230 296.7) scale(1.0 1)" font-size="8.9" text-anchor="start" stroke="#111" stroke-width="0.18" ><tspan font-style="italic">θ</tspan> = 4<tspan dy="-3.3" font-size="6.3">o</tspan></text>
<text transform="translate(230 322.1) scale(1.0 1)" font-size="8.9" text-anchor="start" stroke="#111" stroke-width="0.18" ><tspan font-style="italic">θ</tspan> = 9<tspan dy="-3.3" font-size="6.3">o</tspan></text>
<text transform="translate(230 353.4) scale(1.0 1)" font-size="8.9" text-anchor="start" stroke="#111" stroke-width="0.18" ><tspan font-style="italic">θ</tspan> = 24<tspan dy="-3.3" font-size="6.3">o</tspan></text>
<text transform="translate(230 371.1) scale(1.0 1)" font-size="8.9" text-anchor="start" stroke="#111" stroke-width="0.18" ><tspan font-style="italic">θ</tspan> = 34<tspan dy="-3.3" font-size="6.3">o</tspan></text>
<text transform="translate(230 389.9) scale(1.0 1)" font-size="8.9" text-anchor="start" stroke="#111" stroke-width="0.18" ><tspan font-style="italic">θ</tspan> = 54<tspan dy="-3.3" font-size="6.3">o</tspan></text>
<text transform="translate(230 402.5) scale(1.0 1)" font-size="8.9" text-anchor="start" stroke="#111" stroke-width="0.18" ><tspan font-style="italic">θ</tspan> = 90<tspan dy="-3.3" font-size="6.3">o</tspan></text>
<text transform="translate(191.2 325.7) scale(1.0 1)" font-size="8.8" text-anchor="start" stroke="#111" stroke-width="0.18" >785 nm</text>
<text transform="translate(51.3 265.3) scale(1.0 1)" font-size="12.2" text-anchor="start" stroke="#111" stroke-width="0.3" font-weight="bold">(a)</text>
<path d="M105.9 266V254.7H120" fill="none" stroke="#1e1e1e" stroke-width="0.9" />
<path d="M122.4 254.7l-4.4 -1.6v3.2z M105.9 268l-1.6 -4.4h3.2z" fill="#1e1e1e"/>
<text transform="translate(124 259) scale(1.0 1)" font-size="11.4" text-anchor="start" stroke="#111" stroke-width="0.18" font-style="italic" font-weight="bold">E</text>
<text transform="translate(99 267.2) scale(1.0 1)" font-size="9.6" text-anchor="start" stroke="#111" stroke-width="0.18" font-style="italic">k</text>
<rect x="86.5" y="277.1" width="36.6" height="3.5" fill="#a9a9a9" stroke="#333" stroke-width="0.7"/>
<path d="M88.6 276.9l9.2 -4.3M95.08 276.9l9.2 -4.3M101.56 276.9l9.2 -4.3M108.04 276.9l9.2 -4.3M114.52 276.9l9.2 -4.3M121 276.9l9.2 -4.3" fill="none" stroke="#1e1e1e" stroke-width="0.8" />
<text transform="translate(94 290.5) scale(1.0 1)" font-size="8.9" text-anchor="start" stroke="#111" stroke-width="0.18" ><tspan font-style="italic">θ</tspan> = 0<tspan dy="-3.3" font-size="6.3">o</tspan></text>
<text transform="translate(151.6 445.9) scale(1.0 1)" font-size="12.5" text-anchor="middle" stroke="#111" stroke-width="0.18" textLength="84.1" lengthAdjust="spacingAndGlyphs">Wavelength (nm)</text>
<text transform="translate(18.4 333.6) rotate(-90)" font-size="12.5" text-anchor="middle" textLength="59.5" lengthAdjust="spacing" stroke="#111" stroke-width="0.18">Absorbance</text>
</g>
<g id="polar">
<circle cx="396.2" cy="345.2" r="8.88" fill="none" stroke="#e9e9e9" stroke-width="0.7"/>
<circle cx="396.2" cy="345.2" r="17.76" fill="none" stroke="#d2d2d2" stroke-width="0.7"/>
<circle cx="396.2" cy="345.2" r="26.65" fill="none" stroke="#e9e9e9" stroke-width="0.7"/>
<circle cx="396.2" cy="345.2" r="35.53" fill="none" stroke="#d2d2d2" stroke-width="0.7"/>
<circle cx="396.2" cy="345.2" r="44.41" fill="none" stroke="#e9e9e9" stroke-width="0.7"/>
<circle cx="396.2" cy="345.2" r="53.29" fill="none" stroke="#d2d2d2" stroke-width="0.7"/>
<circle cx="396.2" cy="345.2" r="62.17" fill="none" stroke="#e9e9e9" stroke-width="0.7"/>
<circle cx="396.2" cy="345.2" r="71.05" fill="none" stroke="#d2d2d2" stroke-width="0.7"/>
<circle cx="396.2" cy="345.2" r="79.94" fill="none" stroke="#e9e9e9" stroke-width="0.7"/>
<circle cx="396.2" cy="345.2" r="88.82" fill="none" stroke="#d2d2d2" stroke-width="0.7"/>
<path d="M413.36 340.6L490.57 319.91M408.76 332.64L465.28 276.12M400.8 328.04L421.49 250.83M391.6 328.04L370.91 250.83M383.64 332.64L327.12 276.12M379.04 340.6L301.83 319.91M379.04 349.8L301.83 370.49M383.64 357.76L327.12 414.28M391.6 362.36L370.91 439.57M400.8 362.36L421.49 439.57M408.76 357.76L465.28 414.28M413.36 349.8L490.57 370.49" fill="none" stroke="#e6e6e6" stroke-width="0.7" />
<path d="M396.2 345.2L493.9 345.2M396.2 345.2L480.81 296.35M396.2 345.2L445.05 260.59M396.2 345.2L396.2 247.5M396.2 345.2L347.35 260.59M396.2 345.2L311.59 296.35M396.2 345.2L298.5 345.2M396.2 345.2L311.59 394.05M396.2 345.2L347.35 429.81M396.2 345.2L396.2 442.9M396.2 345.2L445.05 429.81M396.2 345.2L480.81 394.05" fill="none" stroke="#9a9a9a" stroke-width="0.7" />
<circle cx="396.2" cy="345.2" r="97.7" fill="none" stroke="#555" stroke-width="0.95"/>
<path d="M490.57 319.91L488.64 320.43M465.28 276.12L463.87 277.53M421.49 250.83L420.97 252.76M370.91 250.83L371.43 252.76M327.12 276.12L328.53 277.53M301.83 319.91L303.76 320.43M301.83 370.49L303.76 369.97M327.12 414.28L328.53 412.87M370.91 439.57L371.43 437.64M421.49 439.57L420.97 437.64M465.28 414.28L463.87 412.87M490.57 370.49L488.64 369.97" fill="none" stroke="#777" stroke-width="0.7" />
<path d="M493.9 345.2L496.5 345.2M480.81 296.35L483.06 295.05M445.05 260.59L446.35 258.34M396.2 247.5L396.2 244.9M347.35 260.59L346.05 258.34M311.59 296.35L309.34 295.05M298.5 345.2L295.9 345.2M311.59 394.05L309.34 395.35M347.35 429.81L346.05 432.06M396.2 442.9L396.2 445.5M445.05 429.81L446.35 432.06M480.81 394.05L483.06 395.35" fill="none" stroke="#3a3a3a" stroke-width="0.8" />
<text transform="translate(500 348) scale(1.0 1)" font-size="8.8" text-anchor="middle" stroke="#111" stroke-width="0.18" >0</text>
<text transform="translate(488.2 294.4) scale(1.0 1)" font-size="8.8" text-anchor="middle" stroke="#111" stroke-width="0.18" >30</text>
<text transform="translate(448 254.8) scale(1.0 1)" font-size="8.8" text-anchor="middle" stroke="#111" stroke-width="0.18" >60</text>
<text transform="translate(396.2 239.4) scale(1.0 1)" font-size="8.8" text-anchor="middle" stroke="#111" stroke-width="0.18" >90</text>
<text transform="translate(342.2 255) scale(1.0 1)" font-size="8.8" text-anchor="middle" stroke="#111" stroke-width="0.18" >120</text>
<text transform="translate(302 294.4) scale(1.0 1)" font-size="8.8" text-anchor="middle" stroke="#111" stroke-width="0.18" >150</text>
<text transform="translate(288 348.8) scale(1.0 1)" font-size="8.8" text-anchor="middle" stroke="#111" stroke-width="0.18" >180</text>
<text transform="translate(301.7 402.6) scale(1.0 1)" font-size="8.8" text-anchor="middle" stroke="#111" stroke-width="0.18" >210</text>
<text transform="translate(341.7 442.2) scale(1.0 1)" font-size="8.8" text-anchor="middle" stroke="#111" stroke-width="0.18" >240</text>
<text transform="translate(396.4 456) scale(1.0 1)" font-size="8.8" text-anchor="middle" stroke="#111" stroke-width="0.18" >270</text>
<text transform="translate(450.2 441.8) scale(1.0 1)" font-size="8.8" text-anchor="middle" stroke="#111" stroke-width="0.18" >300</text>
<text transform="translate(489.6 402.4) scale(1.0 1)" font-size="8.8" text-anchor="middle" stroke="#111" stroke-width="0.18" >330</text>
<path d="M396.2 252.4 L396.87 252.47 L397.53 252.65 L398.15 252.93 L398.73 253.28 L399.26 253.69 L399.76 254.15 L400.24 254.63 L400.68 255.13 L401.1 255.66 L401.51 256.2 L401.9 256.75 L402.27 257.31 L402.64 257.88 L403 258.45 L403.36 259.02 L403.72 259.59 L404.08 260.16 L404.43 260.74 L404.78 261.31 L405.12 261.9 L405.45 262.48 L405.77 263.07 L406.08 263.67 L406.39 264.27 L406.69 264.87 L406.99 265.48 L407.29 266.08 L407.59 266.69 L407.88 267.3 L408.18 267.9 L408.47 268.51 L408.76 269.12 L409.05 269.73 L409.34 270.34 L409.62 270.95 L409.9 271.56 L410.18 272.17 L410.46 272.79 L410.73 273.4 L411.01 274.02 L411.28 274.64 L411.54 275.26 L411.81 275.88 L412.07 276.5 L412.33 277.12 L412.59 277.74 L412.85 278.36 L413.11 278.99 L413.36 279.61 L413.62 280.23 L413.88 280.86 L414.13 281.48 L414.39 282.11 L414.64 282.73 L414.9 283.35 L415.16 283.98 L415.41 284.6 L415.67 285.22 L415.93 285.85 L416.19 286.47 L416.45 287.09 L416.71 287.72 L416.96 288.34 L417.22 288.96 L417.48 289.59 L417.73 290.21 L417.99 290.84 L418.24 291.46 L418.49 292.09 L418.74 292.71 L418.99 293.34 L419.23 293.97 L419.47 294.6 L419.71 295.23 L419.95 295.86 L420.18 296.49 L420.42 297.12 L420.64 297.76 L420.87 298.39 L421.09 299.03 L421.3 299.67 L421.52 300.31 L421.73 300.95 L421.93 301.59 L422.14 302.23 L422.34 302.88 L422.53 303.52 L422.73 304.17 L422.92 304.81 L423.1 305.46 L423.29 306.11 L423.47 306.76 L423.65 307.41 L423.82 308.06 L423.99 308.72 L424.16 309.37 L424.33 310.02 L424.49 310.68 L424.66 311.33 L424.81 311.99 L424.97 312.65 L425.12 313.3 L425.27 313.96 L425.42 314.62 L425.57 315.28 L425.71 315.93 L425.85 316.59 L425.99 317.25 L426.13 317.91 L426.26 318.58 L426.39 319.24 L426.52 319.9 L426.65 320.56 L426.77 321.22 L426.89 321.89 L427.01 322.55 L427.12 323.22 L427.23 323.88 L427.34 324.55 L427.45 325.21 L427.55 325.88 L427.65 326.55 L427.75 327.21 L427.84 327.88 L427.93 328.55 L428.02 329.22 L428.1 329.89 L428.18 330.56 L428.26 331.23 L428.33 331.9 L428.39 332.57 L428.45 333.24 L428.51 333.91 L428.56 334.59 L428.6 335.26 L428.64 335.93 L428.68 336.6 L428.7 337.28 L428.73 337.95 L428.75 338.62 L428.76 339.3 L428.77 339.97 L428.78 340.65 L428.79 341.32 L428.79 342 L428.8 342.67 L428.8 343.34 L428.8 344.02 L428.8 344.69 L428.8 345.37 L428.8 346.04 L428.8 346.72 L428.8 347.39 L428.8 348.07 L428.79 348.74 L428.79 349.42 L428.78 350.09 L428.77 350.76 L428.75 351.44 L428.74 352.11 L428.72 352.79 L428.69 353.46 L428.66 354.13 L428.62 354.81 L428.58 355.48 L428.54 356.15 L428.48 356.82 L428.42 357.49 L428.36 358.17 L428.29 358.84 L428.22 359.51 L428.14 360.18 L428.06 360.85 L427.98 361.52 L427.89 362.18 L427.8 362.85 L427.7 363.52 L427.6 364.19 L427.5 364.85 L427.4 365.52 L427.29 366.19 L427.18 366.85 L427.06 367.52 L426.95 368.18 L426.83 368.84 L426.71 369.51 L426.58 370.17 L426.46 370.83 L426.33 371.49 L426.2 372.16 L426.06 372.82 L425.92 373.48 L425.78 374.14 L425.64 374.79 L425.5 375.45 L425.35 376.11 L425.2 376.77 L425.05 377.43 L424.89 378.08 L424.74 378.74 L424.58 379.39 L424.41 380.05 L424.25 380.7 L424.08 381.36 L423.91 382.01 L423.74 382.66 L423.56 383.31 L423.38 383.96 L423.2 384.61 L423.01 385.26 L422.82 385.91 L422.63 386.56 L422.44 387.2 L422.24 387.85 L422.04 388.49 L421.83 389.13 L421.62 389.77 L421.41 390.41 L421.2 391.05 L420.98 391.69 L420.76 392.33 L420.53 392.96 L420.3 393.59 L420.07 394.23 L419.83 394.86 L419.59 395.49 L419.35 396.12 L419.11 396.75 L418.86 397.37 L418.61 398 L418.36 398.63 L418.11 399.25 L417.86 399.88 L417.6 400.5 L417.35 401.13 L417.09 401.75 L416.83 402.37 L416.58 403 L416.32 403.62 L416.06 404.24 L415.8 404.86 L415.54 405.49 L415.28 406.11 L415.03 406.73 L414.77 407.36 L414.51 407.98 L414.26 408.61 L414 409.23 L413.75 409.85 L413.49 410.48 L413.24 411.1 L412.98 411.73 L412.72 412.35 L412.46 412.97 L412.2 413.59 L411.94 414.21 L411.68 414.83 L411.41 415.45 L411.14 416.07 L410.87 416.69 L410.6 417.3 L410.32 417.92 L410.04 418.53 L409.76 419.15 L409.48 419.76 L409.19 420.37 L408.9 420.98 L408.61 421.59 L408.32 422.19 L408.03 422.8 L407.73 423.41 L407.44 424.01 L407.14 424.62 L406.84 425.22 L406.54 425.83 L406.24 426.43 L405.93 427.03 L405.61 427.62 L405.28 428.21 L404.95 428.8 L404.6 429.38 L404.25 429.95 L403.9 430.53 L403.54 431.1 L403.18 431.67 L402.82 432.24 L402.46 432.81 L402.09 433.37 L401.7 433.93 L401.31 434.47 L400.9 435.01 L400.46 435.52 L400 436.02 L399.52 436.48 L399 436.92 L398.45 437.3 L397.85 437.62 L397.2 437.86 L396.54 437.98 L395.86 437.98 L395.2 437.86 L394.55 437.62 L393.95 437.3 L393.4 436.92 L392.88 436.48 L392.4 436.02 L391.94 435.52 L391.5 435.01 L391.09 434.47 L390.7 433.93 L390.31 433.37 L389.94 432.81 L389.58 432.24 L389.22 431.67 L388.86 431.1 L388.5 430.53 L388.15 429.95 L387.8 429.38 L387.45 428.8 L387.12 428.21 L386.79 427.62 L386.47 427.03 L386.16 426.43 L385.86 425.83 L385.56 425.22 L385.26 424.62 L384.96 424.01 L384.67 423.41 L384.37 422.8 L384.08 422.19 L383.79 421.59 L383.5 420.98 L383.21 420.37 L382.92 419.76 L382.64 419.15 L382.36 418.53 L382.08 417.92 L381.8 417.3 L381.53 416.69 L381.26 416.07 L380.99 415.45 L380.72 414.83 L380.46 414.21 L380.2 413.59 L379.94 412.97 L379.68 412.35 L379.42 411.73 L379.16 411.1 L378.91 410.48 L378.65 409.85 L378.4 409.23 L378.14 408.61 L377.89 407.98 L377.63 407.36 L377.37 406.73 L377.12 406.11 L376.86 405.49 L376.6 404.86 L376.34 404.24 L376.08 403.62 L375.82 403 L375.57 402.37 L375.31 401.75 L375.05 401.13 L374.8 400.5 L374.54 399.88 L374.29 399.25 L374.04 398.63 L373.79 398 L373.54 397.37 L373.29 396.75 L373.05 396.12 L372.81 395.49 L372.57 394.86 L372.33 394.23 L372.1 393.59 L371.87 392.96 L371.64 392.33 L371.42 391.69 L371.2 391.05 L370.99 390.41 L370.78 389.77 L370.57 389.13 L370.36 388.49 L370.16 387.85 L369.96 387.2 L369.77 386.56 L369.58 385.91 L369.39 385.26 L369.2 384.61 L369.02 383.96 L368.84 383.31 L368.66 382.66 L368.49 382.01 L368.32 381.36 L368.15 380.7 L367.99 380.05 L367.82 379.39 L367.66 378.74 L367.51 378.08 L367.35 377.43 L367.2 376.77 L367.05 376.11 L366.9 375.45 L366.76 374.79 L366.62 374.14 L366.48 373.48 L366.34 372.82 L366.2 372.16 L366.07 371.49 L365.94 370.83 L365.82 370.17 L365.69 369.51 L365.57 368.84 L365.45 368.18 L365.34 367.52 L365.22 366.85 L365.11 366.19 L365 365.52 L364.9 364.85 L364.8 364.19 L364.7 363.52 L364.6 362.85 L364.51 362.18 L364.42 361.52 L364.34 360.85 L364.26 360.18 L364.18 359.51 L364.11 358.84 L364.04 358.17 L363.98 357.49 L363.92 356.82 L363.86 356.15 L363.82 355.48 L363.78 354.81 L363.74 354.13 L363.71 353.46 L363.68 352.79 L363.66 352.11 L363.65 351.44 L363.63 350.76 L363.62 350.09 L363.61 349.42 L363.61 348.74 L363.6 348.07 L363.6 347.39 L363.6 346.72 L363.6 346.04 L363.6 345.37 L363.6 344.69 L363.6 344.02 L363.6 343.34 L363.6 342.67 L363.61 342 L363.61 341.32 L363.62 340.65 L363.63 339.97 L363.64 339.3 L363.65 338.62 L363.67 337.95 L363.7 337.28 L363.72 336.6 L363.76 335.93 L363.8 335.26 L363.84 334.59 L363.89 333.91 L363.95 333.24 L364.01 332.57 L364.07 331.9 L364.14 331.23 L364.22 330.56 L364.3 329.89 L364.38 329.22 L364.47 328.55 L364.56 327.88 L364.65 327.21 L364.75 326.55 L364.85 325.88 L364.95 325.21 L365.06 324.55 L365.17 323.88 L365.28 323.22 L365.39 322.55 L365.51 321.89 L365.63 321.22 L365.75 320.56 L365.88 319.9 L366.01 319.24 L366.14 318.58 L366.27 317.91 L366.41 317.25 L366.55 316.59 L366.69 315.93 L366.83 315.28 L366.98 314.62 L367.13 313.96 L367.28 313.3 L367.43 312.65 L367.59 311.99 L367.74 311.33 L367.91 310.68 L368.07 310.02 L368.24 309.37 L368.41 308.72 L368.58 308.06 L368.75 307.41 L368.93 306.76 L369.11 306.11 L369.3 305.46 L369.48 304.81 L369.67 304.17 L369.87 303.52 L370.06 302.88 L370.26 302.23 L370.47 301.59 L370.67 300.95 L370.88 300.31 L371.1 299.67 L371.31 299.03 L371.53 298.39 L371.76 297.76 L371.98 297.12 L372.22 296.49 L372.45 295.86 L372.69 295.23 L372.93 294.6 L373.17 293.97 L373.41 293.34 L373.66 292.71 L373.91 292.09 L374.16 291.46 L374.41 290.84 L374.67 290.21 L374.92 289.59 L375.18 288.96 L375.44 288.34 L375.69 287.72 L375.95 287.09 L376.21 286.47 L376.47 285.85 L376.73 285.22 L376.99 284.6 L377.24 283.98 L377.5 283.35 L377.76 282.73 L378.01 282.11 L378.27 281.48 L378.52 280.86 L378.78 280.23 L379.04 279.61 L379.29 278.99 L379.55 278.36 L379.81 277.74 L380.07 277.12 L380.33 276.5 L380.59 275.88 L380.86 275.26 L381.12 274.64 L381.39 274.02 L381.67 273.4 L381.94 272.79 L382.22 272.17 L382.5 271.56 L382.78 270.95 L383.06 270.34 L383.35 269.73 L383.64 269.12 L383.93 268.51 L384.22 267.9 L384.52 267.3 L384.81 266.69 L385.11 266.08 L385.41 265.48 L385.71 264.87 L386.01 264.27 L386.32 263.67 L386.63 263.07 L386.95 262.48 L387.28 261.9 L387.62 261.31 L387.97 260.74 L388.32 260.16 L388.68 259.59 L389.04 259.02 L389.4 258.45 L389.76 257.88 L390.13 257.31 L390.5 256.75 L390.89 256.2 L391.3 255.66 L391.72 255.13 L392.16 254.63 L392.64 254.15 L393.14 253.69 L393.67 253.28 L394.25 252.93 L394.87 252.65 L395.53 252.47 L396.2 252.4Z" fill="none" stroke="#1c1c1c" stroke-width="1.0" stroke-linejoin="round"/>
<path d="M396.2 336.4 L396.79 336.27 L397.37 336.11 L397.93 335.92 L398.49 335.71 L399.04 335.47 L399.58 335.22 L400.11 334.96 L400.64 334.69 L401.17 334.42 L401.7 334.14 L402.23 333.87 L402.77 333.6 L403.31 333.35 L403.85 333.11 L404.41 332.88 L404.97 332.67 L405.53 332.47 L406.1 332.28 L406.67 332.11 L407.24 331.94 L407.82 331.79 L408.4 331.65 L408.98 331.52 L409.57 331.41 L410.16 331.3 L410.75 331.2 L411.34 331.11 L411.93 331.03 L412.52 330.96 L413.11 330.9 L413.71 330.84 L414.3 330.79 L414.9 330.75 L415.49 330.71 L416.09 330.68 L416.69 330.65 L417.28 330.63 L417.88 330.61 L418.47 330.6 L419.07 330.59 L419.67 330.59 L420.26 330.58 L420.86 330.59 L421.46 330.59 L422.05 330.6 L422.65 330.61 L423.25 330.62 L423.85 330.63 L424.44 330.65 L425.04 330.67 L425.63 330.7 L426.23 330.73 L426.82 330.77 L427.42 330.82 L428.01 330.87 L428.61 330.92 L429.2 330.99 L429.79 331.06 L430.38 331.13 L430.97 331.21 L431.56 331.29 L432.15 331.37 L432.74 331.46 L433.33 331.55 L433.92 331.65 L434.51 331.74 L435.1 331.84 L435.69 331.94 L436.28 332.04 L436.87 332.14 L437.46 332.24 L438.05 332.35 L438.63 332.45 L439.22 332.55 L439.81 332.65 L440.4 332.75 L440.99 332.86 L441.57 332.96 L442.16 333.07 L442.75 333.17 L443.33 333.28 L443.92 333.38 L444.51 333.49 L445.09 333.6 L445.68 333.71 L446.26 333.82 L446.85 333.93 L447.44 334.05 L448.02 334.16 L448.6 334.28 L449.19 334.4 L449.77 334.52 L450.36 334.64 L450.94 334.77 L451.52 334.89 L452.11 335.02 L452.69 335.15 L453.27 335.28 L453.85 335.41 L454.43 335.54 L455.01 335.68 L455.6 335.81 L456.18 335.95 L456.76 336.09 L457.34 336.23 L457.92 336.38 L458.5 336.52 L459.07 336.67 L459.65 336.82 L460.23 336.97 L460.81 337.12 L461.39 337.27 L461.96 337.43 L462.54 337.58 L463.12 337.74 L463.69 337.9 L464.26 338.06 L464.84 338.22 L465.41 338.38 L465.98 338.55 L466.56 338.71 L467.13 338.88 L467.7 339.05 L468.27 339.22 L468.84 339.39 L469.4 339.56 L469.97 339.74 L470.54 339.92 L471.11 340.09 L471.67 340.28 L472.24 340.46 L472.8 340.64 L473.37 340.83 L473.93 341.02 L474.5 341.22 L475.06 341.42 L475.63 341.62 L476.19 341.82 L476.76 342.03 L477.32 342.25 L477.89 342.46 L478.45 342.69 L479 342.92 L479.54 343.17 L480.06 343.43 L480.57 343.71 L481.06 344.03 L481.55 344.44 L481.94 344.94 L481.94 345.46 L481.55 345.96 L481.06 346.37 L480.57 346.69 L480.06 346.97 L479.54 347.23 L479 347.48 L478.45 347.71 L477.89 347.94 L477.32 348.15 L476.76 348.37 L476.19 348.58 L475.63 348.78 L475.06 348.98 L474.5 349.18 L473.93 349.38 L473.37 349.57 L472.8 349.76 L472.24 349.94 L471.67 350.12 L471.11 350.31 L470.54 350.48 L469.97 350.66 L469.4 350.84 L468.84 351.01 L468.27 351.18 L467.7 351.35 L467.13 351.52 L466.56 351.69 L465.98 351.85 L465.41 352.02 L464.84 352.18 L464.26 352.34 L463.69 352.5 L463.12 352.66 L462.54 352.82 L461.96 352.97 L461.39 353.13 L460.81 353.28 L460.23 353.43 L459.65 353.58 L459.07 353.73 L458.5 353.88 L457.92 354.02 L457.34 354.17 L456.76 354.31 L456.18 354.45 L455.6 354.59 L455.01 354.72 L454.43 354.86 L453.85 354.99 L453.27 355.12 L452.69 355.25 L452.11 355.38 L451.52 355.51 L450.94 355.63 L450.36 355.76 L449.77 355.88 L449.19 356 L448.6 356.12 L448.02 356.24 L447.44 356.35 L446.85 356.47 L446.26 356.58 L445.68 356.69 L445.09 356.8 L444.51 356.91 L443.92 357.02 L443.33 357.12 L442.75 357.23 L442.16 357.33 L441.57 357.44 L440.99 357.54 L440.4 357.65 L439.81 357.75 L439.22 357.85 L438.63 357.95 L438.05 358.05 L437.46 358.16 L436.87 358.26 L436.28 358.36 L435.69 358.46 L435.1 358.56 L434.51 358.66 L433.92 358.75 L433.33 358.85 L432.74 358.94 L432.15 359.03 L431.56 359.11 L430.97 359.19 L430.38 359.27 L429.79 359.34 L429.2 359.41 L428.61 359.48 L428.01 359.53 L427.42 359.58 L426.82 359.63 L426.23 359.67 L425.63 359.7 L425.04 359.73 L424.44 359.75 L423.85 359.77 L423.25 359.78 L422.65 359.79 L422.05 359.8 L421.46 359.81 L420.86 359.81 L420.26 359.82 L419.67 359.81 L419.07 359.81 L418.47 359.8 L417.88 359.79 L417.28 359.77 L416.69 359.75 L416.09 359.72 L415.49 359.69 L414.9 359.65 L414.3 359.61 L413.71 359.56 L413.11 359.5 L412.52 359.44 L411.93 359.37 L411.34 359.29 L410.75 359.2 L410.16 359.1 L409.57 358.99 L408.98 358.88 L408.4 358.75 L407.82 358.61 L407.24 358.46 L406.67 358.29 L406.1 358.12 L405.53 357.93 L404.97 357.73 L404.41 357.52 L403.85 357.29 L403.31 357.05 L402.77 356.8 L402.23 356.53 L401.7 356.26 L401.17 355.98 L400.64 355.71 L400.11 355.44 L399.58 355.18 L399.04 354.93 L398.49 354.69 L397.93 354.48 L397.37 354.29 L396.79 354.13 L396.2 354 M396.2 336.4 L395.61 336.27 L395.03 336.11 L394.47 335.92 L393.91 335.71 L393.36 335.47 L392.82 335.22 L392.29 334.96 L391.76 334.69 L391.23 334.42 L390.7 334.14 L390.17 333.87 L389.63 333.6 L389.09 333.35 L388.55 333.11 L387.99 332.88 L387.43 332.67 L386.87 332.47 L386.3 332.28 L385.73 332.11 L385.16 331.94 L384.58 331.79 L384 331.65 L383.42 331.52 L382.83 331.41 L382.24 331.3 L381.65 331.2 L381.06 331.11 L380.47 331.03 L379.88 330.96 L379.29 330.9 L378.69 330.84 L378.1 330.79 L377.5 330.75 L376.91 330.71 L376.31 330.68 L375.71 330.65 L375.12 330.63 L374.52 330.61 L373.93 330.6 L373.33 330.59 L372.73 330.59 L372.14 330.58 L371.54 330.59 L370.94 330.59 L370.35 330.6 L369.75 330.61 L369.15 330.62 L368.55 330.63 L367.96 330.65 L367.36 330.67 L366.77 330.7 L366.17 330.73 L365.58 330.77 L364.98 330.82 L364.39 330.87 L363.79 330.92 L363.2 330.99 L362.61 331.06 L362.02 331.13 L361.43 331.21 L360.84 331.29 L360.25 331.37 L359.66 331.46 L359.07 331.55 L358.48 331.65 L357.89 331.74 L357.3 331.84 L356.71 331.94 L356.12 332.04 L355.53 332.14 L354.94 332.24 L354.35 332.35 L353.77 332.45 L353.18 332.55 L352.59 332.65 L352 332.75 L351.41 332.86 L350.83 332.96 L350.24 333.07 L349.65 333.17 L349.07 333.28 L348.48 333.38 L347.89 333.49 L347.31 333.6 L346.72 333.71 L346.14 333.82 L345.55 333.93 L344.96 334.05 L344.38 334.16 L343.8 334.28 L343.21 334.4 L342.63 334.52 L342.04 334.64 L341.46 334.77 L340.88 334.89 L340.29 335.02 L339.71 335.15 L339.13 335.28 L338.55 335.41 L337.97 335.54 L337.39 335.68 L336.8 335.81 L336.22 335.95 L335.64 336.09 L335.06 336.23 L334.48 336.38 L333.9 336.52 L333.33 336.67 L332.75 336.82 L332.17 336.97 L331.59 337.12 L331.01 337.27 L330.44 337.43 L329.86 337.58 L329.28 337.74 L328.71 337.9 L328.14 338.06 L327.56 338.22 L326.99 338.38 L326.42 338.55 L325.84 338.71 L325.27 338.88 L324.7 339.05 L324.13 339.22 L323.56 339.39 L323 339.56 L322.43 339.74 L321.86 339.92 L321.29 340.09 L320.73 340.28 L320.16 340.46 L319.6 340.64 L319.03 340.83 L318.47 341.02 L317.9 341.22 L317.34 341.42 L316.77 341.62 L316.21 341.82 L315.64 342.03 L315.08 342.25 L314.51 342.46 L313.95 342.69 L313.4 342.92 L312.86 343.17 L312.34 343.43 L311.83 343.71 L311.34 344.03 L310.85 344.44 L310.46 344.94 L310.46 345.46 L310.85 345.96 L311.34 346.37 L311.83 346.69 L312.34 346.97 L312.86 347.23 L313.4 347.48 L313.95 347.71 L314.51 347.94 L315.08 348.15 L315.64 348.37 L316.21 348.58 L316.77 348.78 L317.34 348.98 L317.9 349.18 L318.47 349.38 L319.03 349.57 L319.6 349.76 L320.16 349.94 L320.73 350.12 L321.29 350.31 L321.86 350.48 L322.43 350.66 L323 350.84 L323.56 351.01 L324.13 351.18 L324.7 351.35 L325.27 351.52 L325.84 351.69 L326.42 351.85 L326.99 352.02 L327.56 352.18 L328.14 352.34 L328.71 352.5 L329.28 352.66 L329.86 352.82 L330.44 352.97 L331.01 353.13 L331.59 353.28 L332.17 353.43 L332.75 353.58 L333.33 353.73 L333.9 353.88 L334.48 354.02 L335.06 354.17 L335.64 354.31 L336.22 354.45 L336.8 354.59 L337.39 354.72 L337.97 354.86 L338.55 354.99 L339.13 355.12 L339.71 355.25 L340.29 355.38 L340.88 355.51 L341.46 355.63 L342.04 355.76 L342.63 355.88 L343.21 356 L343.8 356.12 L344.38 356.24 L344.96 356.35 L345.55 356.47 L346.14 356.58 L346.72 356.69 L347.31 356.8 L347.89 356.91 L348.48 357.02 L349.07 357.12 L349.65 357.23 L350.24 357.33 L350.83 357.44 L351.41 357.54 L352 357.65 L352.59 357.75 L353.18 357.85 L353.77 357.95 L354.35 358.05 L354.94 358.16 L355.53 358.26 L356.12 358.36 L356.71 358.46 L357.3 358.56 L357.89 358.66 L358.48 358.75 L359.07 358.85 L359.66 358.94 L360.25 359.03 L360.84 359.11 L361.43 359.19 L362.02 359.27 L362.61 359.34 L363.2 359.41 L363.79 359.48 L364.39 359.53 L364.98 359.58 L365.58 359.63 L366.17 359.67 L366.77 359.7 L367.36 359.73 L367.96 359.75 L368.55 359.77 L369.15 359.78 L369.75 359.79 L370.35 359.8 L370.94 359.81 L371.54 359.81 L372.14 359.82 L372.73 359.81 L373.33 359.81 L373.93 359.8 L374.52 359.79 L375.12 359.77 L375.71 359.75 L376.31 359.72 L376.91 359.69 L377.5 359.65 L378.1 359.61 L378.69 359.56 L379.29 359.5 L379.88 359.44 L380.47 359.37 L381.06 359.29 L381.65 359.2 L382.24 359.1 L382.83 358.99 L383.42 358.88 L384 358.75 L384.58 358.61 L385.16 358.46 L385.73 358.29 L386.3 358.12 L386.87 357.93 L387.43 357.73 L387.99 357.52 L388.55 357.29 L389.09 357.05 L389.63 356.8 L390.17 356.53 L390.7 356.26 L391.23 355.98 L391.76 355.71 L392.29 355.44 L392.82 355.18 L393.36 354.93 L393.91 354.69 L394.47 354.48 L395.03 354.29 L395.61 354.13 L396.2 354" fill="none" stroke="#1c1c1c" stroke-width="1.0" stroke-linejoin="round"/>
<path d="M429 342.7l2.5 4.2h-5zM429.68 336.8l2.5 4.2h-5zM429.56 330.56l2.5 4.2h-5zM428.94 323.8l2.5 4.2h-5zM427.07 316.8l2.5 4.2h-5zM425.32 308l2.5 4.2h-5zM423.15 296.02l2.5 4.2h-5zM417.78 283.41l2.5 4.2h-5zM409.92 264.9l2.5 4.2h-5zM396.2 254.3l2.5 4.2h-5zM383.7 271.79l2.5 4.2h-5zM375.85 286.79l2.5 4.2h-5zM371.55 300l2.5 4.2h-5zM368.88 310.14l2.5 4.2h-5zM366.4 317.7l2.5 4.2h-5zM365.02 324.7l2.5 4.2h-5zM364.16 331.04l2.5 4.2h-5zM364 337.02l2.5 4.2h-5zM363.8 342.7l2.5 4.2h-5zM363.9 348.4l2.5 4.2h-5zM364.25 354.33l2.5 4.2h-5zM364.76 360.85l2.5 4.2h-5zM366.25 367.83l2.5 4.2h-5zM368.43 375.79l2.5 4.2h-5zM371.4 385.65l2.5 4.2h-5zM375.82 398.71l2.5 4.2h-5zM383.35 415.58l2.5 4.2h-5zM396.2 428.8l2.5 4.2h-5zM407.96 409.37l2.5 4.2h-5zM415.46 395.6l2.5 4.2h-5zM419.85 383.66l2.5 4.2h-5zM423.52 375.26l2.5 4.2h-5zM425.08 366.93l2.5 4.2h-5zM426.34 360.1l2.5 4.2h-5zM427.68 354.16l2.5 4.2h-5zM428.7 348.43l2.5 4.2h-5z" fill="#0c0c0c"/>
<ellipse cx="314.2" cy="345" rx="2.9" ry="2.4" fill="#0c0c0c"/>
<ellipse cx="336.4" cy="334.4" rx="2.9" ry="2.4" fill="#0c0c0c"/>
<ellipse cx="357" cy="330.7" rx="2.9" ry="2.4" fill="#0c0c0c"/>
<ellipse cx="369.5" cy="330.2" rx="2.9" ry="2.4" fill="#0c0c0c"/>
<ellipse cx="378" cy="330.6" rx="2.9" ry="2.4" fill="#0c0c0c"/>
<ellipse cx="384" cy="331.4" rx="2.9" ry="2.4" fill="#0c0c0c"/>
<ellipse cx="388.4" cy="332.4" rx="2.9" ry="2.4" fill="#0c0c0c"/>
<ellipse cx="392.2" cy="333.7" rx="2.9" ry="2.4" fill="#0c0c0c"/>
<ellipse cx="396.2" cy="334.8" rx="2.9" ry="2.4" fill="#0c0c0c"/>
<ellipse cx="400.6" cy="333.5" rx="2.9" ry="2.4" fill="#0c0c0c"/>
<ellipse cx="404.1" cy="332.3" rx="2.9" ry="2.4" fill="#0c0c0c"/>
<ellipse cx="408.9" cy="330.9" rx="2.9" ry="2.4" fill="#0c0c0c"/>
<ellipse cx="414.8" cy="329.9" rx="2.9" ry="2.4" fill="#0c0c0c"/>
<ellipse cx="421.9" cy="330.4" rx="2.9" ry="2.4" fill="#0c0c0c"/>
<ellipse cx="431.4" cy="332.3" rx="2.9" ry="2.4" fill="#0c0c0c"/>
<ellipse cx="448.2" cy="335.9" rx="2.9" ry="2.4" fill="#0c0c0c"/>
<ellipse cx="482.5" cy="345" rx="2.9" ry="2.4" fill="#0c0c0c"/>
<ellipse cx="347.3" cy="353.6" rx="2.9" ry="2.4" fill="#0c0c0c"/>
<ellipse cx="363.2" cy="357.6" rx="2.9" ry="2.4" fill="#0c0c0c"/>
<ellipse cx="373.4" cy="358.6" rx="2.9" ry="2.4" fill="#0c0c0c"/>
<ellipse cx="379.9" cy="358.2" rx="2.9" ry="2.4" fill="#0c0c0c"/>
<ellipse cx="385.5" cy="357.1" rx="2.9" ry="2.4" fill="#0c0c0c"/>
<ellipse cx="390.2" cy="355.7" rx="2.9" ry="2.4" fill="#0c0c0c"/>
<ellipse cx="393.7" cy="354" rx="2.9" ry="2.4" fill="#0c0c0c"/>
<ellipse cx="396.3" cy="352.9" rx="2.9" ry="2.4" fill="#0c0c0c"/>
<ellipse cx="399" cy="354.3" rx="2.9" ry="2.4" fill="#0c0c0c"/>
<ellipse cx="402.6" cy="356.1" rx="2.9" ry="2.4" fill="#0c0c0c"/>
<ellipse cx="407.6" cy="358.4" rx="2.9" ry="2.4" fill="#0c0c0c"/>
<ellipse cx="414" cy="359.7" rx="2.9" ry="2.4" fill="#0c0c0c"/>
<ellipse cx="422" cy="360.4" rx="2.9" ry="2.4" fill="#0c0c0c"/>
<ellipse cx="435.2" cy="359.6" rx="2.9" ry="2.4" fill="#0c0c0c"/>
<ellipse cx="457.4" cy="355.7" rx="2.9" ry="2.4" fill="#0c0c0c"/>
<rect x="487.2" y="237.1" width="3.4" height="3.4" fill="#0c0c0c"/>
<circle cx="488.9" cy="250.9" r="1.9" fill="#0c0c0c"/>
<path d="M488.9 260.2l2.2 2.3l-2.2 2.3l-2.2 -2.3z" fill="#0c0c0c"/>
<path d="M488.9 272.3l2.3 4.0h-4.6z" fill="#0c0c0c"/>
<text transform="translate(502.2 242) scale(1.0 1)" font-size="9.2" text-anchor="start" stroke="#111" stroke-width="0.18" ><tspan font-style="italic">λ</tspan> = 785 nm</text>
<text transform="translate(502.2 254) scale(1.0 1)" font-size="9.2" text-anchor="start" stroke="#111" stroke-width="0.18" ><tspan font-style="italic">λ</tspan> = 867 nm</text>
<text transform="translate(502.2 265.8) scale(1.0 1)" font-size="9.2" text-anchor="start" stroke="#111" stroke-width="0.18" ><tspan font-style="italic">λ</tspan> = 900 nm</text>
<text transform="translate(502.2 277.8) scale(1.0 1)" font-size="9.2" text-anchor="start" stroke="#111" stroke-width="0.18" ><tspan font-style="italic">λ</tspan> = 354 nm</text>
<text transform="translate(281.9 266.4) scale(1.0 1)" font-size="12.3" text-anchor="start" stroke="#111" stroke-width="0.3" font-weight="bold">(b)</text>
</g>
</svg>
</body>
</html>
